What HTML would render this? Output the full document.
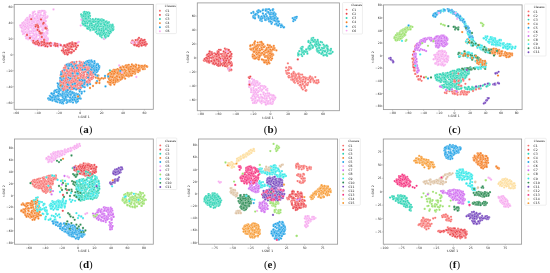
<!DOCTYPE html><html><head><meta charset="utf-8"><style>html,body{margin:0;padding:0;background:#fff;width:550px;height:273px;overflow:hidden}svg{display:block}text{font-family:"DejaVu Sans","Liberation Sans",sans-serif}</style></head><body>
<svg width="550" height="273" viewBox="0 0 550 273">
<rect width="550" height="273" fill="#fff"/>
<defs><marker id="k0" viewBox="-1.5 -1.5 3 3" markerWidth="3" markerHeight="3" markerUnits="userSpaceOnUse" overflow="visible"><circle r="1.15" fill="#f76e6c" stroke="#fff" stroke-width="0.22"/></marker><marker id="k1" viewBox="-1.5 -1.5 3 3" markerWidth="3" markerHeight="3" markerUnits="userSpaceOnUse" overflow="visible"><circle r="1.15" fill="#ea4048" stroke="#fff" stroke-width="0.22"/></marker><marker id="k2" viewBox="-1.5 -1.5 3 3" markerWidth="3" markerHeight="3" markerUnits="userSpaceOnUse" overflow="visible"><circle r="1.15" fill="#28d2b2" stroke="#fff" stroke-width="0.22"/></marker><marker id="k3" viewBox="-1.5 -1.5 3 3" markerWidth="3" markerHeight="3" markerUnits="userSpaceOnUse" overflow="visible"><circle r="1.15" fill="#f47d22" stroke="#fff" stroke-width="0.22"/></marker><marker id="k4" viewBox="-1.5 -1.5 3 3" markerWidth="3" markerHeight="3" markerUnits="userSpaceOnUse" overflow="visible"><circle r="1.15" fill="#22a2e6" stroke="#fff" stroke-width="0.22"/></marker><marker id="k5" viewBox="-1.5 -1.5 3 3" markerWidth="3" markerHeight="3" markerUnits="userSpaceOnUse" overflow="visible"><circle r="1.15" fill="#f7a8ef" stroke="#fff" stroke-width="0.22"/></marker><marker id="k6" viewBox="-1.5 -1.5 3 3" markerWidth="3" markerHeight="3" markerUnits="userSpaceOnUse" overflow="visible"><circle r="1.15" fill="#d06cf0" stroke="#fff" stroke-width="0.22"/></marker><marker id="k7" viewBox="-1.5 -1.5 3 3" markerWidth="3" markerHeight="3" markerUnits="userSpaceOnUse" overflow="visible"><circle r="1.15" fill="#9ae06a" stroke="#fff" stroke-width="0.22"/></marker><marker id="k8" viewBox="-1.5 -1.5 3 3" markerWidth="3" markerHeight="3" markerUnits="userSpaceOnUse" overflow="visible"><circle r="1.15" fill="#30e8e8" stroke="#fff" stroke-width="0.22"/></marker><marker id="k9" viewBox="-1.5 -1.5 3 3" markerWidth="3" markerHeight="3" markerUnits="userSpaceOnUse" overflow="visible"><circle r="1.15" fill="#2a8a52" stroke="#fff" stroke-width="0.22"/></marker><marker id="k10" viewBox="-1.5 -1.5 3 3" markerWidth="3" markerHeight="3" markerUnits="userSpaceOnUse" overflow="visible"><circle r="1.15" fill="#7445bd" stroke="#fff" stroke-width="0.22"/></marker><marker id="k11" viewBox="-1.5 -1.5 3 3" markerWidth="3" markerHeight="3" markerUnits="userSpaceOnUse" overflow="visible"><circle r="1.15" fill="#dcc0a0" stroke="#fff" stroke-width="0.22"/></marker><marker id="k12" viewBox="-1.5 -1.5 3 3" markerWidth="3" markerHeight="3" markerUnits="userSpaceOnUse" overflow="visible"><circle r="1.15" fill="#f5307e" stroke="#fff" stroke-width="0.22"/></marker><marker id="k13" viewBox="-1.5 -1.5 3 3" markerWidth="3" markerHeight="3" markerUnits="userSpaceOnUse" overflow="visible"><circle r="1.15" fill="#fddc98" stroke="#fff" stroke-width="0.22"/></marker><marker id="k14" viewBox="-1.5 -1.5 3 3" markerWidth="3" markerHeight="3" markerUnits="userSpaceOnUse" overflow="visible"><circle r="1.15" fill="#f79a32" stroke="#fff" stroke-width="0.22"/></marker></defs>
<g fill="none" stroke="none"><path d="M65.2 85.5l12.7-7.2 15.4-9.1-23.6 .5 13 8.7-14.8-6.4 15.3 12.6-16.1-15.5 6.7 4.5 19 4.5-22.7-9.3 10.2-1.7-14.7 14.5-2.1 7 7.8-12 21 1.1-29.5 .7 3.5 3.6 15.6-13.7-13.3 5.4 9.7 8.8-17.7 0 17-16.8-1.8 1.4 9 9.7-22.8-4.2 24.7 1.5-.1-8.9-21 18.4 3.1-.7 24.4-12-24.2 1.1-.8 16.2 14.6-15.8 6.4-7.2-10.3 9.4 8.8-6.7-11.8 5.1-5.4 6.8 9.8 5.7 2.8-18.1-10.7 4.5-11.6 6.7 26.6-6.9-12.5 .7-8.2-2.3 10.6 17.4-8.6-18.1 16.2 13.8-16.9-14.4 12.9 18.9 4.1-4.5-.3-1.2-15.5 3.8 18.5-4.7-16.2 2.6 9.9-13.5-4.6 18.7 12.8-6.3-17.5-2.9-7.4-7.7 6.9 16.9 4.9-13.1-4.1 11.6-.5-10.6 1.4 2.3-4.8-11-2.5-2.4 17.6-3.4-8.5 22.1 15.6-5.6-17.6 2.7 8.2-11-4.4-1.2-12 14.2 14.9 4.3 8.3-4.4-19.7 1.7-5.7 1.1 13.3-11.2 12.4-10.2-.4 16.4-12 4.1-11.4-7 29.1-5.8-11.9 5.2 .2-.5-11.8 12.4 7.3-24.8 2.2-3.2-16.5 26.9 14.6-17.8-8.7-5.1-3.9 .1 0 10.3 14.7 1.7-5.7-.5-11.3-2 29.3 3.7-21.8-8.1-5.3 8.8 6.3-15.3 6.2 1.9-10.1 6.7 15.8-5.1-21.2 9.4 25.8-12.6 2.2 15.3-17.1 1 17.1-2.4 3-.7-12.7-10-11 8.2-1 12.3 9.2-16-7.7 .7 14.7 12.2-12.3-1.9 13.2-15.9 2.2 15.4-18.2 5.4 17.4-16-23.1 15.5 11.3-14.8-2.4 10.6 8.9-16.7-10.5 13.3-3 6.2 4.8-23.9-.2 24 8.6-8.7 12-5.6-17.9 1.1-7.6 11.2 11.2-19.2-2.3 14.1 3.1-11.5-4.6 17.7-2.8-11.1 12.9-5.3-10.2 16.4 14.9-18.3-8.4-2.4-12.2 23.4 16-20.3-6.3 11.3-12.6 10 3-6.2 14.6-10.1-16.6-5.3 25.8 4.5-15.7 3.8-5.4-8.5-.3 15.3 10.9-9.5 9.2 1.9-19.1 3.1-5.6-4.1 16.2 11-20.3-11.8 15.4 .8 137.9-19.4-8.9 3.4 14-1.5 1.5 7.1 1.8 1.4-.5 .4 5.1-5.3-15.3-2.4 .5 1.9-4.7-5.8 6.6 9 80.5 15.2-4.3-4.7 14 4.4-6.5 7.7 6.2-1.8-2.8-4.5 4.5 3.7-.5 1.7-12.7-1.8-6.5-12.6 13.8 11.2-4.5 0 16.2 1-12.9 2.6 12.3-4.2-7.1 3.8 1.9-5.1-9.4-5.8 2.9 7.1 3.4 1.7-6.4-8.9-12.1-.7 1.9 3.7 3.5-1.7 7.2 6.8 1.2-2.5 2.7-2.1-11.3-.8 9.6 9.7-6.4-5.8 118.3-14.4 1.2 1.6 5.4 11.6-5.2-10 4.1 10.3-5.5-12.3 8.4 13.8-7.7-18.5 36.6 20.5 8.4-3.3 .4-5.1 .5 3.5-12.3-.9 15.3 15.8-8.8-1 2.2-.6 .2 .2 .8 1.2 7-1.4-10.5 1.3 10.4 1.9 3.6-1.6-1.1 1.6-14.8-3.2 5.1 .3 7.1 1.4-6.4 1.9-12.3-1.9 15.1 1.5-4.7-.6-10.8-1.2 24.1-.6-386.5 74.3 7.1 10.2-7.8-11.7-1.1 3.4-2.8 .8-39.6 18.3 6.1 3.6 6.1-4.6-1.7-6.3-5.8-1.7 3.6 13.3-12.9-5.7 16.6 6.3-8.1-3 5.1 2.6 7-15.2-15.2 10.6 4.9-9.9 2.9 6.1 8.2-4.1-3.3 .5-3.1 3.9-9.6-4.9 6.4 10.5 1.8-13.2-.1 1.9 .4 8.4-6.4-1.5 7.7-5-10.5 8.5 14.4-10.1 2-.5-6.3 12.8 2.1-6.8-17.5-2.2 18.3 2.4-19.6-2.1 16.5-5.2-8.1 9.9 5.7-4.4 1 6.3-1.6-7.5 .6 11.9 .6-3.1-2.7-12.2 3.8 9.2 6.8-10-10.8 2.7 261-13.5-2.5 .8 1.5 1.7-4.4-3.2 3.7 2.1-6.2-1.4-.1-1.1 1.4 .2 2.8 1.4 .1-.3-2.7-.5 5.7 8.9-6-.1 6.1 0 .5 6.2-.3 .7-6.6-.3 5.4-2.3-.4-.9-12.4 17.7 10.6-2.9-.3 1.7 4.4 6.4-4.5-8.2-8.1 .5 1.5-.1 9.9 10.8-2 3.5 1.3-3.9 121.7 18.6-6.2 3.1 4.7-7 1.4 6.6-3.9 .8 5.4-1.1 5.5-.6-8.6-1.9 .9-.2 3.3 1.5 1.3 1.8-8.4-.6 1.1-.9 6.6-3.4 1.9 3.9-10.2 .3 10.1 0 20.3-4.4-6.7-4.8-21.1 5.1 3.3 .8 2.9-.5-3.4 3.7 4.7 1.7 .5 .3 22.1 7.3-8.6-1.4-2.9-.3 7.3-1.8 2.6-1.7 .7 5 11.3 .7-1.1 0 3-3.9-11.4 .4-.4 .8 4.4 2.1 0-.5 8.6 2.2" marker-start="url(#k0)" marker-mid="url(#k0)" marker-end="url(#k0)"/><path d="M63.1 46.7l8.1 6.5-.8-.9-6.1-6.3 7.9-3.6 2.1 .9-10 2 4.7 1.5-2.2 6.6 2.8-1.4-2.2-7-3.3 5.9 3.3 .2 .4 3.1-2.9-.1 5.1-9.3 1.7-.2-1.6 4.2-4.1 3 .9-1.4 .6-2.1-1.3-1.2 6.5-.7 3.1 0 65.6-2.9-2.1 1.6 4-3.5-.2 3.1-2.2 .1-9.4-2 12.6-.9-4.6 .5-1.7-3 5 4.3 1.4 1.2-3 .5 71.4 10.9 5.2-1.4 9 .6-1.1-3.3-17 6.9 14.7-3.4 8.1 7.5-26.8-2.3 22.1-10.5 1.3 14-6-.2 7.4-7.7-16.2 .7-6.1 2.8 15.5 5.6 1.2-.7-1.1-10.9-5.4 2.7 8.6-6-6.8 5.7-3 3.9 12.7-10.1-2.8 12.9-10.4-4.2-4-6.8 1.7 5.7 17.8 12.4-7.6-9.4-13.4-7.6 17.7-2.4-12.6 8.8 11.5-10.3-14.1 14.3 18.3-1.5-5.9-.2-13.9-7.7 13.1 1.3-5.6-2.1 3.8 6.5-17.2 .7 8.2 1.5-2.1-7.4 3.5 8.5 3.2 1.8-9.5-5.7 22-3.1-2.5-2.8-13.8 0 9.3 9.2 188.8-3.9 5.8 17.4-2.9-29.8-322.3 125-8.7-4.4-1.1 .1 .5-3.5-.5 5.9-3.8-2.4 11.2 5.3 3.8-1.9-5.6-3.3 4.1 5.4-4.7-1.7-7-5.1 7-.3 4.1 7.6-8.6-2.1 1.8 3.9-1.5-6.4 11-1.1-9.1 3.9 2.4 1.9-8.1-5 10.6-.2-16-1.1 15.9 2-3.8-2.2-8.3 .7 4-.7-2.1 3.7 1.5 1.6-4.8 .5 4.6-4.3 13 4.8-14.7-.6-6.7-4.7 232.1 37.7-4.5-1.3-8.7-7.3 10.2 7.9-2.3-.6 1.3 1.2-8.1 1.4 3.7 .6-.2-3.9-1.1 4.8 1.2 1.6 7.2-9.2-7.7 1.3-.2-6.5-2.4 11.6 3.7-12.8 2.8 2.9-5.7 10-2.1-7.4 .2-8.7 2.2 3.4-5.4 1.2 154.9 35.5 5.3-2.5-1.3 .4 5.1 6.2-7.3-5.3 5.1 1.5-.9 1.9 1.5-2.4-12.2 .2 20.2 1.7-1.5-2.9-6.1 4.8-14.1-3.3 24.6 .8-1 .3-3 .1 .6 3-3.7-4.1 9.6-.2-5.6 4.2-4.6-5 2.2 1.2-2.1 3.6 5.9 1.2 3.5-6.4-9.2 3 3.1-3.5 1.1 4.4 6.1 .5-5.6 3.6" marker-start="url(#k1)" marker-mid="url(#k1)" marker-end="url(#k1)"/><path d="M109.2 28.2l3.9 .8-8.8 .9-6.4-6.3 8.4 10.8-22-9.5 4.4-12.5 3.3 11.1-.5 .6 21.3 4.4-31.2-12 11.5 10.9 19.7-.5-25-7.3 22.6 8.9-7-6.3 5.5 0 1 6.1-.1 4.5-27.1-12.2 14.1 .9-10.5-8.4 4.5 6.8 14.2 6.7 .2 11.4-1.8-17.3-2.6-.2-19.2-5.5 4.5-2.9 3.4 11.2 16.3 10.8-2.1 4.5-10.1-16.6-6.3-7.5 21.9 11-7.5 .9-3.6-1.9 13.6 1.5-27.6-4.8 19.3 .3-10.3-.8-10.5-4.5 24.6 12.2-.8 4.3-21.8-15.3-.5-3.7 21.8 13.3-16-8.4 17.6 9.1-.1-2.6-2.4-1.9-21.4-8 8.2 8.6 8.8 .3 9.3 .5-23.7 1.6 1.1-3.7 .2-7.7 20.3 9.3-20.5-6.7 23.6 14.6-10.5-8.6 2.1 11.1-1.1-15.1-17.8-.6 19.2 14.9-8.9-8.5 15.6 .4-16.7 4 5.6-10.3 200.3 35.5 19.3-13.2-19.8 11.6 20.9-7.6 8 2.2-17.2-.8-8.1 .2 19.2 6.4 .4-3.9-15.8 1.9 8.6-9.5 12.9 13.8-5.1-13.5-13.4-1.5 8.2 9.2-.6-3.4 9-.3-7.4 1.9 1 4.3-8.3-3.7-8.4 3.7 1.7 .5-5.6 2.5 24.5-1.9-5.5-12.3-10.7 8.4 11.8-6.6 9 4.9-15.8-3.1 142.9 33.3-10.9-4.8-4.1 .6 29.5-1.9-12.6 13.1-.9-2.1-16-6.5 20 4.9-11-7.5 18.9 .7-22.3 4.9 13.9-2.3-4 .1 9.3-8.6-10.9 3.6-8.2 10.3 9-11.8-2.8 8.6-6.1-1.1 .9-5.3 15.7 .3-15.4 7.7 5.3 1.6 9.3-10.8-10.2 9.4-11.2 0 2.7-5.8-5 3 16.3 5.2 4.8-8-22.6-.7 29.8 .8-5.2-5.4-20.2 10.1 25-7.2-3.8-1.9 3.1 7.1-6.2 4.7-4.8-9.6-6 3.9 1.7 5.4 11-4-12.7-5.9 .9 3.2-6.4 .6 9.2 2.1 13.5-2.7-12.2 3.4 11.7-9.1-15.4 13.8-13-9.3 18.8-1.1-12.9 1.4 .6 .4 1.1 5.8 21.4-8.7-22.3 3 18.5 12.6-5.8-.7 2.2 .7 26.1-3.3 3.8 .5-41.5 1.4-3.6-1.7 30 1.6 .5 2.6-31.6-3.7 32.5 3.8-29.7-2.4 7.7-.2-2.7-.3-1.3 .7 21 1.1-383.8 84.4-3.3-2.1 11.1 4.3 .3-1-14.6-3.4 20.6 16.4-9.2-4.6 8.6-1.7-14.5 18.7-5.9-14.5 4.4 3.8 4.5 0 9.3 6.9-3.7-11.9-7.4 .5 11.8-5.9 1.3 2.2-5.5 9.5-15.6 1.6 4.6 8.6-2.1-18.4 1.7 17.9 9.8-8.7-14.1 5.4 10.4-9-6.9-6.3-2.8-.3 21.2 6.1-6.7 11.3-1.3-20.1-14.4 4.9 5.1-3.2 8.6-1.7 7 3.9-.9 15.7-12.1 1.5 .1-18.1 5.7 13.3-1.6-7 4.4 11.4-10.3-17.9 1.5 3.1 6.9 13.7 3.2-8.5 1 1.8-2.5 8 3.3-19.6-7.6 7.4-3.7-1.9 10.7 5.3-9.7 4.5-4.2-10.3 .3-4.9 14.1 11.5 2 4.6-13.5 4.1 8.3-3.6-7.5 1.8 13.3-16.6-9.5 16.5-9.8-9.4 19.3-6-2-1.9-12.9-1.5-4.4 7.1 6.3 1.2 6.1 2.3 1.4-9 114.7 23.7-1.2-5.4 13.3 2.8-7-5-2.2 6.6 3.9-5.8-2.5 3.1-4-3.1 3.7 3.6 3.6 3.3-2.5-6.8-3.8-3.6 6.1 3.6-6.8 5.6 1.9-5.4-.8-2.3-2.9 7.7 8.3-4.2 4.1 .8-9.8-.4 2.6 .1 5.9 5.1-1.7-9-6.5 4.2 2.3-1.1-3.7 4 6.5-2.7-1.2 .2 5.1 4.3-9.6-4 9.4-.3-9.2 3.2 8.5 1.2-6.3 0 7.4-7.3-4.5 3.5-8.9-3.7 11.2 6.1-5.1-3.4 5.5 5.8-7.3-1.9 5.7 .4-8.1-6.8 3.1 8.4 6.1-10.6 3.5 9.5-10.4-3.1 8.9-3.6-4.6-2.6 4.5 9.3-4.8-6-3.9-1.2 1.4 .3 192.9-1.1-5.1 4.4 5.9 3.8 6.4 5.7-10.1-15.4-7.6 3.9 5.5-1.1 .4-.1-1-1.9 2.7-.9 5.6 10.4 .1-4.5-1.8-4 .4 8.9-1.5-2.1-2.7-7.1 8.6 10.4-3.4-4 .9 3.8-4.6-9.5-1.1 4.8-5.8-3.9 11-.6 1 7.4-1.3-5.8-8.1-4 4.6 5.8 4.3 4.2-5.7-2.3-4.4-5 2.6 .2" marker-start="url(#k2)" marker-mid="url(#k2)" marker-end="url(#k2)"/><path d="M98.5 75.6l-1.6 6.3 16.6-12 12.9 2.8-4.7 6.3-4.5-8.5 1.3 1.1 6.1-2.1 17-2.6-7.7 4.2-10.1 4.9-10.3-.6 6 4.3 15.5-5.9-14.8-3.9 5.1-3.9 15.4 0-31 9.7 35.5-9.1-9.8 5.1-4.2 1.7-15 .2 3.8 .7 19.5-6-27.2 8.9 19.6-4-17.2 .9 .7-2.5 12.1-6.4 .9 8-16.8 6.4 27.7-12.7-1.7 2.2-14.4 .9 4.6-4.4-8.4 10.1-1.7-6.2 4 1.7 21.7-4.2-15.9 9.1-13.4-4.5 3.6 4.8 4.9-9.9 6.1 5 1.5 2.1-3.2-.3 1.7-.8-8.6 7.4 3.3-7.4-1.3-2.3-4 4.4 28.9-7.8-19.7-1.4-14.6 9.7 19.3-8.7-19.8 14.6 21.5-14.9-23.7 11.5-1.9 4.7 26.6-10.9-9.6 7.3 2.7-4.4-7.4 3.9 9.8-3.1-7.5 .8 6.2-1.1-11.3-5.7-8.4 13 13.7-8.8 9 2.1-21.7 7.8 2.9-8.2-3.6 8.9 159.9-25.4-3.4-8.1 .2 .1-8.7-3.8 1 4.3 8.3 5.8-11.7-10.6 15.7 3.9-19.3 0 11.1-.8 9.9 4.7-17.5-12.6-2.3 3.5 11.2 6.7-10.8-1.3 20-1.9-12.1 4.5 11.4-3.1-20.5-.4 16 9.4-13.9-7.9 17.1 9.1-2.2-5.7-2.2-5.3 .4 15.1 4-12.1-9.6-7.9 8.2 8.7-6.1 7.9-5.9-2 10.6-4.6-12.6 3-2-9.4 12.4 2.5-13.4 4.7 15.9 6.7 2.8-11.2-11.7 3.6 13.5 1-3.4-5-11.9 7.1 .1 .1-1.6 .7 3.6-4.5-6.9 1.1 .6 2.1 17.8-5.5-13 2.8 1.2-5 7.1-.9 233.9 3.6 5.4 3.6 3.8-.2-12.8-3.7-1.1-.9-.6-.6 4.4 3.5 10.6 .7-17.4-4.9 13.8 8-13.1-5.1-.3-1.3 11.3 3.1-27.7-7.5-11.9 8.2 20.7 10.7-453.8 140-3.4 9.3-5.7-11.1 9.1 1.8 3.9-5.5-2.2 .4-1.1 5.5 5.6 10.9-8.9-1.8 7.9-13.6-5.2 3.1 4.2 1.4-1.2-1.7-7.5 11.7 5.1-9.3-4.7 2.6 8.3 6.2-5.2-6.9 5.6-3.5-1-4.2 3.7 11.7-2.6-6.4-11.7 7.5 11.1-5.2-7.7 8.5 8.3-5.8-6-3.4 6.6-7-14.1 11.4 2.2 .2 11.1 .8-2-2-1.8-8-9.5 9.5 14.5 1.2-2.4 4.4 438.1-60.1 9 7.4 .3-5.7-5.8-3 9.3 4.4-3.7-5.6-.8 .2-7.4 3.6 13.5 1.1-6.3-.7-4.9 1.3-2.4-2.5 6.9-.2-3.6-4.6-2.1 5 3.8 4.9-2.1-3.3 7.9 6.6-4.1-1.5 1.8-7.1 2.4 .6-8.7 3.8 20.3 4.7 2.3 1.1-2.7-2 1.8 1.8" marker-start="url(#k3)" marker-mid="url(#k3)" marker-end="url(#k3)"/><path d="M96 77.6l-23.8 9-.8-23.1 15-.6-13.4 15.4-13.3 12.2 33.3-25.5-25.5 9 8.1 6.8-4.1 11.2-6.8-3.5-1.4 12.4 21.1-9.6-5-1.5 .3 1.7 3.4-22.9-34.2 29.9 18.4-5.8-11.9 2.9 6-18.8-.2 19.2 32.9-33.2-26.9 18.6 20.3 4.2-4.9-2.1-22.1-.7-4.7 13.5 29.4-28.3-6.3 14.7-15.8 3.1 13.7-17.2-6.7 6.2-9.3 8.6 12.6-13 17.6 2.8-15.2 4.9-3.3 8.9 16.8-12-18.3 3.7 16.4-8.5-8.6 14.7-4.7-20 .8 3.1-1.5 15.4 1.6 .2 .2 4.4-5.1-5.8 13.9-3.7-7-11.7-2.1 2.7 5.3 .5-11 10.1-5.6-3.9 13.7 6.1 21.8-15.9-7.3-.3 3.7 5.8-1.8-3.6 3.7-4.3-3.7-.5-3.1-1.7 3.2 10.7 1.8 2.4-7.9-12.6 5 3.2 1.9-2.6-1.9 3.5 4.7 3.1 1.2-.3-33.4 21.2 2 2.1-15.4 1.1 18.6 8.2-12.3-9.2 5.2 4.4 1.7 3.2-4 1.1-8.6-3.2 20.6 4.5-7.6-9.9 13.6 5.5-15.1-3.6 4.1 2.1-5.5-4.6-3.7 3.8 8.3-4.5 3.4 7.6-20.7-3.2 22.3-2.2-6.1 4.6 11.2 2.2-3.3-7.3-9.3-4.3-7.7 9.8 6.2 1 7.5-8.2-16.5 8.2-1.9 .3 5.1 2.1 17.3-5-25.2 2.1 26.7-5.4-7.1 7.9-2.5 1.3-5.4-2.2-2.8-4 13.4 2.8-3.6 1.4-6 2.1 2.6-7.1-11.6 .3 5.6-6.1 .4-1 18.9 12.1-6.5-.6-7.9-10.1 209.9-73.8-19.2-1.5 18.6-5.7-14.6 .8 22.6 16.8-22.9-15.6 15.4 8.8-1.3 2 2.3-6.5 9.7 11.4-7.3-5.6-3.2-3.8-.4-8.3-3.4 4.5 5.3 10.3 1.3-.9-12.5-6-7-3.1 1.7-2.6 14 .9 2.2 3.4 .9 3.7-3.1-.8-5.3-1.4 3.9-4.5 2.7 .6 2.2 7.8-12.3-4.5 15.6 6.9-20.1-6.4 17.3 6.6-14.7-5.2 2.7-1.8 4.8 2.8-9.6-2.4 14.2-5 2.8 6.2 176-5-12.6-.9 29.3 24.3-25.4-26.7 13.9 4.8 10.4 17-33-18.4 32.5 18-10.9-15.3-23-1.6 32.4 14.8-14.6-19.6-7.6 .1-.6-.7 16.4 9.5-1.8-1.9 4 2.4-27.1-3.6 2.7-2.3 21.9 2.1-21.5-4.4 10.9 .2-383.6 218-3.9-.1 17 1.7-22.1-6.2 11.4 7.6-11.9-10.8 3.3 3.7 2.1-.7 20.2 12-14.5-10.2 8.9 7.8 .5 3.9-1-10.2-15.9-3.2 5.4 1.1 8.6-.3-5 6.1 .1 3.2-1.3-6.5 6.1 5.1-8.5-4.3 4.1-3.5 13.3 5.8-6.8 2.9-16.1-10.1 12.2 10.8-3.6-3.9-.9-3.5 3.8 4 9.1 4.7-24.6-13.7 21 9.6-7.2-2.5-2.4 3 12.7 3.3-10.7-7.1 .1 4.3 7.8 .3-10.3-4.4 7.7 3.3-.5-2.3-3.1-4.7-1.2 5.6-1.5 .9-4-4.9 5.4 2.3 1.7 3.2-6.8-3.4 10.9 3.1 2.8 1.3-15.5-3.9 10 1.7 2.9-3.8 2.6 11-11.2-11.2 13.7 7.8-3.8-2.7-1.4-4.5 6.1 5.8-18.6-5.5-5.8-5.6 7.9 .9 5.3 9.3 13.1 3 195.7-1.8 3.3 0 2.1-6.6 0 3.7-8.8-.5-1.4 1.4 3.4-8.9 5.6 .3-4 4.4-7.4 3.7 8.3 6.3-.4-2.2 2.9-7.1-7.4-1.4 2.6-3.3-3.2 8.1 .2-7.5 2.7 13.2 3.2-8.5 1.5 5.8-8.3-1.4 3.9 3.2-2.9-4.4 7.1 2.1-1-7.5-1.3-4.3 3.2 5-5.9 6.2 1-6.2 4 8 .1-3.7-4.4-8.1 .6 12.3-4.6-4.2 172.2-84.1-.6 7.8 7.6-10.5 1.1 3.3 3.1 4.4 1.5-1.2-12.7-2.7 7.2-3.6-5.4 1.1 9.3 1.8 1.2 2.7 1.9-1.4-8.8 4.9-5.1-7.3 3.9 1.1 2.3 5.8-2.6-6.9 .6 10.4-3.6-10.9 1.4 9.3 1-8.8 2.9-1.3 4.4 6.5 2.3-2.9" marker-start="url(#k4)" marker-mid="url(#k4)" marker-end="url(#k4)"/><path d="M21.2 26.1l20.6-1.4-15.1 6.7 13.2 10.6 6.5-10.1-4.4-5 9.9 17.6-14-10.1-7.5-9-3.9-6.6 7.4 12 5.6 1.9 6.1-20.4-12.8 0-3 11.3 10.3 14.9-12.8-20.7 17.4 21.5-4.8 4.8-6.6-17.2-1 2.2-8.4 1.5 19.3-1.9-6.1 1 4.1 14.8 3.8-28.9 8.5 29.7-27.5-19.3 17.6 2.9-7.7 14.4 10.2-17.5-2.1 13.5-6.9-16.7-5.4-1.2 16.1 8.9-9.1 10.2-5.8-.1 2.4-17.5-7.8 5.7-4.3-3.8 24 17.3-6.1-9 7 12.5-3.7-32.4 1.1 22.2-8.5-15.3 0 1.2-11.8 1.5 8.4 3.1 11.3-4.6-6.1-3-9.9 1.4 12.7 22.7 2.9-21-13.2 5.6 7.5 7.7 7.1-17.1-.7 6.5-11.1-1.7-3.6 .7 5 16.6-3.6-19.3-3.2 7.2 14.3-5.4-15.7 15.4 14.6-15.4-12.2 16.3 2-20.8 0 13.2 4.3 9.1 1.4-23.7 6.9 26.9-9-2.2 14.6 3-4.1-1.3-1.7-19.3-2.1 18.9-8.4-4.3 3.1-21.2 5.5 17.6 1.4-6.9 2.8 9.5-12.7 2.9-.7-4.1 15.9 9.9-15.8-5.3 10.7-17.2-3.7 14.4 3.9-10.5 .3-.3-12.5 6.3 12.1-13.7 1.7 24.6-17.8-8.9 8.1 .5-2.6-15.6-4.9 17.2-.2 2.1 6-19.7 1.9-2.5 .5 25.2 2.7-14.4-.2 17.7 5.8-6.7-3.6-19.2-9.3 6.2-10.1 5 20.5 13.4-6.8-30.2 8.8 4-10.7 15.6 7.8-12.7-9 11.3 3.4-.7 2.1 .1-2.8-2.6-11.3 4.1 17.6-13.4-11.9 3.3 24.7 20 3.6 .7 2.2 .3 191 44.3 10.9 13.2-1.4-7-3.3 6.4 8-1.5 1-3.5 6.6 1.9-6.8 5 6.3 .5-8.6-10.7 4.2 2.4 4.8 7.7-19.4-10-.3 6.7 21.1-3.5-15.5-11.8-2.9 16.3 .1-7.5-3.9-9.5 2 16.1 13 2.6 4.4-7.3-20.2-5.5 3-5.1 16.3 17.9-2.9-9-4.2-.5-4 6.2 8.1 3.4-12.5-20.2 8 4.4-2.5 2.3 6.7 7.3-10.7-6.6 9.3 8.9 8.9 .5-3.4 4-18.6-19.4 8.8 19.8 2-9-4.8-3.3-4.8-7.3-.2 1.5-1.7-.8 2.3 5.7 5.4-6.7 .3 4.1 1.9 11.4-.7 2.9 9-1.1-9.8-3.2 180.4-45.4-6.7 7.1 5 5.1 3.8-.2-2.3 0 6.5-4.4-7.3 1.5 5.3 3.5-3.5-6 2.5 6.6-.2-5.1-2.1-6-1.9 4.3 6.9 3.7-7.4-4.5 8.9 0-11.8 .6 8.1-1.8-8.4 7.3 7.1-4.6-6.7-4.7 .6 9.6-.5-1.3 5.2 2.5-4.1-.2 1.7-13.9-2.2 1.8 2.9-.1-363.5 93-11.5 3.7-13.2 8.6 12.5-6.6-3.7 3.9 .4-4.7 5.9 .9-7.5 3.6-1 .2 21.4-9.6-31 11.5 21.4-9-5.9 2.9 2.6-1.2 7.3-1.1-10.5 2.5-4.6 3.8 .8 .5-7.4 1.5 21.3-10.2-23 14.1 8.8-8.6 10-2.4 7.9-4.7-22.1 8.3-1 1.3-2.9 1.8 27.7-13-18.3 7.3 5-.5-15 3.5 2.6-1.9-1.4 8.2-.7-4.2 16.9-5.6 238.2 72.2-.2-3.7-.8 5.5 2.6-5.2 1.7 1.8 5.5-3.2-3.2-.6 190.3-18.5-2.2 .9 2.9-1.2-.2 3.8-.1-.8 1.8 3.2-1.1-5.7 1.1 5.4-1.7-4.4 2.6 5.7-1.9-4.1-2.1-2.2 8.5 6.3-3.8-.5 .2-5.5-3.4-3.3 2.2 7.6-.8 1.8 4.8-1.6-9.4-3.4" marker-start="url(#k5)" marker-mid="url(#k5)" marker-end="url(#k5)"/><path d="M436.9 47.1l4.5-2.9 2.6-7.6-4.5 1.1 3.9 8.6-5.4-5.8 4.9-1.5 3 2.5-3.8 3.2 2.3-6.5-6.9 7.7 3.9-10.3-1.3 6.5 6.1-4.7-6.7 .8 4.8 6-5.9-6.8-1.4 6 4.8-2.6 3.7 4.2-4.6-5.3 5.6 4.5-7.3-1.7 1.4-6 1.9 9-3.9-2.1-1.7-3.1 5.4 4.9 .3-9.6 4.7 8-2.1-7-.1 9.1-5.3-.1-1.8-6.3-13.5 1.1-6.4 2.9 4.8-2.6-7.2 13.1 .1 11.4 6.3-23.8 2.4-1.9-9.3 10.8 2.1-5.7 .8 .6-3 10.7 .5-.9 9.9-16.7-6.9 32.2 10.7-32.5-11.8 11.8 13.5-8.9-13.5 8.8-1.3 13 12-24.9-10.9 9.3 4.3-4.8-7.2 19.8 15.3-24.3-14.2 9.6 2 20.9 3-27.6-3.9 4.5 1.4-1.3-3.6 14.2-313.4 158.2 8.9-5.5-8.6 10.2-7.6-5.6 11.4 3.5-6.5-7 1.3 3.4 7.9 2.9-6-6.2 7.5 .7-6.3 5.1 4.7-2-6.7 4.3 2.5-5.9 .2-3.1-4.8 5 10.3-7.2-1.4 3.3-9.8 4 .5 1.4-.7-5.2 7.2 7 5.8-6.6 .4 5.4 .6 10.9-2.4-3.9 2.4-2.4 .8 3.3-2.5 1.6 .6-1.6 140.2-40 7.4 1.4-3.5 .6-2.7-3.5 .9-2 .9 4.6 .8 1.9-1.5 2.2 4.1-3.5-1.9 1-5.2 .5 6.3-.5 2 2.6 1-4-1.8 1 5.2 18.4-.8-2.4-.9 2.5-.1-2.7 2.3 6.2-2 0 4-7.8-5.6 .1 5.7 6.8-.4-6.3-.2 2.8-.6 6.2-3.5-4.6 5.3-.3-2.3-6.1-2.2 10 188.9-18.3 7.9-.9-6.7 5.7 7-.5-.3 3.1 2.9-3.2-5.2-1.4-11.1-3 12.9 1.5-3.8-4.6 4.7 2.3-3.1 6.8 6.4-6.2-5.9-.6 .4 1.3-6.6-2.4 12.1 2.5-3.6 7.3-2.4-7.1-2.2 2.9-1.6 2 8.2 4.1 2.3-9.7-7.1 .8 2.9 1.6 3.1 8.3-5-3.9 7.9-.4-4.5 2.9-1.2-10.5 .5-1.1-1.6 3.5 0-2.5 4.8 10.2-.7-9.5-1.8 1.9-3.5 4.4" marker-start="url(#k6)" marker-mid="url(#k6)" marker-end="url(#k6)"/><path d="M402.4 30.3l-.7 6.4-.9 2.1 9.7-10.2-15.1 8.9 2.1-1.2 6-1.8 1.4-5.8-8.2 9.6 8.9-5.9-4 5.4 .4-.3-1.3-.3-2.4-1.4 9.1-5.6-5.1 4.7 .6 2.1-267.8 170.5 .8-13.6-10.5 5.9 13.5-2.2 3.8 .4-12.6-4.6 12.8 4-15-4.1 12.6 2-.5-3.2-12.8 13.2 13.4-10-6.6 4.3-3.6 .1 7.8 1.1-6.5-.7-6.2-6 12 7.2-7.7 1.1 12.9 1.6 3.2-4.2-14.7 4.1 8.5-7.3-5.3 6.6 2.1-.9-6.9 .8 6.6-4.6 6.2 3.5-15.1 3.1 1.4-11.7 148.5 10.3 1.2-.2-3.8 1.4-.5-.3-2.8-2.4 6.8 .8-.3-.2-5.6 2.7 3.2-2.2-4.3-1.2 8.8 10.2-4.7-1.4 154.7-8.2 2.2-1.7 4.5 8.9-6.8-.4 13-3.2-14.4-7.6-.1-5 13.2 3.2-3.5 5.6-10.7-1 2 9.3 21.4-10.2-18-.5 7.1 6.6" marker-start="url(#k7)" marker-mid="url(#k7)" marker-end="url(#k7)"/><path d="M435.4 14.8l9.6-4.4 25.4 26.5-37-20.8 22.7-3.8 15.3 28.9 3.9 3.6-3-3.8 11 9.2 1.3-.5-1.7 .6-12.9-17.7 15.1 19.3-13.5-13 21.4 2.8 3.3-.7-5.9-2.1 8.7 3.5-6.6 .8-3.3-1.4 6.1-1.5-3-2.6 16.3 9.3-18.8-5.6-3-3.3 12.6 4.8 12.7 4.6-6.1-2.5-1.1 2.1-11.9-8.9-1.3-.6 7.5 6.6-4.8-5.9 .7 .2-13.4 8.2 6.6 3.9-2.1-.5-2-2.7-10.5-2.8 15.1 8.2-15.6 4 3.9 1.8-5.7-2.6-5-2.6-6.1 2.8 13.8 1.2 7.1 4.8-4.8 5.3 2.4 .6 2.2 .6-398.2 127.4 16.3-7.1-15.3-4.2-2.8 5.9-.6 5.2 6.7 1.7-6.8-7.8 4.5 6.2 2.1 1.2 6.6-8-13.9-8.3 9.7 9.7 4.4 7.3-16.9-14.3 13 13.1-6.2-16 9.3 10.7 1.8-.8-16.9 4.4 .8 .7 7.3-15.1 1.8 16.6 7.5-19.2-6.1 .3-1.3 2.8-5.9 17.6 2.4-7.7 12.8-9.4-9.5 3.6-11.2 11.9 5.3-10.2 14.6-9.6-57 31.8 5.9 .5-5.5 1.3-2.9 .5 2.8 3.5 3.7-9.6 2.7 2.2-1.7 .7-.9 5.9 4-.3 14.8-9.1-10.5 0 8 1.4-5.9-2.3 8 3.7-1-6.2 1.7-.8 1.1 2.7-5.4 .8-2.7-.7 .1 4.5 2.1-5.5 1.3 .8-.7-2.3-3.4 1.1 6.5 4.1-10.8-1.3 4.8 14.7-4.9-.8 4.6-14.1 3.3-2 6.3 5.1-6.8-6.9 6.4 2.4-8.5 .8-5.2 .4 9.4-1.2 3 1.7-1.2 1.5-5.6-4.3-3.9-.9 227.2-29.4-7.7-2.4-9.9-.6 15.6 1.9 .8-.2-7.1-1-.8 4.8 1.1-1.9 2 .8-2.7-5.2 1.5 6.4 0-7.3 3 4.5-1.1-4.5 6.6 7.4-18.2-1.9 13.4 2.4-12.6-3.5 9.5-.1 7.6 1.8-13.6 .5 18.2 2.4-12.9-1.8-13.9-4.6 17.4-3.7 2 3.1-10.3 2.3 8.5-3.3-12.6 18.1-1.3 1.2-2.1-2.1-.6-2.4 212.9-.7-1.6-.2 1.2-3.8-14.7-.9 11.9 1.5-6.9 1.4 1.5-7.6 3.3 6.7-3.6-.8 3.7-1.7 5.2-1.3-11.6-1.2 .8 4.1 1.4 .4 8.3-1.1-13.1-6.5 12.9 3.9-11.2-4.8-2 5.1 3.9-1.3 2.1 2 6.3-2.3 3.8 14.3-1.7 .5" marker-start="url(#k8)" marker-mid="url(#k8)" marker-end="url(#k8)"/><path d="M484.5 50.7l2 .5-.7 1-30.7-22.6 3.3-2.2 12.1 15.8-4.2-1 11.3 15-12.1-2.2-.5-1.7 7.2 6.1 6.7-1.2 5.5 8.9-25.2-10.6 24.7 10.9-2.1-.4-13.2 2.8-3.4-1.3 18.5-2-13.7 2.6-395.7 105.9 2.1-.3-.1 1.5-1.8-.8 2.7 15.4 .9 2.5 167.6 13.4 .3-9.9-3.4 6.4 3.4-4.3-7.8-.8 8 1.4-3.5 5.2 5.7 1.1-3.2-6.1 3.5-.2-8-1 4.3 .6 .9-3.1-1.9 14-3.3-14.9 8.8 7.4-7.6 2.3 7.5-3.3-4.2 6.3-1.8 1-.8-7.6 1.5-4.4 4.5-.7-1.7 10.2-3.2-6.8 5.4-.9-3.9-3.2 3.3 3.9-5.2 6.3 5.4 .6-5.4-1.1-1.1 4 9.3-9.3 28.2-6.2-7 .2-4.6 1.9-1.9-.1 215.4-1.7-3.8-1.5 1.2 .8 6.6 1.1-8.4 .6 12.8-2.7-2.2 1.7-8.8 1.5 2.6-7.8-5.8 16.2-1.4-.5-18.4 5.5 2.5 1.5-4.1-2.9 22-14.1 9.4 1.7-5.7-2.8-3.8 2.9 11.9 .8-6.6-3 1.5 3.5-4-3.4-2.2 1 2.1-1.9-6.2 11.4 2.4 1.1-2.1-1.8 12-.2-1 2.6 .7-2.9 1.5 .9-10.7 .9 10 .9" marker-start="url(#k9)" marker-mid="url(#k9)" marker-end="url(#k9)"/><path d="M389.2 58.3l107.3 14.5 2.1-1-3 1.3 2.6 9.8-3 .8 2.7-.7-4.7 1.4-4.5 13.7-4.1 4.5-370.7 71.2 7.7-6.2-5.7 4.8 2.3-3.3 .9 0-3.7 5-2.2-1.2 5.1-.9 2.4 .3-2-1.2-4.1 2.8 5.9-4-4.8 3-.8 9.8 2.1-2.7 2-2.7-9 5.9 5.4-3.7 162.9-.8-3.4-1.8-5.3 9.7 2.3-6-1.5 3.8-2-2.6 10.5-2.9-9.3 5.1-2.2-5.1 10.1 2.6-4.5 1-3.6-.4 11.7 0-5.4-3.3-7.6 6 .9-5 5.4 5.3 2-6.2 5.7 2.2-11.7-2.2 4.5 7.4 7.9-1.8-4 2 1.8-.8-.5 .3-10.2-5.7 6.5 7.7-8.2-8.8 7.9 17.2-13 1.2 10.4-.7 7.2-7.4 .7 7.5-8.8-7.3 2.4 6.7-2-.3 0 3 8.6-7.2-14.3 5.7 2.2-5.1 6.2 7.8-9.3-2.2 8.9-4 2.7-5.3-12.9 6.1 .9 3.6 6.5-3.7-3.2-5.4-.1 7.4 5.6 1.8 1.3-4.7-11.9-.9 16.8 4.9-17.6-3.9 13.8-4.8-12.6 6.6 210.6 18.7 2.9 2.4-.1-2.8 2.2 3.3-8.1 3.2 3.7-4.8-.6 1.2-7.3-1.5 6.3 1.6-.7 4 3.3-2.5-.7 .2 10.6-2.6-7.4 7.1-11.9-7.7 6.7 7.8 12.8-7.2-4.8-.2-10.6 1.2 8.7 2.7-6.4-.8 15.4-1.8-7.3 1 6.3 .7" marker-start="url(#k10)" marker-mid="url(#k10)" marker-end="url(#k10)"/><path d="M266.1 170.2l.2-2.7 3.3 3.8-.4-3.6 11.9-1.9 1.7-1.1-48 28.3 2.4 0-4.4-1.7-1.8 .9 .2-1.7 4 .2-1.5 4.4-.9-3.3 6.8 21.2 .6-.9-2.5 1.1 1.3-1.8 184.6-29.4 12.6-.8-5.4 1.1-6.4 .2 7.4-.4 .5-.5 13.7-2.4-12.1 2.7-3.6-1.3 11.1 2 5.4-4.9-8.4 5.6 3.1-4.3-7.8 4.4 13.1-9-2.6 8.3" marker-start="url(#k11)" marker-mid="url(#k11)" marker-end="url(#k11)"/><path d="M238.8 166.3l9.9 7.4-4.7 .9 10.5-1.5-7.8 8.7-.2-12.7 2.7-1-5.4 12.5-.6-4.2 4.2 4.5 1.9-4.1 8.7-1-.9 1.5-15.8 1.2 10.1-1.6 3.5-.7-10.9 5.7 6.6-15.4 4.4 12.3-.7-5.2-6.7 4.1 2.6-7.9 3.1 12-5.6-2.7 8.8 3.5-11.6-2.5 5.8-9.8 5.6 1.2-9.7 10.6 4.3-11.7-3.2 9.9 1.9-1.4-4-6.3 3.5-4.6 4 6.8-6.6-5.5 4-2.5 2.3 13.9 .9-.9-7.9 2.3 6.4 1.3 10.5 11.1 .4 1.4 18.1 1.8-1.6-7.2-17.5 4.1 16.7-1.3-9-.2-5.7 .5 11.5 5.1-9.8-7.8 15.2-1 120.7-4-3.5-6.1 6.7 3.1-5.1-6.1 4.5-1.4-8.2 6.6 9.8 2.1-7.1-1.2 4.1-5.6-.7 2.7-2.9-1.3 5.5-1.9 5.8 5-2.5-2.3-.9-2.6-2.2 4.4 0-4.6-.6 6.1-6.7-.1 6.3 2.1-.2-8.3-4.7 .5 10.9 5.5-6.4-2.2 4.5 3.5-2.9-1.5-5 3.3" marker-start="url(#k12)" marker-mid="url(#k12)" marker-end="url(#k12)"/><path d="M251.1 150l-7.2 6.1 4.1-2.7-8.8 4.4-1.3 .5-1.1 3 .6 .2 16.8-10.4-13.6 6.1-3.2 3.2 8.5-6.5-3.1 3.8 3-1.4-14.6 7-1.9-.1 5.8 .9-2.3 3 277 15.1-6.6-3 10.4 8.6-11.9-2.8 4.9 1.2 6.2-.2-.4 1.5-4-4.1 3.3-.5-7.4 2.5-1.3-1.1 6.6-4.1-2.3 3 3.8-1.3-3.3 4 3-4.2 1.2 5.1-7.5-5.3 .9 1.7-2.4 .5 10.4 .6-8.1-2.2 3.8 5.9 2.4-3-2.4-4.4 0 3.3" marker-start="url(#k13)" marker-mid="url(#k13)" marker-end="url(#k13)"/><path d="M320.6 190.9l3.1-1.3 2.4-3.1-6.4 1.5 2.8-1.7-4.6 3 10 3.3-.3-3.5-5.1 4.6-1.1 4 5.7-2.3-5.7-3.9-1.8 2.1 3-6.7 6.8 4.5-13.5 3.4 7.8-6.3-2-2.8 3.7 5-11.4 6.3 13.1-6.8-6.6 .9-2-.7 8.4 0-70.5 34.4-4.6 2.2-1.4 6.5-3.7-5.2 13.2 5.3-16.9-4.9 1.1-1.8 8.6 10.8 6.8-3.7-13.9-3.2 4.2 4.3-2.5-10.5 4.7 0 2.2 2 3.9 1.1-11.7-2.5 1.7 1.3 9.8-1.4-9.8 6.6 1.9 4.6 5.5-10.1 1.3 .8-8.1 5.6 5.6-8.5 3 8.5-.4-2.4-8.7-.2-1.4 .3 9.3 2.5-6.7-7.1-.6 7.8 6.6-3.3-7.1-5.7 3.1 11.7 2-5.2-1.4 2.8 2.1-1.8 167.3-72.3 .4-1.6 5.6 5.9-2.9-1.5-4.7-1.6-4 1.6 16.9-.1-2 3.3-16.6-4.9 8.2 .7 2.5-.5 1.9 1.9 .5-2.8 6.5 4.6-.6 1.6-4.8-.8-11-6.6 2.5 .4" marker-start="url(#k14)" marker-mid="url(#k14)" marker-end="url(#k14)"/><path d="M89.8 72l-14.8-6.6-1.3 15.7 7.7-13.5 7.5-.4-21.4 22.2 3.4-16.2-6.5-4.9-.6 21 16.4-14.8-5.9 2.3-12.1 10.7 17.4-20.9 4.3 2.2-5.9 12.3 4.9 2.6-20.7-5.4 12.7-11.9 8.5-.4-1.2 13.8-15.8 3.9 10-14.9 5.1 12.8-12.7 2.8-1.5-14.6-.6 .6-1.6-2.5 22.4 2.4-2.9 13.5-3.3-19.4-19.4 18.8 12.6-12-10.6-2.8 21.5-3.3 4.3 5.6-24.1 12.3 7.3-18.5 1.1 15.4 11.2 3.4 3-14.6 2.3-3.3-7.1 15-11.9 3.8-3.2-20 17.4 2.9-7.9 8.3-10.5 7.6 20.3-16.3 4 10.7-14.1 11.1-3-9.6 1.5-14.9-7.8 3.1 5.5 4.5 1.1-1.6 4.1 3.1-6.6 14.9 7.5-13.5-5.7 6.3-3.4 2.6-1.9-4.3 5.8-1.1 8.9-15.1 2.1 2.2-3.6 7.2-21.3 3 31.6-.2-5.1-6.5 4.3 10.6-9.7-2.3 7.9-2.6-3.9-6.2-20.6 13.2 13.9-8.2-3 2.6-7.1-3.7 11.3-6-16.4 3.6 26 11.3-.9-.1 4.6-7.7-25.1-7.7 5.9 2.8 11.8 .2-13 2.7 13.3-3.3-23.9 12.4 15 8.4-3-22.5 14.8 14.1-3.7 2-2.6-8.2-.3-10 .3 11.8-6.5-10.8 7.1 16.7-12.8-18.8 9.2 19.5 4.7-17.7-12.8 22.1 5.3-13.3 1-4.1-1.8 13.2-9.5-8.1 15.6 6.5 10.9-4.4-16.8-4.5-1.7 1.5 14.6-2.6-21.5 7.4 .9 5.6 9.9-11.4 8.8-8.2-3.4 12-6.8-.7-4.8 7 3.5-15.6 7.8 1.8-2.9-2.6-3.6 4.2-13.2-.2 15.2 13 1.6-21 10.1 8.9-26.1-1.4 24.8-4.3-29.5 17.8 11.6 1.7 9.9-9.6-7 5.6 2.6-15.3-4.3-.1 5.3 2.1 128.9-5.5 11.5-5.1-4.5 6.6 1.7-1.6-11.5-1.4 25.2-8.5-4 4.7-5 4.2 5.6-.1-4.3-6 71 19.4 19.9 4.3-13.4 6.5 1.3-7.3 2.5-.9-9.2-1 11.5 3.8-2.9 9.6 14.7-6.2-14.8 .8 2.3-6.6 4.7 3.7 6.9-.7-26-13.1 22.4 12.2-21.7 .2 5.9 1.9-4.5-1.3 17.9-2.7 4.7-.5-8 8.1 4.6-7.7-25.9-6.7 12.6 10.8-4.1-.8 23.7-.6-30.6-7.2 1.1-3.8 27.6 13.1-4.8-4-.7 1.3-16.6-6.8 119.7-14.8-.3 5.5 .7 4.6 5.7 11.6-4.1-32.1-2.8 7.7 45 25-5.8-4.1-6.6-1.4 13.8 5.7 7.1 11.7-1.2 2.1-4.5-.2-4.1-3-5 .1 13.4 1.8-10.2-.9 5.8 0-6.4-1 9.5 1.2-386.5 79.9 11.2-1.4-3-7.1 3.8 .4 3 7.4-1.3-3.6 .4-2.4-3.2 3.9 6.3 3.4-18.9-6.8-37.1 16.1 3 1.8 7.6-3.7-14.6 5.8 8.1 .4-6.8-4.7-1 5.4 13.2-7.1-5.6 5.8 4.8 2.6 4.4-7.9-7.9 10.3 12.8-11.8-9 5.1-12.2-3.8 14.2 8.9 2.3-7.5-1.4-4.8-6.3 6.9 3.6 6.1 5.4-12.5-19.6 7.3 8.9-2.1-6.3 4.8 8.9-1.3-.5-7.1-2.2 1.9 4.6 2 7.6-6.7-2 4.4-2.7 1.1 3.7-2.8-5-3-7.5 7.2 14.1-7-8.3 15 3.1-15.2-11.4 11.8 .2-4.4 6.2-.4-4.8-4.3 7.8 8.7-9.6-7.4 .2-1 4.4 5.7-6.1 1.8 11.2-4.4 251-14.3-1.4-4 13.3 3.8-10.9-.5 7.6 3-7.3-3.2-.1 10 4.4 3.8-2.1-2 2.2-.3-1.8 2 .8-1.9-1.3 4.3-1.5 .3 1 10.9-7.8 .7 4.4 11.1 2.6-3-14.1-4.7 16.3 9.2-5.4-9 1.8 9.4 125.6 20.2 2.1-2 1.6-2.1-5.6-5-.4 2.5 1.1 2.8 2.2 5.4-1.8-1.8 20.3-12 3.8 4.6-.2-2.5-6-1.6 5.9 2.4 2.6-1.7-28.1 4.6 4 4.9-3.5-1.9 4.4 1.1 1.3-4.5-5 2.4 .3-3.7 41 15.7-12.4-1.8 .8 .8-3.6-2.5 9-1.8-2.2 7.6 8.4 .2-.7-5" marker-start="url(#k0)" marker-mid="url(#k0)" marker-end="url(#k0)"/><path d="M68.9 49.9l1.2-6.6 6.4 4-6.4 1.1-.2 .6 .4 3.4 1.5-.2 2.7-6.2 .8-.2-1.7-1.1-2.7-1.3-.4 3.4-7 5.7 9.2-6.2 .7-1.1-2.3 .7-2.7 4.4 5.5 .7-7.3-4.2 9.1 2.4 61.3-3.3-4.4-3.9 10.7 1.3-6.5-2.8 7.3-.4-9.7 5.1 1.4-.2 6.7-2.3-2.3 1.9 1.1-.8-6.3 1.4 4-7.3 3.6 3.2-8.1 2.8 .1-.3 1-3.5 8.5 1-3.8 .5 88.7 18.4-2.8 3.8-10.6-7.6-3.8 1.7 8.9-8 6.3 15.5-.6-10.7-14.8-1.7 7 10.2 .8-5.5 3-1.6-15.5 5.2 13.4 .6-1.3-12.1 7.9 1-14.7 9.5 19.6 4.1-4.8 .7-17.6-2.7 21.6 7.6-.3-11.5-4.7-6.9-3 6.7 1.1 .2-13.5 2.7 19.6 1.3-22.7-4.3 12.9 1.2-6.7 .8 4.1-1.6 13.4 11-22.1-10.5 20.1 11.5-4.4-9.2 .5-2.4-4.5 1.1-3.2-8.7 10.2 12.2-11.6-5.1 9.2-1.3-5.4 7.5-5.3-3.4 198.8 3-.5-9.6-317 117-8.1-7.7 2.8 4.7-1.6 5.1 5-1.1-10.1-6.8 4.7 1.9-3.5-1.4-8.7 1.8 11.7-1.4-4.7 4.7-5.4-1.5-2.8 0 15.4 3-11.9-5.4 7.3 2.7-3.1-1.4 8.1 5.8-1.3 .4-6.5-2.1-8-2.4 4.6-3.7 13.9-1-7.1 8.9 2.2-7.4-9.9-.2 10.7 8.3 4.7-10.5-1.9 3.4 201.7 31.6 5.2 7.1 2.6-11.3-9.3-2 .6 6.4-3.7-3 3.1 .9 11.1 8.1 .3 0-11.9-1.3 8.6-5.3-.7-1.2 .6 9.2 4.9-.9-13.9-9.2 7 10.4-.4-9.7-2.4-2-6.8 .7 .9-1.9 1.6 5.9 10.9-3.9-10.7 .2 9 7.7 .5-11.9 152 40.5 4.6-3.2 5.8 5.5-7.7-2.6-7.3-2.7-5.3 .3 3.9-.7 12.4 3.4-2.3 .2-4.9 2.2 12.3 0-8.8 .5 5.6 .1 5.1-2.3-.7 .6-1.2 1.2-9.2 .3-1.6-2.7 1.8 0" marker-start="url(#k1)" marker-mid="url(#k1)" marker-end="url(#k1)"/><path d="M105.7 34.3l-4-10.4 2.5 9.8-5.2-1.3-14.5-13.1 7 5 21.9 2.6-11.7 10.4 6.7-5.4-15.4-5.3 4.2-1.4 11.6 9.8-5.9-.8-12.3-7.1 11.7-7.5-17.8-3.3 4.7-2.4 9.9 17.2 10.7-4.2-6.4 7.3 1.9 3.4 3.4-10.2-18.3 3 3.2-9.3-4.2 6 10 5.6-6.6-13.6 3 4.6-12.8 1 17.8 10.6 9.1-6.2-7.5-6.6-19.8 .3 9.3 2.2 19.7 2-3.7-4-9.2 4.6 7.9-6.2 .8 2.7-17.3-3.6 10.6 3.4-10.9-7.7 20.1 15-15.9-11.1-4.8 8.2 19.7 4.8-6.6-6.6 2.2-4.3-16.4 6.1 0-13.1 19.4 10.6-3.6-2-8.4-2.3-1.9 5.9-.5 2.4 15.6-7-10.9 11.4 5.3-2.3 .3-5.2-8.7 .8 14.7-.8-13.2-1.8 4-3.5-.6-1.1 3.6 9.7-15-3.6 2.2-5.5 8.7 12.3-6.6-11.5-7.9 2.6 12.4 9-.3-8.2 10 11.4 2.2-3.4-.6 0 4.5-7-5.6 4.2 1.4 3-27.4-18.9 5.6 4.4 25.8 6.6-10.8-3.7 9.2 3.4-7.5 1.7-7.9 5.3 12-2-17.6-14.3 .6 6.1-6.3-3.4 21.7 5.8 219.3 26.4 4.8-.2-2.5-4-18.8 .1 11.8 3.3 6.2 3.1 1.4-3.3-6.6 4.1-2.6-6.2 13.6 4.4-10-.9-9.5-4.6-8.7 5.1 19.6-.8-.8-2.7-7.6-5.1-16.3 8.2 2.9 4.9 22.7-1.1-22.2-8 9-8.5 1.1 3.2-3.5 8-7.7 1.7 22.8-4-.2-.4-26 6.9 4.2-4.6 8.2-1.4 18.4 5.7-2.1 1.8-9.9-10.9 7.9 1.4-22.8 5.1 10.8-10.8-9.5 12.6-1.6-4.3 17.5 4-18 2 11.6-14.1 13.2 14.5-7.3-4.3 3.5-2.1 134.2 32.7-18.8-.7 9.9-3 1.2 6.8 4.2 .5 8.9-8.4-6.8 3.4 .7-7.6-12.1 4 6.3-3.7 10.8 9.3-18.1-7.4 1.9 3.6 11.6-6.9-18.7 4.8 23.4 4.5 1.3-10.4-2.1 7.8-9.3-1.8-3.1-.7 9.3 4-11.7 .5-8.9-4.8 14.3 5.1 11.3-10.4-1.8 4-7.7 4.8 15-7.2-1.1 .1-7.4 9.3-2.1-1 12.1-6.2-6 4.8-8.7 1.9 2.5-9.5-5.3 14.7 17.5-13.9-21.4 1.3-4.8 .6-7.6 2.6 25.1 .9-24.8-1.4 10.9 8.8-.5-10.2 17.7 .7-22.7 7.2 11.6-11.1 2.9 13.9-8.9-.7-2.6-5.8 13.7-7.9-5.5 15.8-1.5-2.7 7.4-10.6-15.1 4.9 7.4 5.8 9.1-.6 5-8.1-19.5-.4 11.9 7.9 5.5-12.1 3.8-.6-11 6-9.3 4.9 1.1 2.2 2.1-7.8 7.9-1.6 1.4 6.7-6.6-6 12.8-1.7-4.3 5.9-11.6 4 17.6-5.4-6.6 9.4-1.6 .5 31.6-2.7-15.6 3.6 13.7-2.8 .4 .1-40.9 2.9 18.2 .8-16.6 .3 20.1-1.5 2.2 2.1-22.6-.9 21.2 .8-.1-.4-19.1 .4 30.2-1 6.8-2.5-14.1 2.2-385 83.6-9 .2 7.2 2.4 4.6-.7-4 1.9-6.1 24.2 16.4-12.2-8.8 4.7 7.6-14.8-3.9 10.3-8.9-.9-6.4 3.5 .7 5.8 1.7-14.9 3.3 16.2 1.8-.6 1.7-.7 11.1-4.1-15.4-6.6-1 11.1 16.4-5.2-12.1 2.9 5.2-6.6-9.8 4.8 2.3-11.8 13.1 11-11.8-11.1 4.7-2.9 6.1 3.4 3.4 .3-15.2 0 11.8-2.6-.8 4.3-12-3.4 12.5-3.6-18.6 10.6 16.4 3.3-3.5-4.7-.4 9.6 1.4-16.7-10.5 2.2 16.8 7.1-17.8 1.7 15.1 1.7-8.7-5.8 1.5-.8 10.7 1.3-11.2 5-3.5-.5-4.4 .4 12-.4-5-9.4 5.4 13 8.2-1-16.7 .5 2.4-6.8 9.6-4.2-10.3 1.4-5.1 5.3 3.3 6.4 2.6-2.4-9.2 2.3 20-18.9-16.1 9.8 13 8 3.9-13.3-8.5-3 123.7 22.4 7.5-1.7-.3 0-3.2 .4 2.9-1.4-13.7 3.9 10.2-7.9-5.8 8.2-2.2 .3 12.4 1.5-1.9-9-7.9 2.6 5.1 5.9-2.6 1.6 1.5-8.5-7.7 4.2 12.9 4.3-5.8-10.2 8.5 5.9-10.6-4.8 5 1.1-2.3 6.1 .1-9.1 2.2 9.5-1-.7-2.1-8.9-1.9 2.2 5.2 7.7 3.9-1.8-8.6 5.1 2.3-9.6 1.8 10.2 3.6-6.8 .3-3.5-14.3 1.8 2 .2 6.3-3.5-6.4 3.9 9.8-.1 1.5-3-6.7 8.8 7.2 .8-9.9-4.8 7.9-4.6-6.5 2 .1-2.8 9.5 3.8-6.4-1.4 3.9 1.8-9.3 4.9 11-5.1 .9 0-5.7 3.2-5.6-5.6 10.5 2.5-10.1-3.1 4.8 8.9 2.4-8.1 0 2.8 3.3 4.8 183.1-1.7-10.2-7.2 17.6 11.4-3.4-8.9-9.3 .1 2.6 3.4 4.3-4.8-3.9 5.3 10.2 2.5-3.8 1.1-12.6-8.1 13.4 8.5 3.8 1-5.8-6.4 5 8.8-7.8-11.7 .7-1.2-4.6-.6 1.6 3.1-1.9 2.3 4.1-1.5 6.3 2.7-4.7 2.8-5.6-8.1 3.1 2.3 8.7 7.9-3.6-3.7-1.7-2.4-3.1-3.9 1.8 3.7-10.2-2.8" marker-start="url(#k2)" marker-mid="url(#k2)" marker-end="url(#k2)"/><path d="M97.9 75.4l-2.1 2.2 1.9-.1 34.1-10.8-8 10.7 6.1-9.4-9.1 10.6 12.9-6.8-23.1 13.2-1.7-7.8 4-.2 10.8-9.4 5.9 5.2-9.4 .1 8.8-6.4-6.8 5.1 13.1 1.2-24.5 10.8 34.2-18.1-21.7 8.9-2.5 4.9 9-5.6-10.1 3.3 6.3-6.6-17.3 3.7 23.5-5.8-5.2-.2-6.5 2.7 9.4 1.1-12.4 9.7 7.2-12.2-11 3.4 21.9-1.6-1.2 .9-13.9-3-3.3 9.7 22.8-12.1-11.9 2.6 13.9-2.4-17.2 .2 13.5 4.3-14.6 4.9-9.6-6.4 2 8.3 23.4-9.9-1.8 .5-13.4 6.9 4.5 .9-19 3.4 29.6-13.1-25.6 15.8-.6-8.3 13-7.7 4.6 7.3-7.9-.2 21.9-4.7-19.5 2.1-13.7 9.8 10.5-7.5-2.2 3.4 12.8-6.5-16.8-.6-5.2 4.3 25.1-9.5-26.1 11.4 26.1-8-17.8 12.5 17.4-13.4-7.4-.5-6.3 5.9-3.3 2.9-5.7 7.5 12.1-9.8-1.3 2.2 145.9-26-12.5 .3 8.2 3.3 2.6 10.7-7.6-17.8 1.5-.3 7.3 12.9-13-5.7 5.4-8.2-10.8 4.2 3 9.5 15.3 4.1-14.2-18.2 13.4 7-13.7-8.1 14.9 7.9 .4 2.8-10.5-9 7.3 11.3-2.3-.6-10-3.3 17.9 3.3-16.3-6.7 5.8-1-3.8-5.1 0 10.5 1.4 5.2-.5-2.9 10.1-4.8 .8 12.7-7.9-8.6 9.6-4.1-.2 3.1-11.5-3.3 1.3 4.6-.7-4.4-9.6-1.6 9.8 6.6 7.7 6.7-7.6-20 1.4 5.3-6.7-.2 16.8 8.6 232.6-2.1-10.3-1.7 14.3 4.5-9.4-6.8 9.9 3.2-9.1-.8 1.8 3 7 1.7-17-6.2 15.1 2.5-15.2-2.2 9.4 2.8 3.1 1.7-14.5-3-1.3-3.1 19.7 4.7-14.5-2.7 8.8 0-6.3-2.6-5.1 .8 15.7 5.1-7.4-2.9-21.8-6.5 8.9 3.3-16.6-8.1 4 2.7-7.7-1.3 9.6 19.2-446.9 150.2 10.3-4.8-8.7 11.1 4.1 1.6-1.5-1.9-10.7-6.2 13.6-4.8 1.1 8-10.6-9.5 8.3 10.8-2.5-8.4 6-4.7-6.2 12.3 6.9-2-.4-2.5-4.6-1.6-3 4.5-.8-10 1.2 10 5.6-14.6-7 4.7 7.6 8.6-3-2.4-1.5 2.2 .3-1.4-.5-3.6-.2 13 2.3-9.4 4.4 4.8-3.6-4.8 441.1-52.3 10.1 8.9-5.8-11.8-3 7.8 3.7 4.8 5.2-4.8-2.2-.4-2.2-4.1-3.2 6.3 2.7-4.2 2.6 4-5.7 0 8.5-3.6-2-5-4.8-2.8-1.8 1.3 0 3.7 7.5 6.1-1.7-4.8 1.8 7.4-8.2-10.3 8.2-.4-1.6 9.2-1.2 .4-1.4-8.6 .8 .5-6.4 1.6 5.3-1.4 6.2 4.9-7.6-5.2-2.5 6.8 5.8-5.8 1.8 2.5 1.3-.4 10.9 7.1" marker-start="url(#k3)" marker-mid="url(#k3)" marker-end="url(#k3)"/><path d="M60.8 89.5l-2.8 7 21.6-.3 8.8-29.1-21.9 7.9-12.9 22.3 16.1 4-2.5-34.5-4.6 28 34.8-19-5.5-5.2-8.3 2.3 12.4-5.4-27.6 9.3 13.6 4.7-21.7-1.4 26.5-16.3-14.7 10.9 8 14.8-7.5-14.2-4.2-11.5 16.6 .8-22.9 24.4 26.7-13.8-23-2 15.8 6.6-14.9 .3 4.7-15.1-7.8 17.6-1.7 6 16.1-18.5 15.7 .6-25.8 7-3.9-2.6 24.5-1.6-26 11.2 18.6-17.4 13.3-4 .4 3.3-5.4-6 9.8 5.5-2.2-2-.4 5.4-1.8-1.3-3.6-3.9 3.2-3.1 3.5 9.5-6.7-5.8 1.1 4-30.5 16.4-2.5 1.2 1.6-2.3-2.9 1.9 2.7 4.2-.8-4.3 2.6 .4-10.1 14.3 23.7 1.9-17.4-3.7 12.4 2.5-14.4-4.7 17.3-1.2-1.9 4.9-6.1-1.3-6.9-6.5 18 5.6-12.8-4.1-7.4-4.3-3.4 5.1 24.5-.8-7.7-1.1-7.1 2.5 14.2-.9-.9 6.4-15.7 .1-5.4-1.2-.6 .8 6-6 6.7 7.4-16.9-5.8 12.6 7.2-2.2-1-11.6-2.8 19.7-7.1-6-.8-8.6-.8 21 4.3-8.1 5.6-12.2-.5 18.5-2.3-22.2-4.5 8.2 8.9 4.4-9.2-9.4 4.7 19.1-2.5-14.9 3.4 3.1 1 14.3-.3 1.2-4.8-20.3-2.9 6.4 6.4-1.4-9.6 5.9 11.6-5.6-5.5-13.6 4.7 12.6-4.3 6.5-1.3-11.7-1.7 7.6 2-7.8 6.5 14.4-5.1 198.8-82.1-2.6 5.6 8.9 2-18.2-9.6 16.2 3.2-14.1-3.3 6.2 8.8 8.8-2.1 9.1 9.3-28.6-10 8.1-7.7-4.4 7.9 1.7 .6-3.3-4.2 19.4 6.3-4.5-6 3.4 .1-2.8-4.4-3.8 7.8 2.1 4.1-8.2-11.6 3.7 .1-4.5 10.7-8.6-3.6 .1-4.7 25.1 12.2-11.2-13 3.9 5.8-10.6 .5 7.8 1.4 188-4 8.4 10.8-30.8-12.6 26.5 6.3-6.8-6.8 14 15.5-.7-.2 2 2-8.5-11.6 10.4 18.2-19.6-26.9-14.8 2.4 25.6 7.6-18.2-10 16.4 6.3-4.5-2-14.6-3.4 28.6 19.8-18.4-19.7-2.6-1.8 19.3 19.1-11.7-13.2-8.8-6.4-14.1 6.6 38 20.6-.7-.5-2.9-3.8-408.1 192.4 8.2 2.4 5.8 7.1-5-9.2 .8 3.2-.6 1.5 .2 .9 10.8 2.1 1.4-.1-9.6 2.8-3.6-11.2 .8 8 8.5 4-24.1-14 18.9 11.6-19-10 23 8-6.5 1.1 1.8 3.7-7.1-7 12.6 5.4-4.4-.3 7.3 1.8 3.2-1.4-2 1.2 3.3-1.5-26.5-8.4 9.5-1.1 4.4 .7 7.6 8.2-6.6-5.9-1.5 4.8 1.3-3.6 5.8-1-24.8-7 24 8.8-.6 7.9-14.8-7.7 21.3 3.9-31.2-12.8 29.7 15.6-6.5-4.8 207.3-5.6 1.7 7.3-3.5-.4 .8-4.5 .3-6.9-5 16.6 2.8-6.7-3.3-3.9 8.1-1.1-7.7-1.9 7.1 8.9-3.2-6.3-5.5 11.2 3.7-4.2 .5-2.3 3.8-1.4-.4-6.7-3.3 6.1 .4 7.9 3.2-10.7 .2 1.9-6.9 6.2 6.5-10.5-4.2 3.4 1.8 1.8 4.4-1.1-12.2 .6 5.6 6.3-3.3-2.2 2.2 .5-.7 .9 8-5.3-3.3-6-5.7 7.9 6.7-1.1-.4-6.7-9.4 9.7 .9-3.6 172.8-76.8-2.1-2.8 11.4 2.7 3.8-5.9-2.1 0-11.2 9.1 12.4-4.2-10.2-3.6 4.9-2.4-1 12.2-3.4-12 6.7 3.5-7.4 8.8 3.7-2.2-6.1-3.2 3.8 2.5 5.6-5.1-5.6 6 8-4.6-9.5 4.4 6.5-10.4 5.6 1.2-11.7 1.7" marker-start="url(#k4)" marker-mid="url(#k4)" marker-end="url(#k4)"/><path d="M44.2 23.8l1.6 2-14 5.7-6.2-3.4 18.9 18.2-10-11.8-13.8-7.4 14 14.8 6.1 .4-6-17.5-11.1-1.3 10-8.7 9.9 28.1 3.9-26.4-11.1 25.4-6.7-16.4 9.3 4.1 .8-18.5 1.2 27.6 .3-.9-6.3-9.8 6-1.7-2.1-9.5-11.9 10.7 7.8 1.2-9-2.2 5.8-3.2 6.3 5.2 4.3 1-7.5-7.3 11.2 13.2-21-12 20.1-10.6-5.5 14.4 17.7 17-29.4-12.8 10.6-20.1 5.5 32.1-2.8-18.8-4.1-9.2 2 17.7-4.2 10.8 5-8.9-11-15.7 16.5 24.5-6.2-26-.4-.6-10.4 8.3-6.2-.9 10.7-4.4-3 16.1 26.5 8.5-32.8-16.4 23.4-1.9-18.2-1.1 16.5-10.6-3.7 9.1-6.6 6.4 9.3-16.6-18.1 21.8-2.1-7.4 26.5 17.2-10.9-21.1 4.2-2.7-8 9.9 2.1-17.1 6.2-.9-5.1 30.2-11.2-23.7 16.1 4.7 .3 21.3 .5-34.7-16.3 20.3-4.9 1.9 17.8-10.4-13.9 9.4 4.2-11.2 14.8 19.7-2.5-5.5 1.3 10.3 1.2-4.3-18.5-8.5 5.1-17.4 13.3 17.8 8.4 11.2-10.7-4.3-7.5-1.9-5.9-20.1 15.8 20.6-11.3-14.2-6.4 2.4 4.4-4.8-6.8 4 13.4-10-16 8.1 10.9-12.7 11.7 16.9-11 8.6 12.1 5.1-3.9-17-16.7 8.8-3.1-2.9 16.8 5.2-1.1-2.8-6.1 0-2-5.8 13.7-4.2-1-12.6 .9 8.5-17.6 16 12.8 1.8-6-11.7 10 7.9 1.8 10.6-13.5-22.2 17 21.6-5.6-7.4-1-14.5-15.3 16 2 0-2.8-1.8 7-4.9-4.1 0 14.9 15.2-6.3-29.5 5.6-.9-17.6 12.5 .7-2 14.7-10.7 5.4 2.1 11.1 29.3 197.7 35.3-3 14.5-1.7-4.4 4.6-2.5 12.3 12.1-9.2-17.3 1.5 17.1-3.9-4.8 9.3-3-16.5-6.8 23.7 9.8-22.4-11.1 14.2 10.3-15.9-11.4 4.7-3.9 2.4 9.5-.6 10.1 10.9 .8 .4-1.2-3.6 .9-8.2-19.4-1.1 10.3 15.9 6.2-10.4-.1-2-16.2-2.9 .8-1.7-.3 6.8 18.5-4.2 2.4 5-13-1.5 1.3 5.4 10.3-7.1-11.5-4.4 6-3.1-14.9 7.1 8.5 10.7-.9-11.1-7.7-1.5 13.9 17.4 8.9-14-18.8-4.6 7.4 9 8.2-4.2-3.6 5.1 4.8-8.2-1.3 186.8-49-.8 .7-4.6 7.5 2.1 .4-.1 3.9 9.6-7.8-7.4-4.2-.1 .7 .5 11.1-5.4-6.6 1.9 4.1 1.9-7 5.3-2.7-7.4 6.8 10.5 1.8-4.5-8.8 4 6.1-12.1 5.8 9.7-11.3-7.3 4.3 8-1.5-11.6 .2 12.6 .8-5.1-.1 1 6.4 0-10.4-4.2 8.7 5.5 4.5 3-2.9-6.6-5.7 5.8-1.1-4.8-2.5-.9 8.2 5.6-8.1-386.8 103.7-5.5 .6-.6 0 8.8-5.6-8.5 7.8 7-4.7-3.6 2.6 11.6-7.3-22.2 9.1 10.8-5-3.7 2.2 3.4-1.5-1.5-.2 22.2-9.2-20.7 9.9 20.2-10.9-22.1 12.6-2.9 4.4 10.2-6.4-13.4 5.2 2.4-1.4-1.1-.5 12.4-4.3-.4 1.1 .3-2-14 9.1 7.4-8.5-6.2 5.7 6.2-5.9-.2-.1 17.6-5.3-1.9 .9 6.9-2.7-18.9 6.7-5.1 4.5-.9-1.4 4.1-3.3 .1 3.9-3.7-1.1 4.7-2.1 7.4-1.1-17.8 6.7 12.6-4.5 4.1-5-7.6 3.6 2 .3-8 4.2 .9-1.4 .8-3.1 254.4 72.4-1.1 1.6-.9-8.6 3.7-1-2.1 2.4 2.3 1.2-.6-5.1-3.6 9.4 5.6-4.2-5.8-3 203.6-13.9-1 .8-4.9-8.1 4.5 4.4-2.2 .2-.5 1.3 2 3.3-3.1-6.6-.5 1.3 2.6 3.5-3-2.1 1.8-2.5 .7 2.6-3.9-.3 5.3-2.8 1.6 4.2-.4 1.4-5.7-4-2.9-3 9.3 6-7.1-3.1 5.2 2.9-2-1.6 .8 .1" marker-start="url(#k5)" marker-mid="url(#k5)" marker-end="url(#k5)"/><path d="M445.2 43.6l-8.1 1.2-2.1-6.9 9.2 8.3-8.2-5.7 6.8 5.4-6.6-4.5-2.9 0 9.6-.6-5.5 2 1.8-3.8 7.8 5.2-3.1-8.5 2.2 6.5-3.2 1-1.8-7.2-2.8 3.7-19.3 4.7-3.8 20.6 1.6 0 .9 5.5-2.2-2.9-1.4-12.1 2.6-7.1-1 5.2 5-9.9 10.8-4-16.4 16 .2-.7 9.7-14 8.7-1.4-15.9 29.2-2-3.2 1.7 2.7-2.8-14.9-.2 3.3 .1 5.5 5.8-20.5 .2 .6 2.3-.2-8.1 14.6 14.6-18.2 1.7-.6-10.8 5.8-2.6 24.4 7.8-29.3 8.7 1.4-18.4 21.7 14.1-22.4-11.8 5.1-314.2 166.2-4.4 8.2 14.1-2.3-7.8 5.3-4.7-9.7 11.7 1.4-4.2-4.5-6.1 11.6 5.5-12.9-8.7 1.4 5 6.3-6.5 2.8 5.2-1.7 1.1 2.1 3.2-2.5 3.6-3.6-2.5 .2-8.8-2 9.1 7.9-14.4-1.6 16.6-6.6-5.6-.8 7.1 .9 .6 3.1-4.5-2.9-.7 4.6 .1-7.4-2.6 9.2-4-5.4 9.6 12.4 .1 2.5-.3 2.4 144.1-40.9-1.2-5.7 2.1 7.2-1.1-2.6-4.3 .7 1.2 .3 .1-5.4 6.2 1.5-7.7-1.7 5 5.1 1.2-1.1-6-2.3-.2-2 8.1 6.5-1.6-.9-5.5-2.1-.9 2.4 1.4 1.9 6.2 1.9-7.6-6.3-.2-.6 6.4 3.5 2 0-2.4 3.7 3.7-4.5-5.8 1.7 2.6-2.6 10.5 21.3-5.8-1.1 1.4-1.4 1.3-4-4.6 5 4.1 4.1 .7-3.1-2.1 .4-.4 2.7 3.5-1.4 2.5-.6-1.8-5.3 195.4-8.5-7.2 1.3-3.4-5.9 10.9 4.4-3.3 5-14.9-6.7 6.9-1.5 .3 4.9 2.6 3.6-5.9-6.3 12.9 1.2-9.4-4.1 12.6 3.8-9.5-2.4 1.9 6.2 1.7-8.3-1.5 0-12.3 .6 9.6 8.6 2.8-6-1.2 3.5 5.1 2.3-8.7-3.6 6-3.3-1.3 7.1 6.9 1.8-2.1-3.6-.3-2-4.4 2.8 3.2-6.4-2.2-.4 5.8 10.4-3.1-9.1-3.9 3 4.9 6.5 1.8-5-3.4 4.8 .7-5.7-1.3 6.4 .8-.6 5.2-2-4.1 1.8 2-5.2" marker-start="url(#k6)" marker-mid="url(#k6)" marker-end="url(#k6)"/><path d="M399.3 39.9l8-10.5-8.7 9.9 5-7.4 6.1-3 0-1.6-3.8 2-1.4 4.4-1.6-4.1 .9 3.9-3.6-2-2.1 2.8 5.7 1.6 3.7-7.3 1.3 .8-10.9 8.8 4.8-6.2 3.7-1.8-.2-2.5-2.5 6.6-3.6 2.2-2.6-2.2 9.7-5.8-1-.3-3.2 3.5-3.3 2.6 1.1-.9-276.6 168.7 15.4 1.2-1.4-2.5 5.3 2.2-11.3-6.3-7 2.6-2.4 1.2 2 2.6 6.5-1.1-.9 4.5 3.8-6.1-9.1 .9 .5-3.1 13.5-3.3-6.2 5.7-6.7-.2 15 2.2-9.6-9.7-7.4 2 9.8 5.2 .2 3.7 9 0-14.5-7.8 144.8 9.7-2.5-3.9 2.3 3.7 2.5-1 4.3 6.1-5.1 1.5-.4-.3 147.1-14.6 14.4-4.1-6.1 5.5 10.4 6.9-2.4-4.3-2.3 10.5-3-5.2" marker-start="url(#k7)" marker-mid="url(#k7)" marker-end="url(#k7)"/><path d="M464 23l-4.5-6.8 6 7.4-30.4-7.6 31.6 10.2 4.1 7.7-34.7-20.6 28.7 11.2 2.8 8.8-16.7-20.7 29.7 35.3-10.5-10 .8-2.2 8.8 11.4-10-9.5 12.1 11.9-11.9-15.5 4.4 7.7 4.1 4.3-6.6-9 7.2 9.4 9.5 4.4-19.5-15.2 5.9 8.2 21-1.2-3.4-3.6 10.6 5.2-5-3.3 .1 .1-2.2 4.6-10.4-9.3-2 1.9 4.3 3.5 12 2 11.8 4.1-20.5-5.8 3.8-2 8.6 5.8-12.3-7.9 12.7 7.5 6.5-.8-17-3.7 3.9 3-.6-2.5-4.3 .5 4.8 2 12.6 2.8-9-6.1 2.4 7.3-37.3-6.5 14 3.4 .9 1-8.1-3.4 1 1-6.4-.1 21.5 6.1-8.2-.1 3.5 17.9 .2-2.6-17-8.2-5.3-2.5 13.4 1.5 8.9 8.3-18.7-8 10.8 6 8 3.1-12.5-7.2 9.1 5.4-5.8-7.5 .5 5.6-11.3-9.6 2.6 18.1-4.7 .6 17.3-2.2-16.9 2.1 0-.4-385.9 113.2 18.2 1.1-9.1 11.6 12.9-9.2-2.4-9-5 12.4-1.9-4.8 1.7 4.2-10.9 10.8-3.4-4.4 19.1-13.7-9.6 14 11-1.3-5-3.5 3-14.3-14.7 22.1 10.3-4.7-9.2-1 2-7.9 8.2 5.6 5.4-2.1 1.3-3.6-15.9-2.1 13.1-3.3-14.3 8.3-4-6.9 9.9 15.4-4.5-10.9 5.9 10.6-8.6-16.5-33.7 32.1 .2 1.6-9.1-16.2 7.6 20.7-6.4-14.3-3.9 .2 .5 4 8.9-3.9-7.9 3.4-.5-9.6 6.6 11.4-2.5-7.4 15.4 6 5.8-3.5-1.1-3.2-3.6 6.5 1.6-6.2-5.6 3.2 7.3 .1-7.3 .4 5.9-4.5 1.6 4.1-8.7 3.7 3.2 .2 4.5-5.3-3.3 10.7-7.2 5.9 3.2-12.3 8.2-6.1 4.4 2.2-5.6-1 6.5 .3-6 4.3-1-4.3 .9 2.2 218.3-28.8-2.9-11.3 1 5.4 .6 .7 9.6 4.8-14.9-1.9 4.1 .1 3-3.8-16.4 2.3 9.9-1.9 3.2-1-4-3.5 6.2 9.1-17.3-3.8 .5-3.2 19.5 8.5-10-8.3-6.7 3.1 9.6-2.4-2.3-1.6 1.5-.9 12.8 7.6-9.7-5.7 7 2.5-16.8 14.6-2.7-.7 .6-3-1.7 3.6-.4 .3 210.2-7.6 .3 8.1-1.1-9.4-3.2-3.5-10.2 2.2 1.8-3.6 .3-.2 1.3 5.3 .9-7.6 .7 9 4.3-6.7 4 4-8.3-2.8-2.2-.6 6.4-.2-3.3-2.9-1.9 .5 7.1 4 5.1 16.2-1.1-5 2.4 3.8-2.4 .2 .8 .1" marker-start="url(#k8)" marker-mid="url(#k8)" marker-end="url(#k8)"/><path d="M470.5 36.6l-12.6-8.4 .1 1-2.4-.6-.7-1.7 18.5 17.1 7.2 15.6-22.3-5.4 1 2.7 12.9 2.8-7.1-4-1.3-1.4 4.9-1 2.2 4 7.5 11.7-9.5-.9-4.5 2.7 5.9-3.5 9.6 .4-15.8 1.1 21.1 .1-410.5 116.2 3.6 7.5 164.2 9.9 4.7 4.5-.5 1-8.1-7.1 6.9-.8-2.3-1.6 1.4 8.4 1.3-9.5 2.4 4.8-1.8-5.2 1.5 0-4.9 2.9-1.8-2.6 5.4 6.6-1.8 6.1-.6-4.3 2.8-3.3 2.5-2.5-.7-.3-10 2.1 9.7-2.1-6.5 1.6 4.7 2-2.8-.4 3.1-6.9-5.6 4.1 3.8 3.7-2.1 2.5-.9 3 2.4-.3 6.1-5.3-3.8 3.6-2.8-7-2.5 7.9 .5-6.4-.3 1.6 7.6-.3-8.4 2.6-.1-8.3 .8 2.2 3.6-.1-3.3 2 3.5 3.6-3.3-3.5-2 5.6 24.7-10.5 13.2-4.1 .7 1.5 200.1 .8 2.2-2.1 1 3.9 2.2-.3 2.8-2.6-4.9 .1 3 .9-7.7 .2 7 9.9-3.5-.4-6.8-1.6 3.2 1.7 8.1-.8-5.8 .7 .4-.9-2.4 .3-23.5 2.9 .2 2.9 4.1-.9 26.5-12.9-6.4-3.8 7 3.8 .6-2.3-6.2 .6 3.2 1.8-2-1.7-5-.9 6.4 1.8-3.7-1.5-5.3-.7 5.2 9.1 .3 2.7 1.4 .5" marker-start="url(#k9)" marker-mid="url(#k9)" marker-end="url(#k9)"/><path d="M392.2 60.4l-1.7-1.8 2.4 2.2-2.3-3 106.4 15.4-1.5 .4-.2 11.1 3.7-1.2-4.4 1-9.4 18.3 1.4-2.2-2.8 3 3.9-5.5-373.7 74.8 5.7-1.3-4.3 3 5.5-7.2-2.1 .6-1.5 6-1.5 .5-4.2 9.1 6.1-4.5 .2 1.7-7.6 1.7 8-2.8 157.3 1.7-.2 2.8-4.5-3.9-3 .8 6-3.5 3.7 3.9-6.3 .6 3.9-.2 6.9-1.4-6.6 7.4-2.3-10.2 7.2 1-8.1 8.1-.6-5.4-2-4.1 8.9 6-8.4-4.3-2.1 2.4 4.2-3.4-1.1 4.3 5.6-.5-8.6 2.1 9.8 .2-5.9 3.2 9.4-1.6-5.7-6.5-1.9 9 6-5.4-8.6 4.7-4.3-6.7 .5-.9 2.4 .7-2.5 13.3 5.3 1.9-1.4-7.3 1.7 8.4 10.5-1.8-3-1.6-12 1.6 13.6 1.7-10.5 2.7 5.7-10.3 1.2 1.6-3.7 .7-7.9-1.4 8.3 4.6-.5 1.4-9.9-2.7 15.4 2.8 4.1-2.2-21.2 1.6 18 2.1-6.9-8.6 6.1 10.6-10.8-3.9 5.4 .8-4.1-6.8-5.6 9.7 11.9-.2 194.8 15.4 1.9-2.7 6.4 1.6-10.2 2.8-.5-2.3 8 9.4 7.9-7-8.8-.6 4.9 1.9-7.6-1.8 14.2 1.2-16.2-2.8 14.9 4.8 1.9-1.5-4.4 0-17.8-1.4 5.9-.7-.5-3.5 2.9 1.8 3.3 1.1" marker-start="url(#k10)" marker-mid="url(#k10)" marker-end="url(#k10)"/><path d="M268.8 167.7l-2.6-1 5 3-2.3 0-4-.6 6.5 1.1-.8-2-3.7 2.6-31.9 24.3-2-.9 4.2 1.5 0-2-6.7-1.7 5.9 19.5 203.1-30.8-3 .8 6.4 2.8-2.2-.7-3.4-.4 1.6-3.2-6.3 2.5-2.3-2.9 7.9 2.1 2.5 .5-1.2-2.1-12.9 2.7 16.1 1.4 3.5-5.4-19.4 2.2 18.9 1-9.5-1.7 4.8-1.5-6.1 4-.4-1.9-5-.6 .5-.3 .3 1.9 15.3 .2 4.1-7-6.4 1.4-2 2.6 0 1.6" marker-start="url(#k11)" marker-mid="url(#k11)" marker-end="url(#k11)"/><path d="M240.8 168l-.7-1.8 1.6 10.5 16-.7-15.2-.7 11.6 4.6-12.3 0 2 .9 10 .5-.2-4.9-7.4-8.4 5.6 2-11.1 8.5 8.8 2.2-1.5-7.8 3.9-1.1-5.1 7.5 5.1-11.6 7.6 6.4-11.8-3.7-5.8 6.9 14-8.2-5.8 7.3 1.7-6.5 1.9 6.3-10.5 1.4 10.8 3.2-8.3-2.4 6.2-2.7 1.6-7.7 4.6 9.5-10.3-.9-6.5 .1 5.6 .2 0 1.1 0 4.2 7.4 .5-12.9-4.6 7.8 3.2-5.5 .1 6.2-8.7-2 2.7 6.7-3 .5 8.2 .9 .1-10.9 .9 4.9-11.2-3.8 4.7 8.1-7.5-3.6 15.8-6.1-10 .1 4-2.3-1.3 2.1-1.6 6.8-6.2-2.8 9.1 9.5 1.7 10.8 18 .8-6.8-3.6 6.9 9.4-8.7-1.3 10.6 8.9-8-8.4 4.9-8.6-.9 6.7 4-8.3-5.9 3.2 .2 139.6-11.4 .2-2.7-3.6 .9-9.1 .9 12.9 3.3-3.8-6.4 3.3 6.3-2.6-5 3.2-.3-2.2 4.9 1.8-3.9-5-1.7-1.8 3.8 1.6-6.1 7 4.5 .9 .8-11-5.1 7.8 4.1-6.2 4.7 5.7-3.2 2.7 1.5-8.1-3.5 .4 1.8 4 4.4 3.8-1.9-9.7 .6 0-.3 6.4-5.6-1.8-.4 5.9 6.8-10-1" marker-start="url(#k12)" marker-mid="url(#k12)" marker-end="url(#k12)"/><path d="M240.3 158.7l5.8-3.4-7.4 3.1 .5 1.3 12.1-6.9-6.9 2.6 8.4-5.3-3.1 4-10.6 3.9 5.6-.9 3.4-2.2 1.4-1.5-8.7 2.9-2 4.2 14.4-9.9-6.9 5.9 3.9-4.2-6.7 4-.1 1.5 7.4-5.3-3.4 2-10.2 6.2 10.8-8-1.5 .5-2.6 1.5 9.7-5.9-10.1 7.9-12 11 .7-.1-.6-5.4 0 0 .9 1 276.4 23.4-7.6-3.4 5.5-3.6 1.3 1.7-6.4 2.6 2.5 3.5 7.9 .6-12.1-2.3 13.4 2.7-8.2-6.6 5.6 .9-5.2-4 6.2 9.1-1.9-7.4-8.3 5.2 5-5.9 2.1 5.5-6-2.2 3.2-1.2" marker-start="url(#k13)" marker-mid="url(#k13)" marker-end="url(#k13)"/><path d="M322.2 192.9l-.7-6.8 4.6 7.9-1.7-6.9-1.6-.7 5.1 .8-10.6 4.7 4.4 2.7-1.2-2.8 .1 .6-.3 1.3 3.4 3.2 .8-6.2-.9 6.5-4.5-7.3 4.1 .1-11.8 9.2 15.8-6.5-10.8-1.8 4-2.1-2.1 8.1-6.3 1.9 15.8-11.9-1.7 7.8-.2-5.2-82 42.2 14.7-1.4-3.9 1.6-8.6-.9 11.6-4.4-5 2.5 2.2 .9 1.7 1.9-4-2.7-2.3 4.3 8.7-1.6-14.9-3.7 8.1-2-.5 6.7 4.4 3.1-8.6-10.2-2.1 5.1 1.3-2-2.4 .9 12.4-5.3-11.3 9.1 10-7.9-4.8 11.6 1.6-13.3-.7 5.2 4.4-2 2.8-.5-13.1 5.6 12.5-1.7 0 1.1-2.7 4.6 4.4-6.3-10.5-3.4 178.3-60.6-5.3-6.2 .9 3-.2-1.6 5.5-.8-5.4 4.5-.1-2.9-2.4-3.3 3.3 4.3-6.4-4.5 14.9 5.9-12.1-5.1 5.5 1-3.9-.7 12.7 7.2-9-3.4-3.5-4.9 8.1 6.7-2.1-4-.3 1-5.6 .3 .5 1.5 7-1.5" marker-start="url(#k14)" marker-mid="url(#k14)" marker-end="url(#k14)"/><path d="M67.5 78.8l-1.2 4.4 1.4-8 3.9 5.6-3-6.2 10.7 7.5-11.5-15.9 15.1 20.2 9.9-13.2-10.2 3.1-20.5 6.6 21.3-.9-1-15.4 3.1 5.2-13.4 10.1 13-12.6-14.3 4.2 14.4-2.2-8.3-4.5 7.9 1.2-3.6 19.6-19.7-8.5 16.4-7.2-1.3-3.2-4 5.6 8.8-4.2-18.9 2.7 .3 16.6 2.5-12.6 23.6-10.6-8.1 3.5-4.9 12.5-9.6 7.1-3-4.2 26.7-7-30.1 5.5 7.6 4.3 21-16.5-21.4-.2 24 3.8-11.4-10.6-5.5 22.6 3.8-1.7 9.8-17.6-21.7 9.6 11.1 3.5-4.9 7.5 9.5-3.5 11-10.6-28.3 .5 1.5 .6 10.1-8.2 3 13.6-6.5-8.1-11 12.2 3.1-16.8 20.7 14.3-6.5 5.9-5.8-24.2 1.7 8.7-3.4 .2 20.4 4.8-12.2 4.9-6.8-13.4 7.4 4.6 6.7-9.5-17.6 .3 16 15.6-22.4-4.5 9.7 12.5 1.1 .8 2.5-24.2 8.7 17.8-13.3 5.9-5.6-23.2 5.4 .8 20.3 1.7-28.7 20.2 16.1-4.5 11.7-11.5-12-1.5-6.6 8.5-4.1 10.7 10.9-22.4-17.8 6.5 32.5-3.4-19.5 17.3-8.4-2.1 3.1 1.4 15.2-23.7-11.7 17.3 12.7-3.2-4.8 7.3 8.3-16.3-5.4 17.3-7.7-9.7-1-5.7-6.4-4.5-6.5 10.3 9.7-7 3.4-3.3-11.7 10.2 13.2-10.6-4.4 16.2 .6 .5-9.7 .4 3.7-6.1 10.1-5.2-3.8 5-4.9 8 20.1-16.2-13.3-1.1 5.9 1.9-9.2 12.3 8.9-3-7.9 9.5-3.6-4.3 3.8-9.4 4.9-4.2-5.3 1.4-2.6-7.3-6 16.7 14.8-9.6 15 .9-19.6-5.8 9.2 14.7 .6-3.5-1-12.8 1.3 12.5 3.8-7.4-24.9 18.8 21.5-13.5 4.6-6.3-20.3 17.1 10.5-6.7 2.6-13.9-15.4 10.2 11.1 10.5 9.3-7.8 143.9-23.2-18.4 6.8-2-9.4-3.3 3.2 22.3 13.3-.8-11.2-24.5 2.9 13.6 .8 9.4-1.6-9.5-.2 12 2-4.9-8.1-6.4 6.8 6.9-4.9 4.4 1.9-1.1 6 77.9 27.8 5.8-12-22.8-11.7 2.1 1.3 15.1 21.8-2.1-4.2-3.3-5.7-13.8-6.4 13.2 8.1-5.7-1.8-6.7-16.9 7.4 10.7 .6 2.4-4.4-2.3 8.6 .5-13.9-6.9 12.8 8.3-2.9 3.1 5.5 8.7-7.9-15.9-.5 4.2 7.2 8.6 18.2-2.5-24.6-.3-5-8.7 0 2.7 9 1.9-6.9-.5 18.5 .1-11.4 3.2 7.1 .7-12.7-3.1 2.7-1.3 14.8-.4-5.3 11.3 12.2-4.6-16.9-1.1-6.5-8.9-4.7 4.2 125-7 1.2 3.5-2.2-11.8 2.5 11.8 3 5.6 34.8-6.1-.8 17.2 10.1 1.8-8-1 .7 1.9-5.8-2.1 8 1.1-2.3-.6 .1-.8 11.4 3.5-12-.2 1.2-.5 6.1-2.6 1.7 3.2-11.5-2.7-5.6 1.6-366.4 72.6 5.1-1.7 1.6 7.5-6.5-7 12.4 7.9-4.2-4.3-.3-4.2-3.1 5.2 2.6 3.2-6.8-7.2 6 2.5 6.1-1.2-52.6 18.5 6-7.9-1.1 6.4-2.5-.6-1.7 2.6 8.8-.3-3.9 1.2 3.6-5.3-9.1 3.8 5.8-3.7-5.8 6 10.2-.3-17.6-6.5 16.7 .2-2.8 1.5-5.8 1.8 .3-2.8 .1 .8-3.1 3.5 4.9 6.2-7-8.3 7.9 2.9 5.2 .2-.2-7.4-5.3 4.9 7.6-7.8-7.8 4.4 8.2-.4 .1-1-1.3-.2-16.4 1-.8 1.8 16.3 4.4-6.6-7.2 7.5-3.2-.5 14.9-12.3-8 17.8-4.5-3.2 4.9-11.3 5.2 12.3-10.6-10.7 5-7.3 1.8 14.3 .2-14.4-2.4 16.4 0-9.2 8.5 5.8-9.3-3.4-1.3-8.7-.1 3.5 8.2 5.3-.3 7.5-6.7 1-1.8-3.8 3.5 246.4-15.2-.2-2.2 13.2 3.3-10.4 .1 .9-1.3-1.1-.9 3.3-.6-4.1-1.9 5.7 3.8 6-1.2-13-2.7 5.8 12.2 .9-2.4-5 1.9 .4-1.4 1.2 2.1 .6-1.8 2.4 7.4-1.5-3.5 2.4 2.8-4 0 .5 .5-7.3 15.8 5 6.2-6.8-2.1 1-8.2-.4 9.1-4.2-4.3 10.5-3.7-3.5 10.1 5.8-9.5-12.6 4 1.2-.1 12.7-5.1 120.2 32.4 .6-1 5.3-2.6-2.7 3.6 3.6-5.9-5.3 3.1-2-2.8 20.7-5.1 6.1 4.7-5-3.7 3.8 1.2-.8-1.6 1.2-.8-3.4-.6 3.5 1.1-.7 4.3-24.8 1.3 5.4 2-.5 .9 1.7 3.8-4.7-6.7 .6-.9 3 2.8 .3 2.6 20 1.1 3 6.7 1.2-5.4 3.6 4.7-3.7-.3 7.5 2.6 7.2-4-2.9 3.9-4.1-2.5-2.9 4.2 3.6-.1" marker-start="url(#k0)" marker-mid="url(#k0)" marker-end="url(#k0)"/><path d="M68.2 49.1l-4.1-3.5 4.3 6.4-1.8-1.3-.7-.5 5.3-3 2.4-.8-2.3 0-2.4 3.4-3.4-2.9 1.2 6.2 11.2-7.5-13.2-.1 10.4-1.6-6-.3 7.1-.1-8.3 6.8-3.5 2.5-1.1-3.7 3.4-4.3-3.2 6.3-1.6-.5 11.4-5.5 68-5.9 4.9 4.8-4.3 1.5 0-3.2-4.1 0-4 1 11.7 2.2-12-1.9 7.8-3.6-6.4 4.5 3.7-1.1 1-2.4 .6 2.6 2.6-.7-8.8 0-.1 1.4 4.9 2.1 .1-1.6-4.1-2.4 10.6-.5-6.3 1 75.2 21.4-4.9-8.3 6.1-2.2 8.2-2.3-16.1 5.4 19-1-2.1 3.9-6 6.1 1.5-.4 8.6-15.6-7.6 4.2-2.8 11.4 6.7-16.9-18.9 11.6 25.5-6.2-2.7 7.1 .7 7.7-22.1-10.1 19.6 7.8-9.2-6.8 .8-7.7-1.1 1.2-10.1 1.5 2.2-.7-.5 8.6 16.8-2.2 4.6 3-5.5-4.9-17.8 2.5 8.9-4.6-1.6 3.9 4.3-5.4 5.5 9.3 .5-7.3-4.3 1.8-9.1 2.5 12-1.1 1.8 2.4 189.1 4.6-.4 .3-333.7 101.1 9.8-3-9.6 4.8 15.6-2.8-12.8 1.4-3.7 .3 4.2 3.9 4.7-2.7-.3 1.9 .2 3.1-2.4-1.8 4.1-1 3.2-1.2-16.8-.8 3.4-4.6 3.9 2.6 11.8 1.7-10.5-1.5-5.5 3.8 16.2-3.6-8.2 2.9 4.5-5 3.7 5-17.4-5.6 5.9 4.1 7.4-5.2-5.6 0-.2 10.4-4.5-3.8 213.9 30.4-3.4-8.4 8.8 14.1-3.6-2.4-4.9-7.6 5.5 11.1-1.7-6 3.2-9.1-7.1-2.1 7.6 15.9-6.4 .5 11.2-2.4-8.9-1.6 8.5 1.8-3.9-5.7 2.4-.6-8.7-8.1 4 3.9 .2 8.4-5.5-10.4 3.5 .8-.2 15.7 160.6 20.4-7.5-1.3 4.4 3 1.6-.8 2.9 1.9-.7-.9 8.4 .6-.6-1.2-10.3 4.6 7.5 .9-.9 .1-5.6-2.8 8.8-4.3-7.8 3.7 1.2 2.5" marker-start="url(#k1)" marker-mid="url(#k1)" marker-end="url(#k1)"/><path d="M82.3 18.1l29.5 12.4-16.8-5-5.6 1-.8-8.5 12.1 6.1-11.8-9 10.7 13.6-15.9-16.3 6.5 17.3 7.7-6.7-7.3 .6 12.7 4.6 9.2-3.6-9.1-.9-3.8-1.4 10.8 4.2-25.9-1 4.1-3.9-1.5 2.1-.7-2.4-4.2-6 7.6 9.9 12 3.7 5.5 6.6-8.2-12.9-10.3-4.8 22.7 9.7-3.8 8.1-6.5-4.2-15.3-16.2 13.3 14.3 5.3 3-8.7-13.5 .8 10.5-10.9-13.3 2.5 2.1 .2-1.4-4.5-.9 .8 8.8 7.8 .3-3-11.9 14.2 16.2-15.2-.6 9.8-.5-10.9-1.2 0-4.1 6.9 6.3 16.5 3-14.7-8.2-.7 .8-3.5 .8-9.5-5.7 16.1 2.6-15.9 .7 1.2 .9 22 .9-5.1 1.2-3.1-4.8 2.1 8.9-13.9-11.8 22.7 15-20.1-16.8 12.5 7.2 3.2-.4-3 12.5 9.4-6.3-12.4 .3 .8-7.1 14.5 6.3-9 1.2-17.5-10.6 4.5 3.6 2.4-1.5 8.2 10.9 204.2 16.4 .9 2.7 7.2-11.1 7.7 6.9 1.4-3.1 7.7 8.7-15.3-7.2-.8-1.3-7.6 8.8 16.7-5.6-13.8-4.5-9.5 4.8 19.4-3.2 .5-3.3 10 8.6-25.8 1.2 17.5 .6-16.7-.6-3.9-1.6 17.5-4.6-8.7 2.9-.1-5.9 2 3.4 17.5 7.8-21.6-11.7 14.6 6.3 .5 7.1-4.3-7.5-2.2 1.1 14-.1-18.4-1-8.6 6.2 135.4 23.7 .6-3.6 18.5-4-8.8 14.6-8.5-6.5 25.2-4.2-15.9 10.9 5.3-12.4-1.3 2-6.3 2.7 19.9-5.3-6.2-1.6-10.9 5 1.4 8.3 2.8-4 9.6-1.6-11.6-1.1 1 9.9-7.6-5.2 12.8-6.8-10.6 9.4 3.2-6-6.5-1.8 11-5.2-2.2 1.7-1.5 3 2.4 5.8-14.4-2.8 9.8-2.1 11-1.8-3.7 7.5-20.9-4.7 2 2.5 9.8 3.2 16-8.4-.1 0-.6-.4-4.4-3.9-22.8 5.7 25.8 .6-3.6 1.7 1.9-3.5-2.2 5.9-14.6-2.3 22.4-6.8-10.5 1.1-12.1 8.4 21.5-10.3-2.9 6.2 2.8 .2-2.3-4.5-9.2 .7-8.7 .8 8.6 1.1 11.7 .9-18.7 5.3-4.8-7.2 16.7-5.4 3 2.8-6.7 11.7 3.4 0-7.5-12.1-13.7 2.8 24.6-.7-5 5.2 2.4-.5-3.6-3.2 12.5-1.5-22.2 12.8 20.2 2.3 1.3-1.4 15.2-1.9-4.6 1.4-28.5 1.6-5-3.5 12.3 4-5.6-2.5 37.9-2.2-39.9 2.4 18.4 1.5-1.7-.4-16.5 .6 22.9-.9-31.2-1.5 34.6 2.2-20-1.1 11.5 1.2-15.2 .6 18.9-.3-18.7-2.2-8.3-1.8 34.7 1.8-19.6 2.4 2.5-1.4 28-3-416.8 83.5 12.6 5.8-11-4.1 5.3 1.4 1.3 1.8-3 13.6 6.9-1.7-6.4 0-1.6-.6 9.3 13.8-5.7-17.6-.8 8.9 7.3 9.4 1.7-.2-.7-20.9 3.8 3.7 .2 4.1 1.6-.7 5.6 4.5-.2-6.1-3.9-3-6 5.6 .6 1.1 2.4-1.9 1.1-1.3 3.6 11.7-4.7-4.2-6.3 .4-6.1 8.2 19.6-13.5-19.5-4-.5 14.3 13.7-12.8-12.3 7.7 .3-1.7 13.3 8.1-.5-14.1-14.1 8.3 7.4 1.1-6.5-7.5 11.1-3-.5-3.9-8.6 8.4 3.7-3 3.2 2.9 .9-5.2 9 6.6-21.8 .4 7.6 1.7 11.6 6.5-14-10.1 2.5 10.2 5.2-.8 5.3-3.6-7.9-8.8 10.6 8.8-9.6-8.8-5.1 4.2-1.3-3.6 4.2-5.2-.6 9.7-2.1 3.8 131.4 10.6 1.7-8.7-7.4 1.5 2.6 6.1-5 .9 9.4-.9-.8 2.1-3.7-5.1 1.2-5.6 1.5 9.7-7.5-4.4 10.7 4.5-11.7-6.2 10 .6-10.8 1.4 1.7 2.7 12.8 .7-3.9-2.8-1.4-6.1 1 5.7-4.4-1.8-1.2 1.7 8 1.1-2.1-1.1-8.3-3.1 1.5 .7 1.2 9.5 3.7-9.6-9.1 2.6-.1-1.9 8.7 10-2.9-10.9 9.1 6.8-4.8 3.6-5.5-10.7-1.7 7.2 12.4-1.8-5.7-3.1-6.7-.5 .1 4.6 9.3 .6-10.9-2.1 9.1 2.7-3.5 0-4.5-5.2 4.7-.1 .2 .4 191.3-3.4-11.1 1 16.7 6.8 1.4 1.8-4.5-7.2 4.8 6.5-4.3-6.7 4.7 8.7-8.6-2.8 2.9 .9-5.1-5.3 3.4-1.7-.2 3.3-5.3 1.2-8.3-4.8 12.4 6 7.7 3-3.7-8.6-3.2 6.1-1.9-6.9 4.1 4.4-7.4-1.3 3.2-1.7 2.4 2.6 4.5 1.2" marker-start="url(#k2)" marker-mid="url(#k2)" marker-end="url(#k2)"/><path d="M99.4 83l-3.5 0 18.6-3.5 8.1-9.4-6.9 11.5 1.9-6.2 1-5.3 2.7-1.8 21.4-1.6-14.7 7.7-19.2 7.4 2.3 .9 8.9-15.3 .9 3.7 8.8 .9-.1 3.7-19.4 .6 2-3.1 16.4-2.5 2.8 0 15.8-4-25.9 10.2-6.1 5.5-7.1-6.8 22.4-8.1-15.9 5.5 21.5-5.8-24.9 10.3 .2 2.5 8.2-5.6-.3 2.7 13.5-6.2-4-6.1-7.8 6.9-5.5 7.8 0 2-3.6-10.4 22.6-1.8-24.1 11.3 15.8-5.1 .6-9.6-8.3 5.9-3 .3 28.4-4.8-29.2 2.9 21.6-5.1-8.2 10.6 3.8-11.2 1.2 3.7-2.3 2.9-13.3 4 4.1-5.4-8 2.3-5.2 5.8 10.1-3.7-3.4 3.3-1.3 1.8 16.7-11-12.2 5 17.9-4-22.7 5.3 20.4-8.7-5.6 2.4-9.7 13 8.4-5.4 15.9-9.9-21.2 12.8 12.7-7.2 3.7 .5-5.2-6.3-18.5 5.8-4.2 12.8 153.9-22 .7-1.8 1.8-11.3 3.1 6.7-12.4-5.5 5.1-5.2 10.6 3.2-3.6 9.9-3.3 4.2-2.6-15.7-9.9 5 16.2 .4 4.8-2.5-8.9 11.5 2.2-5.1-17.7-10.1 11.1 7.5 7.7-7.7 7.4 4.6-12.1 4.5 6.2 2.3-7.2-13-3.9 12.5 10.6-9.3-.4-.5-14.1 4 14.1 1.8-10.6-7.6 5.2 8.6 9.1-5.4-4.5 4.1-4 3.2 5.6-3.5-14.2 1.2 5.6-3.9 12.4 .1-15.8 4.3 234.1-.4 14.4 .4 1-.2-.5 .9-12.6-.1-2.5-5 5.4 .4 12.4 6.5-4.9-4.1-7.5 1.3 .2-.9 12 .8 2.2 1.9-20.7-4.9 18 6-17.1-4.9-2-.2-2.1 .9 2.7 .9 15.3 2.6-12.9-3.2-.5 .3 5.8-1.3 1.8 .8 11.6 1.4-15.9-3.2 9.5 3.9-3.9-.7-13.3-2.7-20.5-11.8 11.1 5.7-9.1-2-10 10 1.3 1 23.8 12.2-1.2-4.8-455.5 149.1 .7-1.8 4.4 6.9 .6-14.9 3.2 12.4-9.6 .6 8.8 2.2-11.1-.9-4.1-3.7 17.2 2.9-13.7-2 6.8-6.5 .2 11.4-5.9-8.1 8.5 9.4-1.4-11.5-2.2 9.1 6.6-6.4-4.6 7.2 1.3-16.1-1.4 1.1 .1 9.7-.9-9.4 5.6 7.5-15.6 1.6-.1-6.4 11.2 2.7 4.2 9.1-.7-14 .4 6.2-4.4-5.9-.7 10.2 5.8-5.6-10.2-1.3 3.1-1.1 7.8 2.4-10.5-1.8-4.1 6.7 6.1 2.1 5.1-1.2-9.3-4.4 9.5-8.4-2.8 13-4.4-10.1 9.4 3.2-5.3 4.3 4.2-2.8-9.6-4.5 5 9.1 442.9-51.9 3.4 1.5 8.6 1.5-4.9 .1-2.5-9 1.6-1.3-3.7 4.7 1.8-.7-.2 3.9 5.7 5.8-4.2-6.4-4.5-2.7 3.5-.3-.7-4.2 .2 10.1-4.7-3.7 7.6-1.9 4.2 .7-5.5 .1 .4 4.6-.3 2.2 6.2-.3-5.8-9.2-2.3-1.5 4.7 1.8-1.1 9.3 4-3.4-4.7-.7 6.4-3-4.5 .5-4.8-2.1 20.4 11.6" marker-start="url(#k3)" marker-mid="url(#k3)" marker-end="url(#k3)"/><path d="M84.7 81.5l-4.9-18.2 8.4 1.8-34.5 30.5-5.5 2.9 26.5-10.4 12.8-26.5-15.2 4.3-1.5-.5 18-4.6-4.1 26.4 1.3-25.3 1.9 10.8-26.6 6.2 4.2 16 24.6-10.7-13.9 5.3 .4 12.8-15.4-30.3 2.9 6.7 18.5 7.2-19.4-8.4 25.4-7-17.3-4.8 2.2 2.6 20-2.9 3.5 15.7-29.8-15.3 20.1 18.7-.2-14.3-9.5 4 5.2 3.4-14.6 0 21.8-14-25.9 6.5 20.6 12.5-1.5-12.9-22.8 12.7 13-6.5 17-8.7-16.2-4.9-4 16.1 7.6-13.1-9.4 3 20.7-5.6-3.4 1.4 7.1 9.1-12.2 13.3-12-1.4 27.5-13.6-7.8-8.8 3.1-2.3 2.5 7.8 3.1 3-3.3-5.8-6.4-4.3 5.4 5.5 4.2 3.1 1.5-.6-36.4 19.7-3.5-4.6-.1 3.6 2.6-1.1 12.8 13.6-2.3-1.6-19.1 1.6-1.1-1.7 5.1 1.9-3.9-6.3 8-4.3 13.8 5.2-23.8 1.7 19.6-5.1 0 2.6-14.1 4.9 2.2 .3 1.8 .6 6.5-5.8 .1 5.7-.5-2.5 .9-5.3-6.5-2.1-6.2 2 1.9 4.5 9.7-5.7-4.3 12.2 9.3-8.3 8.2 .2-.9 3.6-28.5 .4 17.6 3.1-2-5.9 13.7-.4-6.4 4.2-18.7-6.4 21.8 7.2-8.3-10.6-4.7 6.8-2.4-2.7 2.2-.3 14.6 7.6-25-4.1 223.1-83.8-4.4-.9-2.2 .1 3.6 3.7 3 1.3-16.7-1.9 23 8.6-4.4-4.6-3.7-1.2-14.6-8.4 18.2 8.4-1.2-1.9-22.5-5 4.1-.4-4.1 4.7 7.5 1.1-.2 3.1-4-6.3-1.3 .9-1.3 2.4 28.3 8.6-5.1-6.6-21.3-5.5 12.6-.9-10.4-.6 2.2 6.7 18.1 2.7-13.7-3.9 2.3-8.6 8.3 4.9-5-3.7 5.4 7.6 1.8 3.4-17.2-1.3 .2-8.7 17.1 6.8 161-7.2 5.8-.2 15.9 6.9 10.5 21.1-17.4-27.2-17 1.3 33.4 20.1-21.3-23.4 11 6.5 4.8 6.6-1.3-1-18-11.6 22.7 16.2-1.9 1.3-22.2-16.4 15.8 5.4 11.5 19.9-11.4-18.5-5.2-4.3 8.4 6.5-10-8.8 .4 .6 14.6 16.6-7.5-12.4-25.1-1-370.7 216.3 5.1 3.8 2 .8-6-4.6 16.4 3.4-12.4 .2-1.1-6.2 2.3 1.1 7.1-1-4.9 6-5-7.2 6.9-1.6-4.9 8.1-4-4.7 5.8 5 9.6 1.3-14.4-10.5 .3 2.3 10.6 .7-12.1-4.1 3.2 3.6-.5-.7 6 9.6-2.1-11.3 4.8 4.9 4.6 2.9-20.9-7.2 7.8 2.4-15.1-5.2 14.5 .7 9.2 13.5 1.8-4.2-14.2-8.8 4 3.7 9.6 1.3 200.6 .9 5.8-.6-1.4-5.2 .4 1.3 0 2.6-9.1 9.9-.6-5.1-.6-.9 1 .2 .9-5.9 2.6-3.3-1.5 .5-.1 14.3 .8-7.2 1.7 2.7 .8-2.6-2.2 3.5 .8-10-.8 6.9 5.2-.3-3.5-5.4-4.6 6.3 6.5 6.4-.2-5.5 2.1-8-10.1 11 2.7 .7 4.9-9.7 4 3.2-6.1 8.8 .6-12.2-.1 12.8-5.6-4.2-1.8-2 174.8-76.8 3.2-3.4-3-6.1 6.9 7.8-2.3-8-6.5 1.6 6.6 4 7.3 0-11.9-4.5 11.6 2.1 1.9-.8-6.5 .7-4.5 3.1 7.1-1.9-11.3 1.9 15.7-5.1-14.1 9.8-.6-3.8-.4-2.9 8.2-3.2 .4 6.2 3.7-2.3-2.1-6-4.5 11-3.6 .2 8-5.3 .4-5.2-4.5 9.5 6.3-4.1-3.5-.6-5.6 4.9 1.8-.8-2-3.6 8.2-.7" marker-start="url(#k4)" marker-mid="url(#k4)" marker-end="url(#k4)"/><path d="M32.2 15.8l-10.2 12.9 14 11.5-4.4-.3-2.5-8.8-6.2-4.5 10.6 15.7-4.8-14.4 .7-5 3.5-2.9 7.1-4.3 .5-4.3-.5 34.3-7.6-27.2-3.9 10.6-.3-10.5 .8 13 6.9 11.9-6.6-23.1 8.8 24 8.4-2.4-22.1-15.6 25.5 19.1-8.3-9.8-11.6-20.6 .6 4 .4 7.9 .4-8.2-6.3 10.5 14 11.2 4.6-5.5-4.7-5.3-.3-5.5-.6 10.9 7.5-14.2-8-6.2 13.5 30.6-11.8-28-1.5 5.5-4.9-9.1 2.7 15.6-1.4-6.7 .9 3.9 9.4 11.5-.4-2.4-8.3-15.9-7.5 18.2-2.9-13.3-3.7 2.9 12.3 16.1 .6-24.1-5.3-.2 9.9-.5 3.4 14-14.5-9.1 16.6-6-9.2 2.9-1.8-3.1 6 26.3-1.5-31.5-10.1 12.5 19.4 18-4.8-12.5-5.8-4.1 1.6-7.3-15.2 7.5 16-14.5-.7 33-14.4-15.3 19.1-3.6-3.9 16.7-15.5-19.4 18.4-5.5-7.1 2.1 9.3 6.5-9.2-7.4 5.7 7.1-11.3-7.2 18.5 25.6-4.3-23.7-22.9 4.5 5.8 3 19.7 .1-12.2 13.9-7.2-21 5.2-4.1 2.7 21.8-9.8-6.8 16.5 5.2-5.8-18.7-.4 25.9-.7-6.7 0-19.8 2.9 12.6 0-9.7 3-6.1-10.2 4.3 5.7 14.2-7.5 5 4.3-22.5 8 4-3.4-4.3 1 12.8 1.8 13.1-2.7-10.8-3.9-3.2 6.1 10.7-4-7.8 3.1-10.2 7.4 11.7-1.1-5-.5-3.2-6.4-11.1-2.2 29.9-2-7.4 11.8 8.3-13-29.9 10 21.4-1.1 7.9-2.3-31.7 1.5 30.7-3.8 2.8-13.5-22.5 13.3 .6 10 7.7-17.5-12.7-2.9 20.5 31.4 6.9 20.6-3.2-1.1 .7 174.4 36.4 14.8 21.6 7.8-1.8-10.4 3.4 4.6-6.2-14 5.8 11.6 1.9 1.1-2.1 6-2.7-5-2.7 2.6 7.6-.5-4.3-17.4 3.4 16.6 .6-11.6-3.2-3-1.9-.6-17.3 18.4 20.3-19.4-20.9 4.9 7.6-7.2 10 10.7-12.2-10.7 4.2 22.6 9.9-12.4-9 10 4.6-9.5 5.8 7.9-6.6-14.3-12.3 7 15.5-6.2 4.7 9.8 1.7 3-11-11.6 7.3 17-3.2-6.7 6.4-13.2-7.1 18.1-1.4-20.8-11 5.3-2.8-1.6 2 9.4 18.8 2.2-11.7-12.5 .7 186.6-33.1-6.1 5.3 9.7-4.8 2.1 3-4.6-5.5-2.9-5.3 2.7 13.6-6.3-1.5-.5-4.3 5.2-7.6 4.8 5.2-10.5-1.4 8.4 3.9-3.3-7.8 3.8 8.3-10.4-.1 11.3-8-1.2 5.7-6.7 5 9.3-.8 .7-3.2-10.2-.5 2.7-2.1 3.5 3.4-.8-8.1-3.3 7.4-.4 1.3 3.5-3.5-3.7-2.4-.4 4.9-1.1 0 7 1.4-4.5-2.4-1.5 4.1 .8 3.1 3.2-1.8 5.8-3.4-10 0-1.9-1.3 5.6-3.6-381 98.9-4.5 1.1 1.3 .8 19.6-8.1-22.2 6.7 11-2.2-7 2 6.1 .6-5.1-2.7 11.7-1.4-12.9 1.5-10.1 5.2 25-9.3-25.5 11.8 14.4-8.3 6.1-1.6 2.6-1.5-17.5 5.9 17.3-3.3-8 3.4-13.6 7.3 8.7-6.4-2.5 1.1-3.9 4 .5 1.6 8-9.2 16.5-4.9 1.3-2.2-12.1 5.5 6-.4-18.2 7.8 1.3-5.5 10.4-.5-3.2 3-9.8 .9-1.6 2.3 257 63.2-.7 .1 .9-.4 4.9-4.5-2.1 4-1.4-1.1-1.2 6.3 6.4-7.7-8.6 3.6 7.5-2.6 1.5-1.4-7.5 .3 .8-1.7 1.5 2.5 196.1-12.8 3.1-2.1-4.1-1.4 .4-.4-3.1-5.8 2.6 6.5-3.8-5.2-.9-.3 8.1 5.4-3.5 3.6-.7-3.1 4.1 2.4-4.9-7.6 .7-1.6-1.3 6.7 6.2 3.8-5.2-10.9" marker-start="url(#k5)" marker-mid="url(#k5)" marker-end="url(#k5)"/><path d="M445.3 40.3l-1.8-2.4-5.1 2.4 8.3-1.7-7.5 5.1 3.7-.5 3.4 .5-3.9-1.6-3-.6-3.4-.2-1.3-1.3 7.2 4.6 2.6-7.4-10.8 3.9 9.6 1.7-6.1-2.2 0-2.9 7.1-1.1-5.6 10.3-.9-10.2-2.4 4.3 5.7 0-2.2-2-2.5 7.9 0-2.4 .8-4.1-1.1-2.3-2.8 1.1 11.8 1.5 .9 4.1-8.3-7.6 7.7 1.3-9.6-1.2-19.1 24.4 .5 10.1-1.7-6.3 19.4-27.2-17.7 33.2-1.8-7.9 1.4-17 0 1.8-.6 .1 2.4 22.2-1-22.3 15.6-7.4-8.2 .9-7.4 6.8-.1-4.4 4.9-3.7-7 24.4 2.8 5.4 3.2-30.3-6.4 9.1 3.4-4.2 8.6-5.8-9.6 33.4 1.3-25.4 4.7-8.2 7.6 1.1 2.4 .7-10.4-.4-1.4 1.5-6.2 15 10.1-18.2-321 168.6 7 11.3-13.8-8.1 6.6 3.3 6.4-6.1-17.7 5.9 10.8-6.2-7.1 11.1 11.9-2.4-3.7-5.6 4.7 1.5-8-2.5 5.3 6.8 4.4-4-16 4.6 3.7-7.6 6.6-1.4 .4-.1-1.3 7.9 2 1.3-8.2 2.9 8.3-3 3-1.1-8.8 4.1-4.1-7.2 9.2-2.5-1.4 8.5 0-9.7 5.8 2.4-2.6 6.5 0-7.4 2.9 .4 .1 3.9-4.4 5.3 3.7 3.2 .1 4.5 141.1-42.1 5.2-1.9-5.7 2.5-.8-3 4.7 3.9 2.6-.5-1.4-3.5-1.3 6.4 2.4-1.9 2-1.7-4 6 .6-.5 2.1-.8-6.4-2.3 1.2-.7 6.1-1.9-2.2 2.6-4.2-.1 3.8-3 5.8 18.4 2.7 8.2-3.7-3.4 3 .2-4.1-5.5-.1 4.7 6.2-4.3 1.7 5.3 185.3-11.4 8-6.3-5.1 2.6-9.1-.6 8.9 6.1 3.1 1.2-2.8-.4-13.2-9.2 6.6 5.2 .2-.1-6.5-4.1 11.1 5.2 3.9-5.9 0 3.8-3.3 2-4.3-1.8 4.3 .7-5.3-5.5-.3 2.5 7.8 .5 4.9 3.4-2.5 .9-5.1-4 7.2 5.4 1.8-2-7.6 1.2-3-1.1-4.3-3 6.1 4-6.2-7.1 7.5-.9 7.6 13.1 1.4-4-5.2 1.2 2.5-7.4-4.3 6.5-2.5-7.2 7.7-.8-7.9 4.1 8.1 8-4.5-12.8" marker-start="url(#k6)" marker-mid="url(#k6)" marker-end="url(#k6)"/><path d="M399.3 35l-3.8 4 6.6-2.7 3.3-3.8-4-2.2-1.8 2.3-1.4 6-1.1-4.8-1.1 3.8 .2 2.9 5.2-2.1-4.2-5.1 3 1 4-2.8 1.9 .1-4.4 2.7-2.6 2.7 3.1-5.9-6.1 4.4 10.5-7.3-1.6 1.4-7.4 5.4 12.9-8.3-6.7 3.8-3.6 3.1 5.9-4.5-283.4 171.3 8.8 2.3 3.4 2.4-8.2-3.5 17.7-6.2-2.7-2.2-6.6 13 .6-8 .1 .3 2.5 4-8.2-4.6 6.9 8.4-9.1-12.6 1.6 12.1 13.5-12.7-.4 8.5-8.2-4.5 4.6 6.5 5.9-4.3-1.4-2.5-12-4 8.4 7.8-8.7-3.1-4.5 5.1 9.1-2.2-8.5-5.3 2.8 5.4 2.7 6.7-1.9-13.1-2.3 1.8 6.3 .3 7.2 2.7-.6 6.9 2.4-2.1-.8-3.6-8.1 .7 6.2-6.7 .2 4.6-3.2-4.2-.1 3.2 134.9 5-2.9-1.5 6.2 .7-4.9 1.3 2.1 1.6 .4 .3 1.4 1.6 3.6 3.5 1.5 2.2-2-1.9-1.3 2.6 3.2-3.1 150-9.9 4.8 4.1-.4 1.1 1.7-4.7 4.8-4.9-.8 2.5-13 7.9 11.6 1.4-10.5-1.7-3.8 3.1" marker-start="url(#k7)" marker-mid="url(#k7)" marker-end="url(#k7)"/><path d="M441.3 10.4l-6 2.7 8.4-3.7 28.2 26.8-7.2-14.5 1.7 4-23-14.6 18.6 7.2 14.2 25.8-.7-.9-6.2-9.2 2.4 3.2 8.4 10.5-9.5-8.9 5.2 6.1-4.2-3.8 .9-1.1 12 9.8-9.8-5.3-3.2-5.8 40.7 8-5.7 .8 .3-.6-14.4-6.1 8 4.9 2.1-1.3-9.2-.1 7.5-.6 5 4.3-11.9-3.3 9.3-.7 9.1 4.4-20.4-3.9-2.7-1.5 19.1 2.7-17.6-8.5 14 8.9-1.3-2.6-17.3-3.6 14.7 0-3 5.5 1.2-.3 8.4-1.3-4.2 3.7 11.8 .7-11.3-5-14.4-3.6-.1 2.6 23.4 5-4.1-2.8 3.1 4.5-29.8-3.2-10.6-2 14.6 4.1-7.9-.7 5 2.7-15.8-10.2 19.5 11.8-19.1 6 16.5 4.9-16.5-8.4-8.8-1.1 24.7 10.2-13.5-9.7-5.3-1.2 13.3 9 8.4 2.2-14.8-8.2 9.2 13.3-5.9-.8-3.7 .9-5.6 .2-371.4 118.6 1.8-9.3 .8 7.3-3 4.1-9.1 9.5-8-17.8 12.8 2.6 5.4-3.3-16.4 18 19.6-12.4-20.9 1.2 3 11 11.1-16 6 10-5.2-7.9-14.3 2.3 18.9 9.5-17.8-.1 3.1-5.4-.7 1.8 11.9-4.3 5 2.7 1-7.1-16.8 4.6 9.6 8.1-.5 2-1.2-17.3-46.4 22.8-8.4-3.6 9.9 19 .1-8.3 1.4-.7-11.1-10.6 6.9 14-6.2-6.4 3.8 .7 4.7 2.1 2.7 3.9-.3 .2-12.5-12.2 4.1 9.4 24.2-11-2.6 2.2 2 3.6-3-2.4-1.2 1.4 3.2-2.2-10.7 5.7-1.1-3.4 13.8-1.6-10.4 2.8 8.9-.4-10 2.4 10.7-6.6-7 5.4-2.1-5.3 5.7 5-3.1-.1-1.7 12.7 2.7-18.5 223.4-24.4 .3-1.3-1.1-.9-11.5-1.4-.7-.4 3.2 .3 7 3.5-4.7-4.1-7.6-.5-4.5-2.6 18.3 1.8 2.6 4.6-11.3-2.5 9.5 3.6-8.5-4.6 2.2-4.8 4 1.1-6.5 1.1-7 3 2.8 1.8 9.7 .7-2.2-7.9 0-1.5-12.5 21.2-3-4.1 .6 0 1.4 3.2 3.5-1.3-4.7-1.2 1 .4 0 3.4 210.8-8.8 .3 0-8-2.4-5.2-1.2 12.7 1.7-11.7-1.9-2.2 1 1.8 3.8 8.1-2.9 .7 .4 1.1 .3-4.6 2.3-4.5-3.3 .3 1.3 2.4-1.8 .6-4.5-1.7 1-2.5 5.4 .2-8.1 11.7 4.7-9.2 4.9 6.7-1.3-8.6-8.1 8.8 3-11.9 2.4 5.1-3.4 4.1 3.9 8.7 12.8-8.6-4.8 6.6 5.8 2.3 0" marker-start="url(#k8)" marker-mid="url(#k8)" marker-end="url(#k8)"/><path d="M473 40.2l13.6 10.2-28.4-20.9-4.3-2.6-.2-.1 14.9 15.4 14.9 7.5-5.3-4.5 10.6 7.3 .6-2.3 1.7-.6-32.2 3.4 17.3 4.5 2.5 1.1-10.8-4.5 16.5 9.5-7-5.6 4.6 3.5-16.5-7.2-1-2.9 19.5 12.6-2-.7-7-7.7-11.7 .5 3.2 13.2-4.2 0 9.3 .2-4.5-1.3 6.4 0-3.2 1.3-397.2 104.6 2.2 8.4-3.8 7.2 .6-8.5 172 23-1 .7 3.9-.6-3.5 3.7 3.5-4.5-5 1.6 5.6-6.5-2.9-1.9 3.8 3.8-3.5 6.1 .3-2.3-2.3-3.9 4.6 3-7.4-5.7 7.4-.4-5.5 2.2 3.4 8 2.7-4.3-3 1.5-1 .1 3.5 .5-.7-4.4-1.7-.1-4.5-1.8 7.1 .8-4.4 5.7-3.1-9 5.6 11-4-3.2 .1-5 1.8 7.6 1 .5-3.8-5.1 2.6 6.2-.5-.8 4-9-3.2-3.8 6.7 7-4.1 5.9-3.3-.7-.4-10.1 2.4 8.1 3.8-7.2-6.5 4.7 3.4 .3-.8 2.9 5.5-6.9-4.7 10.4-4.6-.8 5.6-2.6-.5-10.9-2.8 3.9 24.6-6.8 2.7-.3 6.1 0-4.7 1.1 216.3 1.6-1.8-1.8-11.1 1.8 10 .8-.9-.7 .3-.5 2.9 .1-10.1-.5 5-.7 .2-5.2-6.5 16.7 1.4 0 4.6-.6-3-1.3-22 4.8 27.3-11.9-7.7-2.2 7.7-.9 3.5 2.9-13.7-.3 1.7-2.6 2.4 2.8 7.3-.4-5.7 1-.3-2.3-3.1 8.6 9.8 .9-13.1-.3" marker-start="url(#k9)" marker-mid="url(#k9)" marker-end="url(#k9)"/><path d="M393.1 62.4l.2-.6 101.1 22.1-8.2 16.6 .9-.4-372.4 71.1-1.1 .2 1.4-1.7 3.3 3.8 .3-.4-4.1 8.8 0-.4 3.4-2.5-.7 1.7 .5-.5-3.3 .9-.4 1.4 .5-2.6 167.6 2.8-15-.2 8.9 2.9 0 3.1 5.5-8.5-13.4-1.8 13.4 1.7-8.7-1.6-1 2.6 3.3 .5 7.1 4.5-14.1-4.6 2.6 0 1.6-1.2 6.7-1-5.2 3.8 5.2-2-10.1 .9 11-3.2-8.6 1.9 1.5-.7-.9 6.1 10-1.4-8.2-2.7 4-.2-10.2 .7 0 16.4 14.5-5 .9 4.3-3.5-5.8-15.7 1.6 10.8 2.6 .7 2.3-4-.7 .4-5.1 6.5 4.4-.1-8.5-5.1 .3 2.9 2.1 1 .8-6.4 2.7 4.5 3.4-10.5-4.6 7.6 .3 2.7 4.8-8.1-3 8.2-6.2-.3 5.7-5.9 .5-2.1-4.1 4 8.2 7-5 1.5 1.6-14.8-2.2 205.7 24.5 8.6 2.5-1.3-4.9-6.8 .9 6.5 .1-1.2-2.4-5.6-.7 2.9 8 6.4-.3-.2-8 1.1 6.9-5.8-.4 2.6 3.6 5-3.8-8.4 3.3 2.7 .7 9.7-5.7-12.9 1.7 1.8-6.2-6.1 .9 8.9 .3-1.1 8.5-1.9-2.3-1.6-9.1" marker-start="url(#k10)" marker-mid="url(#k10)" marker-end="url(#k10)"/><path d="M269.5 171.6l-1.2-2.3-2-.2 .9 .2 12.6-3.4-47.6 23.9 2.6 .2 .1 .4-3.4-2.2 4.6 6.4-2.9-.7 2.6 2.6-5.1-8.3 .6 5.1 5.4 19.5 4.3 .4-5.3 0 196.2-31.4 9.8 .1-.3-.8-3-.5-13 3.2 5.1 .6-4.4-3.2 11.7-1-1-.4-3.5 1.6 9.9 .1-14.7 2.2 17.2-9-5.9 3.8 1.2 3 6.9-7.3-11.5 7.4 12.6-6.8-8.3 3.4" marker-start="url(#k11)" marker-mid="url(#k11)" marker-end="url(#k11)"/><path d="M239.6 166.4l.9 .7-.8 2.7 14.8 8.9-7.6 0 9.2 .8-5.3 .8-6.5 3 10.2-11.7-3.9 4-.3-.5 6.6 5.9-1.8-8.9-2.1 7.9-12.4-2.5 17.9-2.6-3.7 6.3-6.2-14.2 1.8 2.7 4.8-1.2-4.9 15.2-5.4-6.8 5.8 1.5 6.3-9.3 1.5 1.6-13.9 7.4 2.2 2.4-3.4-4.1 4-8.9 3.9 11.2-2.3-4.3 1.7-1.1-5.9 1.1 10.7-1.7-3 9.9-6.1-6.5 9.4-5.7-9.6 .3 .6 1.3 10.1 8.6 .9-8.7-12.7 7.5 11.2-.4 .6-9.4 1 2-8.6 10.8-3.3-5.4-4.5 3.9 29.7 12-4.9 3 4.9-5.7 9.9 5.1-9.6 2.3 2 2.8-1.5-11.4 1.4 2.7-.9-1.8 1.4-.3-1.4 9.7 6.7 .4-15.6-7.4 16.5 .6-1.9-3.4 125.8-10.6 4.7 7.4-7.3-2.4 7.8 2.4-5.3-8.4 2.5 4.8-5.9-3.7-3.8 .3 .2 2.6 8.4 4.2-3.6-5.1 4-3.9-4 7.8 .7-10.2-1.4 6.4-1.6-4 2.2 5.9 2 3.1 0 .5-3-10.3-2.5 3.5" marker-start="url(#k12)" marker-mid="url(#k12)" marker-end="url(#k12)"/><path d="M251 149.8l2.8-.6-15.5 11 7.1-4.4-8.4 3 5.9-1.8 3.7-3.1 4-3.8 .6 2.8-22.1 12.9 2.5-1.1 1.1 .3-.7 1.7-3.8-3.6 286.2 20.4-8.4 .5-.8-3.1 9.9 4.8-8.5-5.7-1.7 2.9-3.1-1.8 10.3 3.1-5.2-2 7.9 5.7-.7-1.1-6.9-7.3 1.9 4.5-3.3 1-5.4-1.8 5 2.4 5.3-1.4 2.4 1.8-13.9-3.3" marker-start="url(#k13)" marker-mid="url(#k13)" marker-end="url(#k13)"/><path d="M327.2 192.6l-14.4 6.1 10.4-10.2-2.7 2.1-9.1 5.1 1.7-2.3 14.7-2.4-4.5 5.5-1.4-5-8.8 2.6 8 3.6 9.5-7.4-18.3 6.3 .8 0 8.1-6-.5 2 8.3-3.6-8.6 8.6-1.3-2.6 5.9-6-5 5.2-8.4 3.2 1.7-3 3.6-2.8 11.1-5.2-12.1 8.1-1.3-.2 15.4-5.4-6.1 8.1-10.7-1.4 14.9-2.2-12.2 .5 5.8-.1 5.5-.4-8.1 3.1-6.4-.1-61.6 37 5.1-5.2-8.5 .6 6.6 8.8-5.5-6.1 2.1-3.5 5.2-3.9 2 1.3-4.5 9.5-5-4.3 3.8 5.8 7.1-4.5-8.1-2.3-2 2.8-2-6.5 7.8-1.9 .9 8-7.9-.8 0-1.9-4.6 2.3 .3-2.1 .5-2.6 13.5 9.6-11.8-2.9 5.4-4.1-2.1-3.1-1.7 7.5 10.8-6.8-7.3-2-4.2 8.8 5.3 .2 .9-7.7-7.2 2.3 12.4 3.5-5.8-4.6-4.6-.2 181.9-62.8-7.7-.1 2.2 2.8-1.5-2.6 5.3-4.6-2.4-.4-6.5 1 11 6.3-5.7-3.7 3.2-1.3-9.4-2.3 9.7 2.5-8.9-6.3 2.1 1.4 10.1 4.9-9.9-4.7 3.5 2.3-2.2 5.3 .5-5.9-3.5 3.8 7.6 1.9 2.5-1" marker-start="url(#k14)" marker-mid="url(#k14)" marker-end="url(#k14)"/><path d="M91.4 66.6l-17.5 20.6 7.6-12.1-13.8-1.2 23.6-5.8-27.3-.3 12.5-6 12 17.1-19.6 3.2 15-9.6-1 5.3-2.8-13.3 2 17 .8-12.6-12.3 13.5-6.9-6.3 23.2-11.7-3.8 3.4-12.4 7.4 4.9 4.7-11.5-5 7.4-6.4-3 6.5 3.1-8.2 2.7 18.5 6.6 2.3-8.2-16 5.8-.5-17.3 15.6 9.3 .1-6.6 1.2 10.9-5.7-.1-18.3-3.6 18.7-6.5 6.5 14.7-23.7-5 10.8 3.4-9.9-11.1 12-1.4-5.1 0-5.6 5.4 8.3 9.8-10.5-5.9 6.1 9.4 1.1-19 13.8 27.1-13.5-11.7 8.1-4-10.1 10.9-2.1-8.7 .5-7.3 15.9-6-3.9-2.5 6.9 12.1-21.4 9.7 12.8-18.6-.6 18.5-12.7-12.5 16.4-10.3-6 25.6-.5-22.1 10 25.2-12.1-5.2-5.4-.1-1.2-2.4 1.8-7 17.1 10.3-21-19.8 10.4 6.2 13.1 8-3.6-16.9-2.3 19.2-17.1-10.4 21.6-9.8-16.6 11.2 10.4 3.1-14.4 11.3 2.8-26.9 12.4 3.9 4.6 17.9-20.1 3.8 15.1 .4-5.4-15-6.2 9.8 11.4-9.7-19.4-.8 2.3-2.4 11-3-9.6-5.8 15.1 20.9-11.1-14.5 16.4 25-18.2-10.9 8.1-10.2-2.7-6.9 16.6 3.9-10.6-4.8-4.7 4.2 12.1 4.2-.9 .4-12.5 4.1 12.1 7.8-9.8-17.8 4.3 16.7-14.8-1 18.8 8.1-17.6-.7 10 5.7-2.3-7.2 .4-9.2-8.8-.6 18.5-10.9-1.9 20.4-12.6-19.6 16.8-1.3-8.4 149.7-15.2 13.9 1.2-4-14.5 5.9 6.9-15.6 1.7 15.7 7.3-1.5 4.5-2.5-4.4 3.1 .4-16.1-9.9 13.6 12.2-14.1-9 9-2.7 3.1 2.8-12-3.5-.3 5.4-5-.8 89.1 17.3 5.2 1.7-6.2 1.5 13.5 .9-12.3-7.9 1.5 4.7-6.8 1.3 4.1 .3 5.3 1.1 13.7 1.3-17.4-6-6.5-.6 13.6 2.4-.2 12-8.4-9.5 .9 2.2 4.1-8.6 .5 7-7.6-3.1 9.7 7.4 9.3-5.1-4.6-3-14.1-2.8-7.2-4.9 7.1 6.9 1.6 1.9-.7-4 6.7 9.1-3.3-7.2 11.1 2.9-17.7-.3 21.6 1.6 101.4-35.8-1.2 25.4-1.1-10.8 3.4 16.7-3.4-12.2 41.3 17.8 3.6-8.5-.9 18.9-4.8 .9 12.1-1.7 2.3 .4-20.4-1.2 9 .2-1.2 2.2-376.7 76.6 8.4-5.7 .2 .8-5.8 4.4 11.2-2.3 1.7 1.2-1.1-1.6-8.4 6.8 1 2.2-4.7-5.4 6.7-.7-4.7 4.7-35.4 9.6-1-.5 5 6.6-6-.8 6.1-1-2-12.5-5 12-11.5-3.8 18.6-4.9 4.5-2.4-21 9.4 16.1 5.2-1.3-4.2 1.3-3.7 5-7.9-3.4 8.9-9.3-1-8.3-1.1 13.9-4.3-6.1 8.8 4.2-9.8-2.2 4.9 5.4 6.2 .9-7.9 3.9-2.1-17.5 1.2 .6 6.3 3.7-4.4-4.2 1.3 8.3 1.6 0 6.8-7.6-5.5 8.1 3.5 7.8-12.8-2.5-.4-16.9 10.3 9.3-1.7-1.4-6.4 10.3 5.5-13.7 2.4 5.1 5.9-.4-5.6 6.4 .9-3.7-9.7-6.4 3.8-.6 .9 11.8-1.4-5.4 3 1.3 4.2-5.5 .6 2-9.7 2.5 5.4 262.2-16.2-6.7 1.4-5.3-2.6 10.9 3.4 3.5-1.1-.7-.5-3.7-1.7 3.6 1-6.5-1.9-5.7-1.9 5.7 2.9 6 .9-2.4 .8-6.5 7.5-3.5-.9 2.5 7.1 3.4 .3-8.1 16.2 3.4-2.4-10 1.8 11.3-3 3.6 6.9-2.8 1.9 .7-8.4 .9 5.8-.7-1.1-9.3 2 2.6-1.7 11.1 5.2-8.1-3.6 128.9 17.9 2.5 .4-.7-.7 1.7 .4-7.1 5 .1-7.4 3.1 1.6-5.7 4.5-1.2 .5 32.1-4.7-3.3 .2 1.3 .7-6.8-3.4 2.6-.1 1.1 2.8 2.6-1.5-2.9-4 4.8 6.9-28.8-1.2 6-.4-4.6 3.6 2.7 2.8 1.9-2.9-4.7-5.3 6.9 7.1-4.1-3.6 31.5 11.3-2.2 .1-7.5-.5 5.3 2.3-14.4-3.8 16.3 4.5-1.4-1.3-5.3-1.3 13.6 .4-3.9-4.4 1.8 3.5 5.8 5.2-2.6-5.5-2.6 6.4" marker-start="url(#k0)" marker-mid="url(#k0)" marker-end="url(#k0)"/><path d="M72.1 49.6l-4.7 5 5.4-10.2-5.3-.1 8.1-.8-6.7 9.1-1.2-7.5 4.4-.9 .2 0 72.1-2-6.5 2.4 5.7-4.1-3.8 1.3-7.3-1.1 11.3 4.2-2.2 .4 2.4-5.1 .6-.4-12.2 1.2 4.3 1.2-2 2.7-2.8-3.3 8.7-1 6.1 3.4-9.7 1.5 8.7-1-2.8-4.1 1.6 4 73.8 19.6 12-12.2-13.3 13.1 12.4 4.4-17.3-15.1 19.5 11.2-22.8-11.7 17.5 7-.7-8-20.9 6.2 19.6 5 6-.8-20.3-7.8 15.1 10.9-9.4-2.7 15-7.5-21.1-4.5 .3 6.3 6 5.5-1.4-2.1-8.3-3.4 2.4-1.5 12.5 7.7-12.3-2.8 20.7-4.7-10.7 4.6 6.3-3 1.7-2.2 2.1 6.5-12.8-7.9-1.9 5.8-.9 2.8 14.1-4.7-10.7 1.2 197.1-8-333.3 122.2 9.2-8.2-9.4 4.3 5.2-3.8 .4 5.2-11.8-3.2 22.3-1.2-8.5-1.7-6.2 3.2 2.5 .2 9.7 .1-2.6 5.7 3-2-9.6-5.1-.6 7.4-3.3-7.9-6.4 3.3 8.8-4.7 7 1.2-10.3 7 11.6-4.9-7.2 4.8-7.6-4.2 15.3 4.7-10.3-2.4 .7-4.7-1.1 3.7 211.4 21 8.6 5.2-3.5-4.9-1.7 13.9 5-12.3-1.7 7.5 2.4 2.9-3.2 1.5-6.1-7.5 5.7 5.5-.6-4.6-5-.5-1.5-1.6 7.1 7.4-6.3-.1 1.8-6 10.3 6.1-7.8 3.3 170.1 26-6-1-.1 2.3 3.6-2.5 .5 .6-10.7-4.4-13.4 3.8 24.4-.2-9.8-3.5 11.1 6.1-24.1-3.3 11.1 2.5 6.4-2 .3 3.6-6.1-.5-6.9-4.7 14 .2 4.7 2.9-1-3.4-9.1 6.6 4.8 .3 1.6-6.9-6.2 2.8-2.6-2-2.7 3.9 11 2.2 4-4.7-14.8-2.2 6.6 1.5-5.6-.9 9.8-.9 1.9 1.1" marker-start="url(#k1)" marker-mid="url(#k1)" marker-end="url(#k1)"/><path d="M108.6 32.9l-4.7-10.7 1.5 12.1-22.7-13.1 0-2.1 28.7 10.1-3.3 1.7-22.2-11.3 21.1 3.5-7.5-2.1-12.3-7.4 7.4 12.4 2.4 .7-8.7 .5 16-4.1-19.5-1.5 14.2 12-14.5-21.7 2.4 14.8 23-.5-6.2 7.5-20.5-13.3 13.1 6.9 15.7 2.9-6.6-4.8-3.5-4.4-2.2-1.3-16.3-3.5 2.8 2.5 .8 7.5 18.3 10.7-3.4-16.1 10.4 7.9-6.3 .4-18.1-2 12.1 8.7 4.6 0-19.4-12.6 25 8.4-15.9-4.9 4.6-.2 5-6.2 1.6 1.5-2.2-1.6-6.8 11.1 1.7-5.4-2.1 3.2 12.2 7-22.5-17.8 16.1 16.8 4-13.3-7.6 3.3 6.1-.4-6.6-1.7-15.4-3.3 27.2 13.9-22.2-20.9 11.2 9 12.8 5 .1 .2-27.4-13 10.4 15.7 5.6-9.5-6.7 9 18.7-3.2-26.4-12 11.6 12.3 .7-6.8 2.6 13.7-11.7-5.2 12.4 2.6 4.5-1.5-18.5-.4 25.7 1.4-9.4 1-11.6-3.2 15.8-4.9-18.7-1.8 21.4 10.4-10.6 2.7-14.5-8.6 14 4.3 228.3 21.1-14.8-3.9 14.5 1.9-17.4 .2 3.2-11.4-11.6 11.1 25.1-3.4-9.3 6.1 .6-.6-6.7-10.9-12.8 14.3 11.1-8.6 8.7-.3-2.1-3.5-7.9 6.2 16.6 3.4-5.4-6.9-4.6-4.7-1.3 1.3-10.6 11 6.9-3.5 2.3-8.7 5.5-.2-1 4.3-12.6 6.9 163.7 22.5-11.7 8.3 .2-3.9-12.8-3.4 20.4-4.2-14.7 15.2-3-4.4 19.2-9.1-4.9 1.9-11.4 5.4-12.7-1 30-2.7 1.3-4.3-16.7 10.7 3.6-4.2-5.7 6.5-3.5-5.1 5.3-7.5 8.1 11.6-.6 0 1.3-3.6-4.1 5.3 12.3-13.5-15.4 13.8-1.3 0-5.3-9 5.3 8.4 7.4-14.2 .7 12.5 2.6-7.4-10.3-1.6 2.7-3.3 3.4-1.1-.9 14.1-9.6-7.1 20.9-5.6-14.9 8.3-2.7-5-13.7 5.6 24.4-9.9-15.1 13 11.4-2 7.6-9.8 3.1 2.4-21 11 9.2-8.6-14.4 4 10.3 1.2-6.9-5.5 11.9 0-1 5.1 .2-.3-20.6-2.6 33.2-7.4-13.8 8.1-18.2 1.1 12.2 4.1-4.7-6.1 .8 4 14.1-12.3-19.1 4.9 10.6 7.9 4.1 3.7-7.3-10.2 9.3 1.8 6.1-4.4-1.7 1.8-23.5 2.4 41.7 10.3-23.2-.6 32.2-3.2-16.6 5.5-28.7-1.7 45.8-4-38.2 4.3 28-1.7-27.3 3.1 27.3-1.6-2.8-.7-14.9 1.5 3.7-1.2-22.6-1.5 14.4 2.2 12-1.2-1.2 2.4-23.4-2.7 5.7 2.9 36.7-2.9-39.2 1.1-2.5-.6-356.8 85.2-10.1-.6 12.3 2.3-4.2-2.3-7.5-.1 16.7 25.7 1.7-5.1-15 1.8 3.5-11.7-.8 13.5 10.6-16.6 2 12.5-15.4-3.4 16.4 2.1-17.7 10.1 4.8-4 4.1-12.2-6.8-.4-3.4 11.6 2.8 1.7 11-17.1-13.6 17.7 6.3-7-4.4 6.2 0-9-4.8 1.2 3.9-4.9 15.1 11.9-4.1-18.6-4.5 11.6-8.1-2.4 13.9-.6-13.3-4.9 14.4 8.3 .8-2-2.6-6.2-9.8 17.9 10.2-7.5-.9-13.1-2.5 14.5 4.1 .6-2.3 5-5.6-9-7.1-3.7 8.8 8.4 1 1.4 9.1-8.7-16-3-1.4-4.3 12.7-3.1-8.5 6 9.9 11.4-13.4 1.6 7.3-11.2 2.2 .1 2.8-.8 4 1.2-6.9-2.8 7.7 5.3 113.4 10.8 5.9-2.9-2 .3-1.5 4.6 .2-.2 2.2 1-4.8 2.9 8.6-.4-13.3-1.1 10.7-5.5 1.7 .2-.9 1.8-9.2 1.6 4.7-6.2-5.3 6 .8-6.4 10.2 4.3-2.4 4.3-5.8-3.8-4.5-2.7 12.8 3.7-5.2-2.7-7.6 1.7 10.4 4.7-2.8-3.2-7.3-2.4 11-.9 1.7 .8 .8 2.4-.4 1.9 1-.1-11.1-6.5 4.2 .5-4.8 1.5 .6 5.4 4.7-2.2-3.3-4.4 7.1-.6-3.1 8.4-1.7-5.1 4.5-2.6-4.8-.6 7.4 2.6-3.6 .9-11.7 .7-.2-1 4.7 1.3 1.8-3 1.1 7.3-2.9 .4 4-4.9-3.5 2.1 6.8-4.4-.4 5.1-5.3-.8 3.3-4.5-2 .7 2.6 .1-1.3 1.7 1.4-2.8-7.5 5.8 8.7-3.3 2.4-3.2-5.4 5.9 5-2.5-.2-.2-3-3.9-6.8 1.2 10.2 4.3-1.1-2-2.5 3.6-1.9 .9-4.1-8.5 4.7 4.4 189.3-4.1 3.1 11.2-6.4-10.3-3 2.5-2.5-2.9 17.9 10.8-6.3-8.1-7.7 .2 3.9 0-1.2-3.3-.5 .1 6.9 9.3 2.9 1.6-9.3-5 4.3-5.6-.4 7.8-5.5-1.3 7.3-4.6 1.3 2.6-6.4 2.8-.2-7.5 3.5 .1 5.2 13.8-13.8-9.1 6.2-4.7" marker-start="url(#k2)" marker-mid="url(#k2)" marker-end="url(#k2)"/><path d="M97.7 78.3l35.4-6.7-13.5 5.7-2.1-.7 .8 4.2 2.3-8.1-8 10.2 13.3-7.5 3.6-4.2 4.2-4.4-5.8 1.4 11-1.1-3.8-.4-11.6 .4-.7 8.8 16.9-9.7-26.3 15.6 26.3-11-.9-3.2 2.9-.1-29.6 4.1 6 8.2-6.4 2.2 2.6 2.6 7.7-8-5.3 2.6 17-12.8 10.8-.5-15.7 4.2-11.3 11.2 17.9-14.6-27.2 8.7 24.6-6.8-15 12.1 28.5-14.6-26 5.4-11.2 7.9 7.3-3.2-3.3 6.3 4.5-10.1 2.7 .7-12.4 8.8 2.3-1.4 5.1 1.9 13.6-14.5 2.3 7.6-14.3 1.2 21.1-7.8-21.5 11.8-.4-1.5 23.6-9.3-25.6 3.8 7.2 1.2 1 2.9 21.2-8.7-27.8 11.9-5.5-7.9-1.1 9.5 17.1-15.3-8.7 12.6-6.1-6 31.4-4.7-32.6 3.3 .9 4 1.3 .7 18.3-7.8-22.8 5.6 20.9-5.9 2.1-2.5-4.7 8.6-17.6-1.4 4.4 8.7 29.8-15.9-22.2 .9 5.4-2.1-15.8 17.2 16.9-16.5 11.6-.7-25.2 16.9 23.8-12.3-19.8 3 24.4-7.2-8.1 .2-11.9 8.3-8.4 6 25.4-9.8-6.1 3.1-6.2-6.3-17.7 10.7 20.5-6.3 128.5-24.7 14.3 6.9-7.2 3.1-8.6-3.7 3.9-11.2-8.9 7 15.7 3.4-8.3 7-4.6-7.4 2.6 2.4 .5-5.9 0 3.7 5.8 7.5-6.9-13.1 5.7 12.8 1.9-4.8 4.6 5.5-4.4-5.6-10.5 1.3 21.1-7.8-3.9 6.8-2.7 3.1 5.6-9.5-7.4 11.8-12.6-4.3 3.1-3.7 15.4 6.2-17.7 .1 4.8-1.1 2.9-14.4-7.6 12.5 7.7-2.7-.8-10.9 8.5 3.4-17.2 11.3-.5-8 1.8 3 14 0 3.2-4.6 2.7 1.1-3.4 1.4 3.3-3.7-15.8 7.3 7.3-2.8 3.4 .9-.2-3.8-9.7 5.2 5.9-6.4-14.1-.8 14 16.9-11.2-13.5 3.8-3.7 11.4 17.2 2.7-15.5-16.1 11.6 16-5.1-14.8-3.6 2.6 2.6-2.9-3.2-5.2 .1 8.8 6.6 13.2-6.4-5.2-4.5-3.8 2.2 7.8 7-1.7-.9 224.6-.6 .7-.8 10.9 3.5 5.9-1.4-13.8-3.4 1.4 5.3 6.7 1.1-6.3-1.1 6.6-2.8-15.8-1.2 8.7 1.3-.2 .4 2.1-2.1-12.7-2.1 6.3 3.1 15.7 1.5-17.1-5.3 12.2 6.8-25.1 6.2-15.9-8 11.1 2.3-440.4 161.7-12.3-8.4 15.8 2.1-2.6-6-3.5-4.2-1.5 11 3.8-10.6-2.3 2.7-8.7 5.4-.8-5.3 7.8 3.2-.5-4.1-7.3 1 2.4 10.9 .6 1.4 10.7-10.9-15.8 4.4 3.8 .7 15.7 4.3-12.7-7.1 5 8 5.2 2.3-2.3-11.7-11.2-1.3 10.7-1.9-3.5 1.6 7.5 6.7-11.6-8.7 3.4 13.6 3.1 2.9 4.1-14-6.9-4.5-5.6 5.6 454.5-47.3 1.8 3.8-7.8-7.6 7.4 11.1 .7-4.5-8.4-2.3 6.3-.5 0-.6 6.9-.9-4.4 10.6-.7-13.3-5 1.6-2.6 0 8.4 0-9.1 3.2 7.7 4-.1 3.6-1.2-10.7-2.6 7.2 2.4-8.6 .9 11.8-1.7-12.7-1 1 3.1 6.2 .8-6.3 3.9 11 11.8 1.4-.7-.1" marker-start="url(#k3)" marker-mid="url(#k3)" marker-end="url(#k3)"/><path d="M81.8 92l-26.2 9 4.6-23 21.4 15.6-20.8 8.4 35.9-29.8-19.2 24.9-.5-23.6 5.5-3.8-15.8-5 3 23.1 1.2 11.9-9.4-25.8 6 10.6 31.7-16.8-14.6 12.6 2-15.6 5.5-2.8-9.1 24.8-7.2-21.2-3.4 26.7 21.4-22.2-34.8 20.1 20.7-9.9-17.9-.1 22.1-14.3-11.3 18.5-1.5-19.8 13 19.6-10.1 4.4 .9-4.8 7.8-3.2-10.2-14 21.1 6-11.3 13.1-13-21.1-8.3 9.9 8.2-8.6 8.6 7.9 6.8-10.6 .4 6.3-8-1.4-4.3 5.3 18.3-4-2.9 8.3-25.8 8.9 32.5-15.4 3.2-6.7-1.3 3.3-6.5-1.7 7.3 4.8-7.4-6.4 1.8 1.8-2.6-1.5 5.2 5 4.1-3.6-3.8 4.6-2.7-3.2 4.2-2.3-1 9.1-6.1-9.3 4.2 1.1 3 3.8-34.5 16-2.5 2.9-1.8-5.5 18 17.7-6.2 .2 4.4-8.2-23.1 6.9 11.2-4.7 17.2 .5 .7 2.4-12.1-2.9-7.7-.5-.2 5.7 6.4-3.9 9 1-8.2-6.3 13.7 7.5-29.1-5.3 4.4 8 16.2-8.5-13.6 .7 14 3.6-15.9-1 16.6 2.9-14.3-7.8 3.6 10.9 5-7-9.1 1.2 15.6 3.1-9.2-.9-10.4 .7 19.6 .6 .3-.4-10.4 1.4-8.7-10.4 12.4-.3 9.9 8.9-19.3 .5-3.1-2.7 17.2 2.9-2.5 .6-4.4-3.4 13.5 1.3-8.9-.9-5.4 2.6-6.9-4.5-7.5 4.1 223.8-84.4-8.2-1 8 1.9-8.2-6.6 13 12-1.3 3.9-13.6-10.1 1.8-4.6 4.2 2.6-8.7 6.2 8.9-5.1-16.1 3.3 16.2-1.4-7.2-2.8 8.7 5.5-6.5 .9 3.3-1.1-1.6-2.7 14.3 9.4-18.6-7.3 2-1.9 10.6-1.2-14.2 3.8-5.9-.5 14.2 3 1.1-2.9-1.9-6.4 6.1 6.1-3.9 3.2 7.7 4.1-27-12.4 17.7-3.9-7.3 7.1 9.8 7.5-16.2-9.3 18-.7 1.3 6.6-3.8-3.3 201.4 19.4-36.6-23.2 4.4-2.3 29.7 22.1 .9 3-34.7-20.6 18-2.9-17.6 2.3 21.5-.5-3.3-2.1 14.3 15.7 1 5.8-25.6-23.6-10.5 4.2 37.2 22.4-12.9-22 .1 .5-24.1 1.2 2.1-1.9 .6 .1 30.6 12.4-3.8-7.8-6.9-4.1 .4-1.2 13.6 22.8-21.7-26.8 .8 .5 19.8 26.7-25.3-27.4 20.3 12.1 8.3 16.1-39.7-22.4 32.8 10.2-30.6-12.4 13.1-2.3 21.5 21.1-4.2-5.6-30.3-9.8 33.6 18.5-30.2-23.8-363 227.1 2.6 .4-22.5-14 19.4 8 .2-2.8 3.5 1.6 .2 1.6-14.2-7.5-2.3 2 17.4 5.3 2.2-2.3-3.2 6.8-10.8-4.5-4.8-4.6 5.1 5.2 4.9-.2-12.8-10.2-.4 4.9-.2-1.6 22.7 3.9-25.2-8.1 2.5 6.1 3.8-5.1 5 1.1 7 7.5-5-3.5-2.7 4.6 6-.5-3.9-2.4 .2-3.4 2.5 9.7 6.3-7.2-7.1 3.6 8-2.5-17.6-2.5 220.1-5.7-7.1 1.5 9.3 3.6-5.7-.8 4.1 6.7-4.6 2 4.5-10.3-3.6-3.1 4.9 4.6-2 3.5-2.8 5.5-3.4 3 8.2-8.1-2.4-3.3 1.5-1.3-.2 8.2-9.7-9.2 5.1 .2 2.5 2.8 .1 3.6-3-.7-1.8 2.7 3.8-4.1-1.8 1.2 .6-1.1-3.3 6.4 5.9 .4-1.2-3.4-7.1-6.7 10.6 5.6-10.5-2.4 4.4-6.1-5.2 12.1 6.6-9.6 169.1-68.9 1.9-7.4-5.4 .6 7.1-2.8-1.6 4.1-3.1 3.5-1.7-6.2 3.8 .4-.1-1-.8-.8-2.9 5.1 8.7-.2-4.5-7.1-.6 7.8-.6-4.5 6.1-.3-3.5 5.4 1.9-2.6-8.1 3.4 15.4-5.2-6.1 3.8-9.3-5.2 2.9 10.2 2.3 1.4 0-6.3" marker-start="url(#k4)" marker-mid="url(#k4)" marker-end="url(#k4)"/><path d="M44.7 13l-4.4 10.6 3.5 21-3.1-31.9-3.6 8.5-1.3 16.5 6.5-17.8-18.5 13.4 19.5-17.5-5.7 12.1-11.4 10.4 24.6 7.7-21.1-10.6-6.7-1.2 9.5 5.1 .7-9.1-3.8-9.2 12.7 22-5.5-26-10.2 10.5 21.1 3-8.1 4.9-13.7 .9 13.8-13.7-12.2-.7 2.8-6.8 10.8 28.8-1-24.9 6.2 26.9 .7-12.5-17.2-17.1 17.9 17.3 .3 6.1-5.7 2.9-.6-31.7-16.3 18.4 6.7 11.4 2.1-16.1-4.7-4.6 1.9 17.1-1-17.7 7.1 10.9 2.5 1.1-5.2-12.9 8.2-7.7-10.1 14.8 12.5 19.1-11.8-4.6-6.2-16.6 21.1 19.3-12.1-14.6-4.2-4.7 11.5 11.2-5.6 5.3 14 3.4-22.4-11.4 16.2-14.9-12.3 8.3 1.9 16.9-12.1-9.4 10.8-4.3-8.6-8 10.7 13.6 1.2-17.3-12.6 9 23.1 12.6-8.5-26.1-.3 11.6 8.8 15.8-25.5-16.7 16.8-1.2 .1 11.7-6.6 3.9-2.7-3.9 7.8 7.1-1.2-4.1 5.1-15.1-19.3 10.2 9.7-6-1.4 10.5 3.3-14.2 6.4-3.8-1.7 21-14.6-5.8 3.7-13.5 17.4 17.3-20.5-10.1 22.1 13.8-17.4-18.7-2 11.2-3.8-7.9 12.5 1.3 2.5 18.8-5.1-33.2-3.1 12.4-10 .7 22.7 13.1 2.3 4.1-6.7-30.2 6.6 28.2 2-7.7-14.5 8.5-4.9-15.4 17 12.9-13.6-7.4 12.9 7.1-.7-5.7 2.4-14.9-14.5 7.5 13 18.5 2.8-2.8-9.7 2.8-5.7-7.4 2.1-5.5 2.8 3.6 7.3-9.3-9.4 13.3 12.2 1.5-3.9 2.4-1.2-22.4-.6 18.9-3.4-21.3 5 5 8.5 22.3-8.5-20.5 1.7 20.2 1.1-20.3-8.5-8.4 11.7 28.1-2.9-23.1-3.3 16.6-17.3-11.3 4.9-1.2-4.3-5.1 19.6-2.2-7.3 2.7 23.5 25.2-2.4-1.2 1 .1 197.7 47.6 3.7 4.2 4.3 7.9-10.4-6.4 17.9-2.7-19.6-11-.3 5.7 18.5 8.4 1.2 .8-12.7 2.5-4.4-12.4-1.3 12.2-1.2-13.6 10.8-1.8-11.4 12.9 22.5-1.4-18-1.9 10.8 5.4-1.4-3-8.9-3.1-3.9-4.3 12.5-1.2-17.1-7.9 6.8 12.3-2.8 .8 3.8-11.9-2.9 10.1 1.2-.9 8.4-3.9-12.2-4.6 9.8 6.7-4.9-4.5 8.9 1.2-1.5 11.2-1.6-8.6 5.9 6.4-7.5-10.1-5.2-.8 10.4 4.7-9.5 .3 .8-7.7 10.5 20.8-15.6-2.9 2.5-14.3-5.1-3 12.7 14.6-8.3-17.7-.9 23.1 1.3-.2 7.1-1.7 8.9 2 168.1-48.2 .1 .5 6.1 .8-.5 4.9-.3-6 .4-2.9-6.1 2.3 3.9 8.8-3.6-1.7 5.8-.3-3.1 3.5 5.1-6-2.9 .5 .2 6.3 2-10.3-4.4 .5 3.7 5.6-9.3-3.2 3.1-6.8 3.8 4.1-7.1 1.2 7.1 7.5 5.3-7.7-4.8-2.5-2 1 3.3 4.9-1.9-5.6-2.3 5.8 2.4-8.6-.8 4.9-384.2 97.1-2.2 .1 22.5-6.4-2.7-.7-15.6 6.9 5.5-2.3 11.5-3-28.6 11.4 19.3-9.4-11.3 7.4-8.5 1.2 27.8-11.2-28.7 10.6 9.4-5.9-.1 4.9 4.3-3-2.5-1.5-4.2 5.6-4.8-1.1 6.4-2.3-1.4 3.7 4.3-6.8 18.8-5.8-23.5 8.1-3.1 3.6 2.4 1 15.6-9.7-14.2 11.3 .3-6.9-5.5 3.3 21.7-5.5-13.1 4.5 8.6-3.4-14.3 9.6 .1-3.6 16.4-6.6-14.7 2.2-3.7 6 5.8-.9 19.2-12.9 231.1 71 3.7 1.9 .9 1.4-2.8-4.2-1.6 11 2.4-4 5.4-6.2-5.2 3.4-3.4 5.7 5.8-6.6-5.5-3.1 1.2 7.9 7.4-5.3 192.8-14.3-1.8-6-.5 3.2-1.4 2.1 1.3-6 1.1 1.5-4.4-2.5 6.4 8.8-6.2-5.2 2.8 1.1 1.6 5.1-2.9-4.3 2.4-1.1 4.4 4.3-1.5-1.5-9.6-7.1 5.7 6.8-5.1-6.1 8.3 3.3" marker-start="url(#k5)" marker-mid="url(#k5)" marker-end="url(#k5)"/><path d="M439.2 46.8l8.3-7.7-10.8 6.7 4.1-8.9 .5 1.3-5.5-.3 8.1-1.3 1 2.2-9.1 7 4.6-4.6 6.9-1.1-.4-1.1-2.4-1.8-8.3 9.5 9-2.4-7.9-2.3 9.3-4-10.8 5.2 8.4-.5-1.5-1-4-.9-.6 5.1 .4-9.4-1.8 9.3 2.6-8.8-1.5 6.4 1.5 1.7-4.2-3.9 6.3 2.4-5.5-6.6 5.7 3.8-4.3-4.5 .9 11.4-.1-.5-1.4-10.5 6.3-.8-27.6 24.3 10.6-20.8-6.2 3-3.3 4.5 7.9-8.1-10.1 15.2 2.8 12 2.9-21.5 5.1-3.5 8.3-1.3 1.3-1-18.2 20.3 4.1-15.3-1.2 1.8 13.4-4.3-15.6 3.3 15.9-3.5-15 4.2 13.3-4.7-13 4.6-2.1 2.9-.9 9-.8 5.6 8.5-21.6-6.8 4.6 .7-1.7-319 173.3 12.9-8.2-4.3 9.5-8-8.2 13.4 5.1-14.2-3.2 8.5-1.2 6.6 3.5-1 5.1-8.6-5.1-1.5 2.9 4 2.9 7.7-3.4-4.9-2.4 3.2-5.6-11.3 1.7 10.9 9.3-15.4-3.5 7.5 4.7 .9-10.8-1.5 3.1-2.3-1.4-5.2 2 3.3 1.7 9.3-6.4-12.1 7.5 6.1-2.7 5.3 5.4 3 6.7 1.6 2.8-2.3-6.9 .5 7.3 1.9-1.9 .5-1.4 144.6-38.8-5.5-1.7 5.8 2.9-4.1-4.6-1.6 1.5-.6-3.4 1.9 7.8-2.3-2.7 4.4 1.6-4.2 .9-1.2-2 8.6-1-6.4 4 6.7-1.9 1.6 14.5 4.5 .4 3 2.2-1-1.8-4.6 5.2 2.7-5.9-5.1 1.6 .9 3.2 1.8-5.8 187.8-10.9-6.9 .2 8.5-1.2 .9 0-1.4 4.3 3.1 1.6-7-3.2-4.8-.4 10.5-2.7-1.4 4.1 3.2 .2 7.1 2.9 1.6-2.7-13.6-.7 3.4 .6 7.3 .8-5.8 1.8 1.1-5.9 5.4 8.2-6.2-5.7 9 .9-14.5 1 7.3 3.8 7-4.8-8.5 1.6 8 2.6-1 2.1-4.8-5.2 5.1-.1 .4-1.9 .5 6.9-6-9.8 1.6 6.5 1.4-2.5-3.4 .8 6 3.5-2.6-.5-4.7-6.2 2.4 10.6 4.3-2.9-3.5 3.2 2.6-11" marker-start="url(#k6)" marker-mid="url(#k6)" marker-end="url(#k6)"/><path d="M405.6 28.4l-11.2 9.8 5.1-1.6-4.8 .4 16.1-10.7-7 3-.6 5.4-5.9 5.5 5.7-7-7.2 2.2 16.6-8.5-9.3 3.1 2.2 5.1 1.3-4.3-8.8 3 1.6-.6 7.8-4.4-1.8 1.5-7.4 4.4 6.7-5.5-.4 6.3 .7-5.8-4.3 6.4-5.2 3.9 9.1-5.8 2.9-6.9-7.2 11.3-5.5-.8 15.7-8.4-14.5 5.8 3.7-.8 1.5 .3 4.7-2.6-271.1 174.9-11.6-9.1 15.2 4.2-1.6-4.7-12 5.3 7.1-3.7-2.7 .5 3.1 7.2 11.9-6.1-8.9-4.8 3.4 8.1-4.9-5.5-6.2 6.7 3.3-1.2 11.9-.4-12.5-4.2 8.8-.3-9.8-4.3 10.3 9.2 2.8-4.7-1.2-.8-15.3 3.4 3.5-2.4 10.8-6.6-8 7 9.5 6.1-3.6-6.6 1.8-2-3.4 2.3-7.1 2-3.5-5.5 7 .9-8.2 .9 1.8 2.3 14.1-3.6 .1-3.7-13.2 .1-4.8 6.3 150.4 4.4 4.6-2.3-7.4 1.8 8.5 8.7 1.6-1.8-4.6-.5 2.6 2.6-3.8-2 4.4 3.1 147.8-14.2 11 1.3-6.1 3.6 7.8 5.8-4.2-3.4-5.3-4.4 5 8.5 2.9-3.6-4.9-15.1-9.5 1.5 16.1 1.5-13.7 1.3 10.8 8.6-4.6 1.5 2.7 .2 14.5-.2-8.6-5.3" marker-start="url(#k7)" marker-mid="url(#k7)" marker-end="url(#k7)"/><path d="M468.8 34.7l4 4.8-.7-.3 7.7 9 1.8-.6-4.2 .2-9.1-13.3 34.4 9.1-5.5-1 2.3-2.6-.5 5.2-15-6.8 24.6 10.1 1.1-1.4-12.1-2.7 7.7 2.4-19.4-9.5 21.5 9.1 2.2-2.2-18.4-5-3.8-2.8 6.2 4.5-4.8 .8 6.1 .5 8.1 1.9-9.6-4.3 13.9 9.2-14.1-8.3 22.3 6-19.5-2.5-6.3 8.5-1.6-.3-16.7-6.9 8.6 2.6 6.6 .8-6.6-1.3 5.6 19.4-6.5-7 1.4 4.7-12.9-12.3 14 12.1-19.9-11.1 10.3 0 11 7.7-12.5-3 11 2.7-12.7-8.5-9.8 4 21.4 11.3-2.4 .9 5.1-1.8-5.1 .7-390.7 116.9 3.7 9.2 5.7 .4-15.5-13 1.9 2.5 2.3-.9-8.9 10.1 17.4-.1-14.2-2.4 13.3 5.6-4.6-9.6 7.2 9.8-10.2-13.1 2.5 15.5-9-8.2 3.1-9.2 11.8 4-2.4-5.5-13 8.5 17.2 7.9-9.7-.6-8.7 2.3 9.1-7.8-45.5 20.2-3.5-3.7 2.1 3.4 1.5-.2-6.9-9.1 11.9 16.3-8.2-10.2-.2 4.5 4.5-8.8-5.1 7.3 2-7.7 .3 2.1 19.6 2 3.5-.6 2.5-1.6-8 5.8 1.5-2.2-4.9 2.6 12.1-7.7-14.4 1.6 2-1.4 11.2 1.3-13.9 3.1 .7 2 14.3-5.1-10.8 .3 3.4 5.6-7.4-3.3 8.6-5.2 2.3 4-1.4-3-1.1 .6-7.9 2.8 .7 10.3 3.2 1.3-4.7 2.4 3.4-3.3 4.9-14.4 2.4 5.6-4.8-1.4 8.7 .3-12.1 .5 207.6-36.8 22.1 7-8.9-11.3 5.7 9.7-5.6-5.5 5.9 7 3.7 .7-10.4-5.2-12.6-.6 9.4 2.7 4.2-6.8 6.4 8.4-8.4-5.7-11 1 3.8 1.8 .6 .1-5.6-1.6 23.2 2.9-24-5.4 12.4 1.1 12.3 6.4-7.7-8.8-.5 4.1-16.2-2.2 10.6 3.4 8.8-3.8-17.5 13-1.5-1.2 210.7-1.2-12.3-2.8 8-.5 0-2.6-5.3 .6 2.2-4.6 4.3 9.1-.3-5-4 4.7-6.5-5.3 7.8 3.7 3.5-.5 .8-3.6-10.3 .6 4.3 5.7-1.5-4.2 .3-2.3-1.8 2.6-1.5-2.1 8.9 .2-3-.4-6.9-2.3 9.6 12.6 5.2 1.7-2.1 .7 3.6 4.1-1.8-2.8 .8 .9-1.3-1.5-1.1-3.1 1.3 1.9" marker-start="url(#k8)" marker-mid="url(#k8)" marker-end="url(#k8)"/><path d="M471.7 42.7l11.5 6.7-7.5-5.8 10.2 5.7-14.1-6.8-15.9-14.5 33.4 22.5-4.9-3.6-11.5-1.2-2.5 9.4 8.4 4.4-.9 .7 1.6 .1 5.7 3.2-13.1-7.8 .8 2.1-9.5 11.5-1.2-.7 6.7 .7-1.1-.9 7.1 .6-397.5 105.5-1.6 2.4-2.5 7.1-1.5 7.3 2-9.3 .5 13.6 1-3.3 169.9 8.4 2.5 1-2.3-3.6 3.1 1.1-.3-.2-4.6 6.9-.3-3.3 4.9-1.5-5.1 6.9 4.7-2.1-6.9-2.7-1.3-.2 7.5-.3-4.7-4.6 1.1 6.3-.5-.5 1.2-4.4-3.9 2.4 8.3-.3-.4 3.8-2.7-5.3-3-1.3 3.2 4-5.2-1.2 5.8-2.7-.3 7 3.2-8.7-3.5 .3-.4 1.1-4.3 8.2-.4-6.5 10.3 2.8-6.7 4.7-.3-9.2-3.6-3.3 4.7 10.4 3.2-9.3-6.6 4 2.1 7.6 5.5-1.9-.1-1.1-8.8-5.8 8.7 4.5 .8-.4 20.7-6.4 .5-5.1 8.9 4.7-15.4-.7 221.7 .1-2.7-1.9-6.8-1.2 3.4 .6 .4-.3 .3 .8 .7 .1-3.5 .1-.3 9.4 8.1 .3-3-.5-9.9-.2 .4 .7-14.9 3.6 25.2-12.3 1.3-2.9-5.7 2.9 5 1.6 4.1-3.3-3.5 .4-.5 9.4-8.1 1.1-1.3-1.6 10.5-.7-7.3 2.7 .3-1.7 5.5-1.1-1.3 1.3" marker-start="url(#k9)" marker-mid="url(#k9)" marker-end="url(#k9)"/><path d="M390.7 59.5l97.8 38.8-368.9 74.4 2.3-5-5.8 2.1 6.2-.6-8.3 5 .6-2.3 2.3 .1 3.9-2.2-5.3 2.6-2.1 1.1 4.7-2.4-1.2-1.9-5.7 14.2 .5 1.1-.7-.5 3.8-2.9-2 1.2 161.5 6.1 1.4-4.7 2.5 4.6-1.7-.7-3.7-1 3.3-5.6-2 3.3 6.2-4.4-3.2 8.2-.8-5.2 3.3 .9-9.4-1.9 1.1-.9 7.2 .8-9.4-.6 9.9 6.7-8.3-3.4 4.4 3.5 3.2-3-3.8-8.2-.3 11.6-.9-5 6.5-1.3-4.6-2.4-5.1-1.2 9.1 8.8-1.1-1.2-4 9.2-7.7 .4 17.4-5-4.1 4.3 3.5 1.1-.6-2.4-3.4-2.4-8.7 4.5-6.9-4.8 13.6 7.7 2.9-6.2-3.3 3.6-12.8 .7 3.9 3.6 7.4-5.2-3.2 3.2-3.9-6.4-1.2-1.7 7.9 4.2-9.6 .5 16.8-.9-4.2 6.2-6.4-9.7-6.9 6.8 2-.4 9.4 1.7 0-1.6-6.7-7 207.2 26.3-.1-3.4-6.5 2.2 2.6 3 1.4-6.4-1.1 9.6-3.3-5.4-.9-.1 5.6-.8 4.1 6.5-4.4-3.8 1.3 4.2 12.5-4.3-13-1-2.5-.9 12.7 2.5-5-.1-5.5 .4 8.7-.1-8.9 2.9" marker-start="url(#k10)" marker-mid="url(#k10)" marker-end="url(#k10)"/><path d="M268.9 170l-3.7 .2 16.5-5.2-1.2 1.7-49.5 21.4 2.1 4.7-1.7-.4 2.2-2.6-2.9-1.4 6.9 22.4-1.2 2.5 3.4-2.4-1 .1 1.9 2-2.2 0 201.7-29.1-9.7-4.2 12.5 1.7-4.4-.1 0-.4-13.9 .5 13.2-1-3.5 1.7 11.6 0-5.1-3.5-11.5 1.7 19.6-6.6-3.8 1 5.9-.3-23.2 8.9 21.9-10.1-4.9 1.8 2.7 1.8-5 7 10-10.5-10.3 4.7-1.3 4.4" marker-start="url(#k11)" marker-mid="url(#k11)" marker-end="url(#k11)"/><path d="M239.3 167.1l8.7 10.3 7.1-9.2-7.7 11.8 4.8-5.2 3.8 2.4-6.8 1 4.3 4-.4-1.9-5.2-9.5 8.5 9.4-1.8 .8-6.2-14.2 3.4 2.1 6.3 9.1-4.9-4.4-11 5 9.4-10-3.9 11.5 2.1-13.4-1.6 2.1 9.9 1.9 .1 .8-2.4-2.3-7 9.7-2 4.8 1.3-13.7-7.3 8 10.8-4.8-1.4-3.1-2.5 9.1 3.5-11.7-5.1 14.4 7.2 1.5-6.8-3.1 10.3-9.3-2.4 11.5-8.5-5.4 9.5 3.3-13.5 .7 37.2 18.2-11.4-1.2-1.7-6 7.3 7 9.8-2.6-16-5.6 4.6 9.1-1.7-2.5 5-2.1-.8 4.2 9.1-9.6-4.1 6.8 1.3-7 125.6-10 4 5.5-5.6-1.2-5.1-2.6 .5 1.1 4.9-4.3-8.1 2 7.2 3.5-1.5 .4 2.3-5-7.2 4.8 8.1-6-5.5 2.4 4.9 4.5-1.2-9.1-1.3 3.9 1.5 3.7 .2 2.5-3-2.1 4.5 1.6" marker-start="url(#k12)" marker-mid="url(#k12)" marker-end="url(#k12)"/><path d="M248.9 153.5l-8.5 5 4.6-3.3 4-4-10.4 9.2 4.8-4.3 5.7-2-4.5 2.5-1.6-1.4 9.2-4.4-11.7 8.7 3.3-2-2.8 1.4 6.5-4.8-18.5 9.7 1.5 0 3.2 0 .4 3.1-3.8-3.6-.9 0-.4-.1 3.3 1.9-2.3-.1 275.2 15.9-6.7 3 12.7-1.2-1.4 5.3-2.4-3.4-.9 1.7 4.6-4.7-4.7 1.1-4.5 3.4 8.7-2.6 1.9 1.1-1.7 3.7-8.3-8.7 9.4 4.5-9.5-4.5-1.9 5 10.8-3.2-10.8 .2 2.6-1.3 3.7 2.8 7.2 .2-9.7-4.1-2.4 3.8" marker-start="url(#k13)" marker-mid="url(#k13)" marker-end="url(#k13)"/><path d="M318.9 194.2l-4-2.2 8.7-.3-3 1.4-7.4 1.6 16.1-4.8-.2 5.2 1.6-2.9-20.3 4.8 1.7-.9 7-4.8 0 .3 2.2 1.2 7.1-1.7-12.7 2.7 8-2.1-10.2 2.7 7.1-6.9-1.2 1.3 7.5-.7-15.5 9.5 15.2-5.2-5.7-4.4 .7-2.8 7.7 4.5 1 2-8.1 .4-6.4-.2-3.6 3.4 14.2-3.2-1 1.7-5-5.2 7 6.5-2.9-9.2-.9 7.3-9.3 .2 1.9 .6 12.3-2.3-9.2 3.6 5.5-5-69.6 36.2-4.5 7.3 6.7 2-2.5 .5 2.6-7-5.8-.1 .4 7.8 1.2-13.7-8.6 2.9 3.7 5.5 5.6 2.5 4.7-5.4-12.6-3.4-1.2 .2 2.9 3.2-2.6-2.4 12.8-1.2-9.4 3.3-3.2 2.8 10.6-5.9-3.7 5.4 2.2-4.6 3 9.6-3-5.1-7.4-5.1 7.7-1.9-2 6.4 5.5 3.1-.2 2.4-3.4-3.1-5.3-1.6 171.6-70.9 7.6 5.5-2.8-5.1-7.3-1.5-.9 3.6-1.5-4.2 14.5 3.8-6.6-2.8-7.6 1.5 10.1-1-10.4 2.7 11.1-.9 2.3 6.6-3.2-3.6-.3-1-4.8-6.7 .4 1.4-6.4 2.2 13.8 7.3-.3 .8-1.1-6.2-8.9-3.2 10 7.1-2.5-3 5.4-.8 1.8 5" marker-start="url(#k14)" marker-mid="url(#k14)" marker-end="url(#k14)"/><path d="M460.9 85.8l-2-5.4-4.8 1.1 .3-1.3 .7 1.5 3.6 3.1 1.9 1 2.8-5.1-2.1 5.1 8.1-6.4-4 4.4-2.4-4.6-4.6 1.9 20.6 7.6-3 .8-3 1.5-39.8 127.5 2-.7" marker-start="url(#k0)" marker-mid="url(#k0)" marker-end="url(#k0)"/><path d="M35.8 25.1l5.9 7.8-3.7-5.5 3.8 9.6-4.6-12.3 7.1 15.3-4.4-6.7 4.1 6.7-3.4-6.4-3.6-8.2 4.4 8-1-.4-2.4-7.2 6.1 15.5-4.8-9.8-1.7-1.6 8-1.5 .1-.7 .9 .9-3.5-4.8 2.5 4.3-1.9-5.2-2.7-3.4 .5 23.6-.1-1.1-5.9 1.9 21.9 .4-7.9 .3-10.7 .4 7.6-1 4.4-.5-8.8-1.5-2.6 1.7 4.7 .5-10.8-1.5 15.8 .9-7.5 1.8-4-4.5-2.8 2 11 2.2-9.6-3.2 24.6 3.3-23.3-2.6 5.7 2.2 7.7 1.1 5.9-2.1-2.4 1.4 .6-1.7 .8 1.5-.6-.8-7.8 2.4 2.2-3.5 6.1 2.9-5.1-3.1-4.5 .5-1.8 .6-.1-1.5 11.6 3.4-8.3-2.6-9.2-.9-1.1 1.7 20.3 1.7-12.1 .4-12.1-5.4 16.1 2.8-18.2-24.4 4.4 7.4 2.6 .5-8.2 10.9-3-3 270.8 24.4-49 17.9 .7 .8 .8-1.5-.8 8.1 171.5-8.2 3 1-357 112.5-4 5-.2 15.8" marker-start="url(#k1)" marker-mid="url(#k1)" marker-end="url(#k1)"/><path d="M109.9 70.4" marker-start="url(#k2)" marker-mid="url(#k2)" marker-end="url(#k2)"/><path d="M481.8 62.3l2.9-.9-6 2.8 5.4-.1-3.6-3.7-3.3 2.6 .3 .2-.1-1.4 4.9 1.3-3.2-.4 5.5 1.1-4.2-4.5-3.5 1 8.4 1.6-2.9 3 .3-4.1 2.3 .2-5.1 1.1-419.3 23.4 17.4 11-14.7-20.2 14.7 1.8 15 7.9-3 2 8.5-9.5 1.7 .4 1.6-.7 1.6 .4 1.6-.7-5.5 2.6-3 2.5 365.7-50.9 9.8 25.9-4-2-4.5-.5 34.5 20.1-435 83.2 49.8 21.5" marker-start="url(#k3)" marker-mid="url(#k3)" marker-end="url(#k3)"/><path d="M120.3 71l-14.8 15.4-.5-10.4 3.2 .5 184.5-58.3 1.8-.5 1.8 .5-1.2 1.8-1.8 1.2 2.4-4.1-1.8 2.3 2.9-2.6 111.8 8.7 19.4 53-174.3 124.6" marker-start="url(#k4)" marker-mid="url(#k4)" marker-end="url(#k4)"/><path d="M53.5 9.4l27.8 10.3-.6 5.9 23.4 13.5 27.9 3 1.3 .8 3.2-.8-17.3 23.4 2.8 7.1 14.3 4.4 90.4-25.6-5 9.1 6.6 9.1 1.7-1.7 208.8-54.9 16.8 0 1.5 5.9-389.6 157.6 1.5 1 11.5 39 2.5 2 2.4-4.5 1.7-.8 191.4-25.2-59.8-6.4 2.2 .5-1.1 .6 37.3 28.2 231.4-33.2 1.3 .7 1.3 1.3" marker-start="url(#k5)" marker-mid="url(#k5)" marker-end="url(#k5)"/><path d="M420.8 49.1l1.7 .7 1.8 .4 1.8 .9-6.6-.6 21.7 36.6 15.4 4.4-16.6-5 6 3.5 6-.5-399 101.6-1.4 3.3 12.9-18.4-2.5 8.5 186.9 4.2 48.2 11.1 2.7-.7 128-4.7 13.2-3.3" marker-start="url(#k6)" marker-mid="url(#k6)" marker-end="url(#k6)"/><path d="M405.7 40.9l.7-1 34.6-15.9 2.2 .8 1.5 .7 36.3-2.5 1.3 .6 1.2 1.2-.7 1.2-60.6 17.2 11.2-2-5.4 4.6-2 31.2-363.5 103.5 3.5 3.5-5 4 32.7 27.7 1.6 .8 1.7-1.7 128.5-52.3 34.3 2.4-17.1 8.8-8.6 7.9 21.1 30 41.5 24.4 0-.2-23.1-91.9 3.3 1.7 1.6 1.1-2.7 2.2 1.6 1.1-1.1 1.1-6 0 8.8-3.3-1.1 .5-1.4-1.1 209.2 32.9 0 .2" marker-start="url(#k7)" marker-mid="url(#k7)" marker-end="url(#k7)"/><path d="M402 40.9l18.2 13.5-4.9 11.4-368.9 111.5 7.9-1.4 3.3 4-9.2 5.9 1.9 4 2-14.3 8.7 5.5 4 0 3 3-8 8 11 1-8 6 3 2 3.8-1.5 2.6 .7 2.7 .6-4 1.1 5.3 11.3 2.4 2.5 2.5 .8 1.7 1.6-25.6-2.4 2.5 1.6-.8-2.8 18.9 3.6 34.1-31.8 12.6 10.8 4.6 4 4.6-7.3 4.6 6-12.9-3.3 120.6-.6 5.9 3.4 2.2 .5 7.7-14.3 2.2 .6 3.3-.6 2.2 1.1 199.1 15.4-.6-16.3 2 .6 1.9-.9 2.7 4.9-6 11.8" marker-start="url(#k8)" marker-mid="url(#k8)" marker-end="url(#k8)"/><path d="M448.3 26.2l17.7 1.8 6 5 18 20 4 2.5 3-4.5-11-1-55 27.5-374 83.3 2 1.3 2-2 10.5-4.6-41 27.7 32.5-.2 3 3-4 4 5 3-3 4 6-1-11-10 10 4-3.2-1 11.9 2.6-1.3 5.3 2.6 2.6 1.3-6.6-12.2 20.3 2.5 3.3-3.3 4.9 4.1 1.7 5 1.6 2.4 1.7 4.2 1.6 2.4 2.5-4.1 1.6-6.6-12.3-4.9 9 3.3-11.5 7.4 7.4 3.3 7.4-14.3-17.6-3.3 9.4 11 4.5 405.5-42.1-8.6 2.7-17.1 18.4 .6 3.3" marker-start="url(#k9)" marker-mid="url(#k9)" marker-end="url(#k9)"/><path d="M476.1 86.5l4.4-.7 4.4-1.5 2.9-.7-20.9-13.6-392.4 97.5 22 18.7 176.5 28.7" marker-start="url(#k10)" marker-mid="url(#k10)" marker-end="url(#k10)"/><path d="M236.3 196.1l239-14.5 0 .7 2.6 5.2-2.8-5.4 2.6 6 .4-.5" marker-start="url(#k11)" marker-mid="url(#k11)" marker-end="url(#k11)"/><path d="M235.2 184.9l41.7 55 135.8-52.8 1.9 .7 2-2 24.9-8.3 28 27.8 0-.5" marker-start="url(#k12)" marker-mid="url(#k12)" marker-end="url(#k12)"/><path d="M227.7 165.3l8.8-1.7 47.5 21.1 20.4 12.4" marker-start="url(#k14)" marker-mid="url(#k14)" marker-end="url(#k14)"/></g>
<rect x="14.2" y="4.4" width="139.1" height="104.9" fill="none" stroke="#9a9a9a" stroke-width="0.85"/>
<path d="M14.2 7h-1.3M14.2 22.93h-1.3M14.2 38.86h-1.3M14.2 54.79h-1.3M14.2 70.72h-1.3M14.2 86.65h-1.3M14.2 102.58h-1.3M16 109.3v1.3M37.4 109.3v1.3M58.8 109.3v1.3M80.2 109.3v1.3M101.6 109.3v1.3M123 109.3v1.3M144.4 109.3v1.3" stroke="#999" stroke-width="0.45" fill="none"/>
<g font-size="3.1" fill="#333">
<text x="12.5" y="8.1" text-anchor="end">60</text>
<text x="12.5" y="24.03" text-anchor="end">40</text>
<text x="12.5" y="39.96" text-anchor="end">20</text>
<text x="12.5" y="55.89" text-anchor="end">0</text>
<text x="12.5" y="71.82" text-anchor="end">−20</text>
<text x="12.5" y="87.75" text-anchor="end">−40</text>
<text x="12.5" y="103.68" text-anchor="end">−60</text>
<text x="16" y="113.8" text-anchor="middle">−60</text>
<text x="37.4" y="113.8" text-anchor="middle">−40</text>
<text x="58.8" y="113.8" text-anchor="middle">−20</text>
<text x="80.2" y="113.8" text-anchor="middle">0</text>
<text x="101.6" y="113.8" text-anchor="middle">20</text>
<text x="123" y="113.8" text-anchor="middle">40</text>
<text x="144.4" y="113.8" text-anchor="middle">60</text>
<text x="84" y="117.9" text-anchor="middle">t-SNE 1</text>
<text transform="translate(5.4 57.3) rotate(-90)" text-anchor="middle">t-SNE 2</text>
</g>
<rect x="156" y="4" width="20.4" height="29.6" rx="0.8" fill="#fff" fill-opacity="0.8" stroke="#dcdcdc" stroke-width="0.5"/>
<g font-size="3.1" fill="#222">
<text x="170.3" y="6.7" text-anchor="middle" font-size="2.9">Classes</text>
<text x="165.4" y="11.9">C1</text>
<text x="165.4" y="16">C2</text>
<text x="165.4" y="20.1">C3</text>
<text x="165.4" y="24.2">C4</text>
<text x="165.4" y="28.3">C5</text>
<text x="165.4" y="32.4">C6</text>
</g>
<circle cx="159.9" cy="10.8" r="0.95" fill="#f76e6c"/>
<circle cx="159.9" cy="14.9" r="0.95" fill="#ea4048"/>
<circle cx="159.9" cy="19" r="0.95" fill="#28d2b2"/>
<circle cx="159.9" cy="23.1" r="0.95" fill="#f47d22"/>
<circle cx="159.9" cy="27.2" r="0.95" fill="#22a2e6"/>
<circle cx="159.9" cy="31.3" r="0.95" fill="#f7a8ef"/>
<text x="86" y="133.2" text-anchor="middle" style="font-family:'Liberation Serif',serif;font-weight:bold" font-size="11" fill="#111"><tspan font-weight="normal">(</tspan>a<tspan font-weight="normal">)</tspan></text>
<rect x="197.3" y="2.9" width="142.1" height="107.8" fill="none" stroke="#9a9a9a" stroke-width="0.85"/>
<path d="M197.3 16.1h-1.3M197.3 30.05h-1.3M197.3 44h-1.3M197.3 57.95h-1.3M197.3 71.9h-1.3M197.3 85.85h-1.3M197.3 99.8h-1.3M200.6 110.7v1.3M218.1 110.7v1.3M235.6 110.7v1.3M253.1 110.7v1.3M270.6 110.7v1.3M288.1 110.7v1.3M305.6 110.7v1.3M323.1 110.7v1.3" stroke="#999" stroke-width="0.45" fill="none"/>
<g font-size="3.1" fill="#333">
<text x="195.6" y="17.2" text-anchor="end">60</text>
<text x="195.6" y="31.15" text-anchor="end">40</text>
<text x="195.6" y="45.1" text-anchor="end">20</text>
<text x="195.6" y="59.05" text-anchor="end">0</text>
<text x="195.6" y="73" text-anchor="end">−20</text>
<text x="195.6" y="86.95" text-anchor="end">−40</text>
<text x="195.6" y="100.9" text-anchor="end">−60</text>
<text x="200.6" y="115.2" text-anchor="middle">−80</text>
<text x="218.1" y="115.2" text-anchor="middle">−60</text>
<text x="235.6" y="115.2" text-anchor="middle">−40</text>
<text x="253.1" y="115.2" text-anchor="middle">−20</text>
<text x="270.6" y="115.2" text-anchor="middle">0</text>
<text x="288.1" y="115.2" text-anchor="middle">20</text>
<text x="305.6" y="115.2" text-anchor="middle">40</text>
<text x="323.1" y="115.2" text-anchor="middle">60</text>
<text x="268" y="118.9" text-anchor="middle">t-SNE 1</text>
<text transform="translate(188.6 57) rotate(-90)" text-anchor="middle">t-SNE 2</text>
</g>
<rect x="342.6" y="2.6" width="19.8" height="31.4" rx="0.8" fill="#fff" fill-opacity="0.8" stroke="#dcdcdc" stroke-width="0.5"/>
<g font-size="3.1" fill="#222">
<text x="356.6" y="5.9" text-anchor="middle" font-size="2.9">Classes</text>
<text x="352" y="10.7">C1</text>
<text x="352" y="14.9">C2</text>
<text x="352" y="19.1">C3</text>
<text x="352" y="23.3">C4</text>
<text x="352" y="27.5">C5</text>
<text x="352" y="31.7">C6</text>
</g>
<circle cx="346.6" cy="9.6" r="0.95" fill="#f76e6c"/>
<circle cx="346.6" cy="13.8" r="0.95" fill="#ea4048"/>
<circle cx="346.6" cy="18" r="0.95" fill="#28d2b2"/>
<circle cx="346.6" cy="22.2" r="0.95" fill="#f47d22"/>
<circle cx="346.6" cy="26.4" r="0.95" fill="#22a2e6"/>
<circle cx="346.6" cy="30.6" r="0.95" fill="#f7a8ef"/>
<text x="270.5" y="133.3" text-anchor="middle" style="font-family:'Liberation Serif',serif;font-weight:bold" font-size="11" fill="#111"><tspan font-weight="normal">(</tspan>b<tspan font-weight="normal">)</tspan></text>
<rect x="383.4" y="4.9" width="138.7" height="104.7" fill="none" stroke="#9a9a9a" stroke-width="0.85"/>
<path d="M383.4 5.3h-1.3M383.4 17.9h-1.3M383.4 30.5h-1.3M383.4 43.1h-1.3M383.4 55.7h-1.3M383.4 68.3h-1.3M383.4 80.9h-1.3M383.4 93.5h-1.3M383.4 106.1h-1.3M392.6 109.6v1.3M408.1 109.6v1.3M423.6 109.6v1.3M439.1 109.6v1.3M454.6 109.6v1.3M470.1 109.6v1.3M485.6 109.6v1.3M501.1 109.6v1.3M516.6 109.6v1.3" stroke="#999" stroke-width="0.45" fill="none"/>
<g font-size="3.1" fill="#333">
<text x="381.7" y="6.4" text-anchor="end">80</text>
<text x="381.7" y="19" text-anchor="end">60</text>
<text x="381.7" y="31.6" text-anchor="end">40</text>
<text x="381.7" y="44.2" text-anchor="end">20</text>
<text x="381.7" y="56.8" text-anchor="end">0</text>
<text x="381.7" y="69.4" text-anchor="end">−20</text>
<text x="381.7" y="82" text-anchor="end">−40</text>
<text x="381.7" y="94.6" text-anchor="end">−60</text>
<text x="381.7" y="107.2" text-anchor="end">−80</text>
<text x="392.6" y="114.1" text-anchor="middle">−80</text>
<text x="408.1" y="114.1" text-anchor="middle">−60</text>
<text x="423.6" y="114.1" text-anchor="middle">−40</text>
<text x="439.1" y="114.1" text-anchor="middle">−20</text>
<text x="454.6" y="114.1" text-anchor="middle">0</text>
<text x="470.1" y="114.1" text-anchor="middle">20</text>
<text x="485.6" y="114.1" text-anchor="middle">40</text>
<text x="501.1" y="114.1" text-anchor="middle">60</text>
<text x="516.6" y="114.1" text-anchor="middle">80</text>
<text x="454" y="117.4" text-anchor="middle">t-SNE 1</text>
<text transform="translate(373.6 57) rotate(-90)" text-anchor="middle">t-SNE 2</text>
</g>
<rect x="524.5" y="4" width="21.5" height="52" rx="0.8" fill="#fff" fill-opacity="0.8" stroke="#dcdcdc" stroke-width="0.5"/>
<g font-size="3.1" fill="#222">
<text x="539.15" y="7.7" text-anchor="middle" font-size="2.9">Classes</text>
<text x="533.5" y="12.5">C1</text>
<text x="533.5" y="16.59">C2</text>
<text x="533.5" y="20.68">C3</text>
<text x="533.5" y="24.77">C4</text>
<text x="533.5" y="28.86">C5</text>
<text x="533.5" y="32.95">C6</text>
<text x="533.5" y="37.04">C7</text>
<text x="533.5" y="41.13">C8</text>
<text x="533.5" y="45.22">C9</text>
<text x="533.5" y="49.31">C10</text>
<text x="533.5" y="53.4">C11</text>
</g>
<circle cx="528.5" cy="11.4" r="0.95" fill="#f76e6c"/>
<circle cx="528.5" cy="15.49" r="0.95" fill="#ea4048"/>
<circle cx="528.5" cy="19.58" r="0.95" fill="#28d2b2"/>
<circle cx="528.5" cy="23.67" r="0.95" fill="#f47d22"/>
<circle cx="528.5" cy="27.76" r="0.95" fill="#22a2e6"/>
<circle cx="528.5" cy="31.85" r="0.95" fill="#f7a8ef"/>
<circle cx="528.5" cy="35.94" r="0.95" fill="#d06cf0"/>
<circle cx="528.5" cy="40.03" r="0.95" fill="#9ae06a"/>
<circle cx="528.5" cy="44.12" r="0.95" fill="#30e8e8"/>
<circle cx="528.5" cy="48.21" r="0.95" fill="#2a8a52"/>
<circle cx="528.5" cy="52.3" r="0.95" fill="#7445bd"/>
<text x="454.5" y="133.3" text-anchor="middle" style="font-family:'Liberation Serif',serif;font-weight:bold" font-size="11" fill="#111"><tspan font-weight="normal">(</tspan>c<tspan font-weight="normal">)</tspan></text>
<rect x="14.5" y="139" width="138.8" height="105.2" fill="none" stroke="#9a9a9a" stroke-width="0.85"/>
<path d="M14.5 148.2h-1.3M14.5 160h-1.3M14.5 171.8h-1.3M14.5 183.6h-1.3M14.5 195.4h-1.3M14.5 207.2h-1.3M14.5 219h-1.3M14.5 230.8h-1.3M14.5 242.6h-1.3M28.75 244.2v1.3M45.2 244.2v1.3M61.65 244.2v1.3M78.1 244.2v1.3M94.55 244.2v1.3M111 244.2v1.3M127.45 244.2v1.3M143.9 244.2v1.3" stroke="#999" stroke-width="0.45" fill="none"/>
<g font-size="3.1" fill="#333">
<text x="12.8" y="149.3" text-anchor="end">80</text>
<text x="12.8" y="161.1" text-anchor="end">60</text>
<text x="12.8" y="172.9" text-anchor="end">40</text>
<text x="12.8" y="184.7" text-anchor="end">20</text>
<text x="12.8" y="196.5" text-anchor="end">0</text>
<text x="12.8" y="208.3" text-anchor="end">−20</text>
<text x="12.8" y="220.1" text-anchor="end">−40</text>
<text x="12.8" y="231.9" text-anchor="end">−60</text>
<text x="12.8" y="243.7" text-anchor="end">−80</text>
<text x="28.75" y="248.7" text-anchor="middle">−60</text>
<text x="45.2" y="248.7" text-anchor="middle">−40</text>
<text x="61.65" y="248.7" text-anchor="middle">−20</text>
<text x="78.1" y="248.7" text-anchor="middle">0</text>
<text x="94.55" y="248.7" text-anchor="middle">20</text>
<text x="111" y="248.7" text-anchor="middle">40</text>
<text x="127.45" y="248.7" text-anchor="middle">60</text>
<text x="143.9" y="248.7" text-anchor="middle">80</text>
<text x="84" y="252.1" text-anchor="middle">t-SNE 1</text>
<text transform="translate(5.4 191) rotate(-90)" text-anchor="middle">t-SNE 2</text>
</g>
<rect x="156.4" y="138" width="20.4" height="51.5" rx="0.8" fill="#fff" fill-opacity="0.8" stroke="#dcdcdc" stroke-width="0.5"/>
<g font-size="3.1" fill="#222">
<text x="170.5" y="141.5" text-anchor="middle" font-size="2.9">Classes</text>
<text x="165.4" y="146.5">C1</text>
<text x="165.4" y="150.66">C2</text>
<text x="165.4" y="154.82">C3</text>
<text x="165.4" y="158.98">C4</text>
<text x="165.4" y="163.14">C5</text>
<text x="165.4" y="167.3">C6</text>
<text x="165.4" y="171.46">C7</text>
<text x="165.4" y="175.62">C8</text>
<text x="165.4" y="179.78">C9</text>
<text x="165.4" y="183.94">C10</text>
<text x="165.4" y="188.1">C11</text>
</g>
<circle cx="160.3" cy="145.4" r="0.95" fill="#f76e6c"/>
<circle cx="160.3" cy="149.56" r="0.95" fill="#ea4048"/>
<circle cx="160.3" cy="153.72" r="0.95" fill="#28d2b2"/>
<circle cx="160.3" cy="157.88" r="0.95" fill="#f47d22"/>
<circle cx="160.3" cy="162.04" r="0.95" fill="#22a2e6"/>
<circle cx="160.3" cy="166.2" r="0.95" fill="#f7a8ef"/>
<circle cx="160.3" cy="170.36" r="0.95" fill="#d06cf0"/>
<circle cx="160.3" cy="174.52" r="0.95" fill="#9ae06a"/>
<circle cx="160.3" cy="178.68" r="0.95" fill="#30e8e8"/>
<circle cx="160.3" cy="182.84" r="0.95" fill="#2a8a52"/>
<circle cx="160.3" cy="187" r="0.95" fill="#7445bd"/>
<text x="86" y="268.3" text-anchor="middle" style="font-family:'Liberation Serif',serif;font-weight:bold" font-size="11" fill="#111"><tspan font-weight="normal">(</tspan>d<tspan font-weight="normal">)</tspan></text>
<rect x="198.5" y="139" width="139.1" height="105.2" fill="none" stroke="#9a9a9a" stroke-width="0.85"/>
<path d="M198.5 145.2h-1.3M198.5 157.35h-1.3M198.5 169.5h-1.3M198.5 181.65h-1.3M198.5 193.8h-1.3M198.5 205.95h-1.3M198.5 218.1h-1.3M198.5 230.25h-1.3M198.5 242.4h-1.3M214.6 244.2v1.3M232.6 244.2v1.3M250.6 244.2v1.3M268.6 244.2v1.3M286.6 244.2v1.3M304.6 244.2v1.3M322.6 244.2v1.3" stroke="#999" stroke-width="0.45" fill="none"/>
<g font-size="3.1" fill="#333">
<text x="196.8" y="146.3" text-anchor="end">80</text>
<text x="196.8" y="158.45" text-anchor="end">60</text>
<text x="196.8" y="170.6" text-anchor="end">40</text>
<text x="196.8" y="182.75" text-anchor="end">20</text>
<text x="196.8" y="194.9" text-anchor="end">0</text>
<text x="196.8" y="207.05" text-anchor="end">−20</text>
<text x="196.8" y="219.2" text-anchor="end">−40</text>
<text x="196.8" y="231.35" text-anchor="end">−60</text>
<text x="196.8" y="243.5" text-anchor="end">−80</text>
<text x="214.6" y="248.7" text-anchor="middle">−75</text>
<text x="232.6" y="248.7" text-anchor="middle">−50</text>
<text x="250.6" y="248.7" text-anchor="middle">−25</text>
<text x="268.6" y="248.7" text-anchor="middle">0</text>
<text x="286.6" y="248.7" text-anchor="middle">25</text>
<text x="304.6" y="248.7" text-anchor="middle">50</text>
<text x="322.6" y="248.7" text-anchor="middle">75</text>
<text x="267.5" y="252.1" text-anchor="middle">t-SNE 1</text>
<text transform="translate(189.6 191) rotate(-90)" text-anchor="middle">t-SNE 2</text>
</g>
<rect x="339.5" y="138.3" width="20.8" height="66.9" rx="0.8" fill="#fff" fill-opacity="0.8" stroke="#dcdcdc" stroke-width="0.5"/>
<g font-size="3.1" fill="#222">
<text x="353.75" y="141.9" text-anchor="middle" font-size="2.9">Classes</text>
<text x="348.4" y="146.7">C1</text>
<text x="348.4" y="150.8">C2</text>
<text x="348.4" y="154.9">C3</text>
<text x="348.4" y="159">C4</text>
<text x="348.4" y="163.1">C5</text>
<text x="348.4" y="167.2">C6</text>
<text x="348.4" y="171.3">C7</text>
<text x="348.4" y="175.4">C8</text>
<text x="348.4" y="179.5">C9</text>
<text x="348.4" y="183.6">C10</text>
<text x="348.4" y="187.7">C11</text>
<text x="348.4" y="191.8">C12</text>
<text x="348.4" y="195.9">C13</text>
<text x="348.4" y="200">C14</text>
<text x="348.4" y="204.1">C15</text>
</g>
<circle cx="343.2" cy="145.6" r="0.95" fill="#f76e6c"/>
<circle cx="343.2" cy="149.7" r="0.95" fill="#ea4048"/>
<circle cx="343.2" cy="153.8" r="0.95" fill="#28d2b2"/>
<circle cx="343.2" cy="157.9" r="0.95" fill="#f47d22"/>
<circle cx="343.2" cy="162" r="0.95" fill="#22a2e6"/>
<circle cx="343.2" cy="166.1" r="0.95" fill="#f7a8ef"/>
<circle cx="343.2" cy="170.2" r="0.95" fill="#d06cf0"/>
<circle cx="343.2" cy="174.3" r="0.95" fill="#9ae06a"/>
<circle cx="343.2" cy="178.4" r="0.95" fill="#30e8e8"/>
<circle cx="343.2" cy="182.5" r="0.95" fill="#2a8a52"/>
<circle cx="343.2" cy="186.6" r="0.95" fill="#7445bd"/>
<circle cx="343.2" cy="190.7" r="0.95" fill="#dcc0a0"/>
<circle cx="343.2" cy="194.8" r="0.95" fill="#f5307e"/>
<circle cx="343.2" cy="198.9" r="0.95" fill="#fddc98"/>
<circle cx="343.2" cy="203" r="0.95" fill="#f79a32"/>
<text x="270" y="268.3" text-anchor="middle" style="font-family:'Liberation Serif',serif;font-weight:bold" font-size="11" fill="#111"><tspan font-weight="normal">(</tspan>e<tspan font-weight="normal">)</tspan></text>
<rect x="383.3" y="139" width="138.3" height="105.2" fill="none" stroke="#9a9a9a" stroke-width="0.85"/>
<path d="M383.3 151.5h-1.3M383.3 164.9h-1.3M383.3 178.3h-1.3M383.3 191.7h-1.3M383.3 205.1h-1.3M383.3 218.5h-1.3M383.3 231.9h-1.3M384.2 244.2v1.3M401.5 244.2v1.3M418.8 244.2v1.3M436.1 244.2v1.3M453.4 244.2v1.3M470.7 244.2v1.3M488 244.2v1.3M505.3 244.2v1.3" stroke="#999" stroke-width="0.45" fill="none"/>
<g font-size="3.1" fill="#333">
<text x="381.6" y="152.6" text-anchor="end">75</text>
<text x="381.6" y="166" text-anchor="end">50</text>
<text x="381.6" y="179.4" text-anchor="end">25</text>
<text x="381.6" y="192.8" text-anchor="end">0</text>
<text x="381.6" y="206.2" text-anchor="end">−25</text>
<text x="381.6" y="219.6" text-anchor="end">−50</text>
<text x="381.6" y="233" text-anchor="end">−75</text>
<text x="384.2" y="248.7" text-anchor="middle">−100</text>
<text x="401.5" y="248.7" text-anchor="middle">−75</text>
<text x="418.8" y="248.7" text-anchor="middle">−50</text>
<text x="436.1" y="248.7" text-anchor="middle">−25</text>
<text x="453.4" y="248.7" text-anchor="middle">0</text>
<text x="470.7" y="248.7" text-anchor="middle">25</text>
<text x="488" y="248.7" text-anchor="middle">50</text>
<text x="505.3" y="248.7" text-anchor="middle">75</text>
<text x="452.5" y="252.1" text-anchor="middle">t-SNE 1</text>
<text transform="translate(373.6 191) rotate(-90)" text-anchor="middle">t-SNE 2</text>
</g>
<rect x="524.8" y="138.3" width="21.4" height="66.9" rx="0.8" fill="#fff" fill-opacity="0.8" stroke="#dcdcdc" stroke-width="0.5"/>
<g font-size="3.1" fill="#222">
<text x="539.3" y="141.9" text-anchor="middle" font-size="2.9">Classes</text>
<text x="533.6" y="146.7">C1</text>
<text x="533.6" y="150.81">C2</text>
<text x="533.6" y="154.92">C3</text>
<text x="533.6" y="159.03">C4</text>
<text x="533.6" y="163.14">C5</text>
<text x="533.6" y="167.25">C6</text>
<text x="533.6" y="171.36">C7</text>
<text x="533.6" y="175.47">C8</text>
<text x="533.6" y="179.58">C9</text>
<text x="533.6" y="183.69">C10</text>
<text x="533.6" y="187.8">C11</text>
<text x="533.6" y="191.91">C12</text>
<text x="533.6" y="196.02">C13</text>
<text x="533.6" y="200.13">C14</text>
<text x="533.6" y="204.24">C15</text>
</g>
<circle cx="528.4" cy="145.6" r="0.95" fill="#f76e6c"/>
<circle cx="528.4" cy="149.71" r="0.95" fill="#ea4048"/>
<circle cx="528.4" cy="153.82" r="0.95" fill="#28d2b2"/>
<circle cx="528.4" cy="157.93" r="0.95" fill="#f47d22"/>
<circle cx="528.4" cy="162.04" r="0.95" fill="#22a2e6"/>
<circle cx="528.4" cy="166.15" r="0.95" fill="#f7a8ef"/>
<circle cx="528.4" cy="170.26" r="0.95" fill="#d06cf0"/>
<circle cx="528.4" cy="174.37" r="0.95" fill="#9ae06a"/>
<circle cx="528.4" cy="178.48" r="0.95" fill="#30e8e8"/>
<circle cx="528.4" cy="182.59" r="0.95" fill="#2a8a52"/>
<circle cx="528.4" cy="186.7" r="0.95" fill="#7445bd"/>
<circle cx="528.4" cy="190.81" r="0.95" fill="#dcc0a0"/>
<circle cx="528.4" cy="194.92" r="0.95" fill="#f5307e"/>
<circle cx="528.4" cy="199.03" r="0.95" fill="#fddc98"/>
<circle cx="528.4" cy="203.14" r="0.95" fill="#f79a32"/>
<text x="454.7" y="268.3" text-anchor="middle" style="font-family:'Liberation Serif',serif;font-weight:bold" font-size="11" fill="#111"><tspan font-weight="normal">(</tspan>f<tspan font-weight="normal">)</tspan></text>
</svg></body></html>
